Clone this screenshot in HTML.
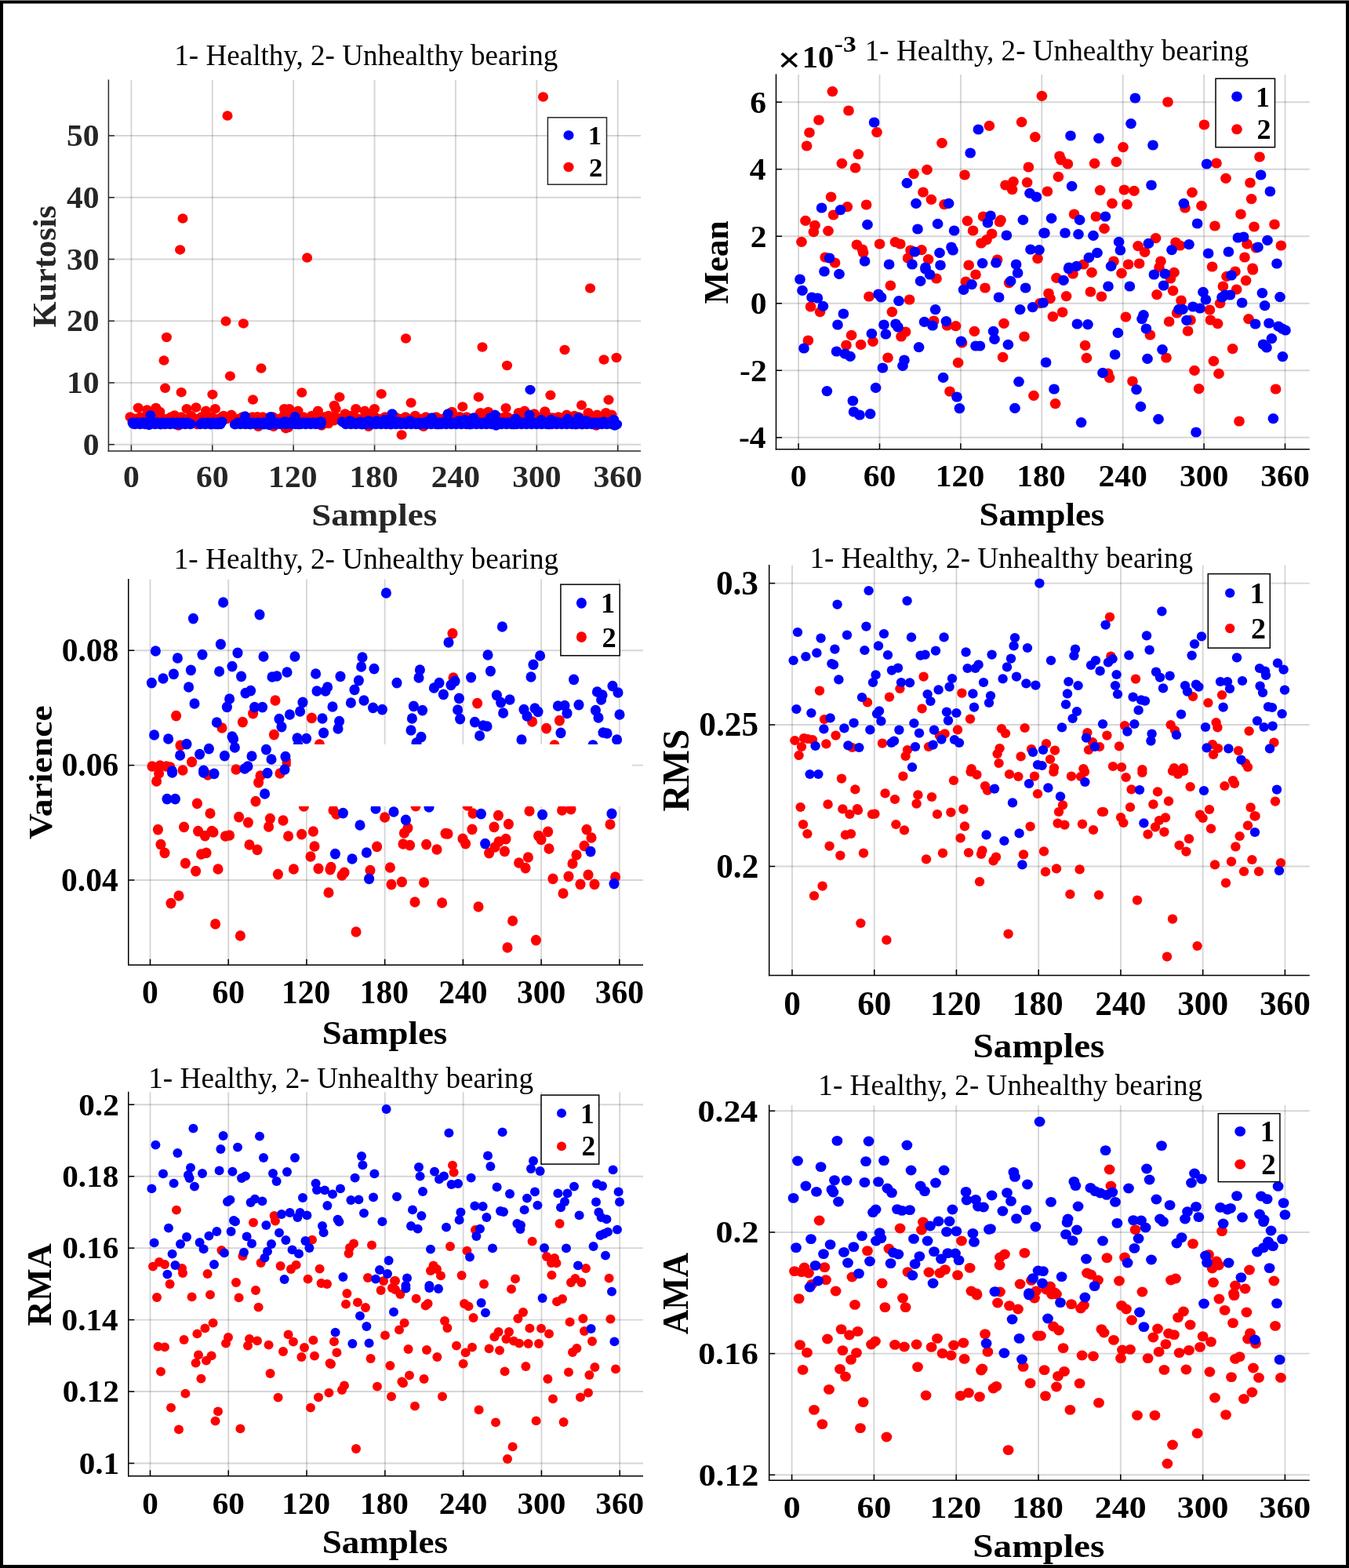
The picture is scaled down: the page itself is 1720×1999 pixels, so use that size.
<!DOCTYPE html>
<html><head><meta charset="utf-8"><title>Bearing features</title>
<style>html,body{margin:0;padding:0;background:#fff}svg{display:block}
text{font-family:"Liberation Serif","Times New Roman",serif}</style></head>
<body><svg width="1720" height="1999" viewBox="0 0 1720 1999">
<rect x="0" y="0" width="1720" height="1999" fill="#fff"/>
<g stroke="#262626" stroke-opacity="0.19" stroke-width="1.9"><line x1="167.4" y1="102" x2="167.4" y2="575"/><line x1="270.78" y1="102" x2="270.78" y2="575"/><line x1="374.17" y1="102" x2="374.17" y2="575"/><line x1="477.55" y1="102" x2="477.55" y2="575"/><line x1="580.93" y1="102" x2="580.93" y2="575"/><line x1="684.32" y1="102" x2="684.32" y2="575"/><line x1="787.7" y1="102" x2="787.7" y2="575"/><line x1="138.4" y1="566.7" x2="817" y2="566.7"/><line x1="138.4" y1="487.96" x2="817" y2="487.96"/><line x1="138.4" y1="409.22" x2="817" y2="409.22"/><line x1="138.4" y1="330.48" x2="817" y2="330.48"/><line x1="138.4" y1="251.74" x2="817" y2="251.74"/><line x1="138.4" y1="173" x2="817" y2="173"/></g>
<g fill="#ff0000"><ellipse cx="290" cy="147.6" rx="6.55" ry="6.25"/><ellipse cx="233" cy="278.6" rx="6.55" ry="6.25"/><ellipse cx="229.6" cy="318.4" rx="6.55" ry="6.25"/><ellipse cx="391.6" cy="328.6" rx="6.55" ry="6.25"/><ellipse cx="288" cy="409.6" rx="6.55" ry="6.25"/><ellipse cx="310.4" cy="412.4" rx="6.55" ry="6.25"/><ellipse cx="212.4" cy="430" rx="6.55" ry="6.25"/><ellipse cx="209" cy="459.6" rx="6.55" ry="6.25"/><ellipse cx="333" cy="469.6" rx="6.55" ry="6.25"/><ellipse cx="293.4" cy="479.4" rx="6.55" ry="6.25"/><ellipse cx="692.5" cy="123.5" rx="6.55" ry="6.25"/><ellipse cx="752.5" cy="367.5" rx="6.55" ry="6.25"/><ellipse cx="517.5" cy="431.5" rx="6.55" ry="6.25"/><ellipse cx="615" cy="442.5" rx="6.55" ry="6.25"/><ellipse cx="720" cy="446" rx="6.55" ry="6.25"/><ellipse cx="770" cy="458.5" rx="6.55" ry="6.25"/><ellipse cx="786" cy="456" rx="6.55" ry="6.25"/><ellipse cx="646.5" cy="466" rx="6.55" ry="6.25"/><ellipse cx="210.6" cy="494.8" rx="6.55" ry="6.25"/><ellipse cx="231.2" cy="500.2" rx="6.55" ry="6.25"/><ellipse cx="270.9" cy="502.9" rx="6.55" ry="6.25"/><ellipse cx="322.5" cy="509.6" rx="6.55" ry="6.25"/><ellipse cx="176.2" cy="520" rx="6.55" ry="6.25"/><ellipse cx="187.5" cy="522.5" rx="6.55" ry="6.25"/><ellipse cx="198.8" cy="520" rx="6.55" ry="6.25"/><ellipse cx="203.8" cy="525" rx="6.55" ry="6.25"/><ellipse cx="222.5" cy="529.4" rx="6.55" ry="6.25"/><ellipse cx="238.1" cy="521.2" rx="6.55" ry="6.25"/><ellipse cx="250" cy="519.4" rx="6.55" ry="6.25"/><ellipse cx="262.5" cy="523.8" rx="6.55" ry="6.25"/><ellipse cx="274.4" cy="521.2" rx="6.55" ry="6.25"/><ellipse cx="243.8" cy="530" rx="6.55" ry="6.25"/><ellipse cx="285" cy="530" rx="6.55" ry="6.25"/><ellipse cx="295" cy="528.8" rx="6.55" ry="6.25"/><ellipse cx="328.1" cy="531.2" rx="6.55" ry="6.25"/><ellipse cx="334.4" cy="532.5" rx="6.55" ry="6.25"/><ellipse cx="362.5" cy="521.2" rx="6.55" ry="6.25"/><ellipse cx="362.5" cy="528.8" rx="6.55" ry="6.25"/><ellipse cx="172.5" cy="533.8" rx="6.55" ry="6.25"/><ellipse cx="181.2" cy="532.5" rx="6.55" ry="6.25"/><ellipse cx="227.5" cy="542.5" rx="6.55" ry="6.25"/><ellipse cx="251.2" cy="541.2" rx="6.55" ry="6.25"/><ellipse cx="329.4" cy="543.8" rx="6.55" ry="6.25"/><ellipse cx="348.8" cy="543.8" rx="6.55" ry="6.25"/><ellipse cx="364.4" cy="546.2" rx="6.55" ry="6.25"/><ellipse cx="384.8" cy="500.6" rx="6.55" ry="6.25"/><ellipse cx="432.9" cy="506.2" rx="6.55" ry="6.25"/><ellipse cx="486.2" cy="502.2" rx="6.55" ry="6.25"/><ellipse cx="524.1" cy="513.5" rx="6.55" ry="6.25"/><ellipse cx="512.1" cy="554.4" rx="6.55" ry="6.25"/><ellipse cx="368.8" cy="521.2" rx="6.55" ry="6.25"/><ellipse cx="380" cy="523.8" rx="6.55" ry="6.25"/><ellipse cx="405.4" cy="523.8" rx="6.55" ry="6.25"/><ellipse cx="426.2" cy="516.9" rx="6.55" ry="6.25"/><ellipse cx="428.1" cy="521.2" rx="6.55" ry="6.25"/><ellipse cx="397.5" cy="530" rx="6.55" ry="6.25"/><ellipse cx="418.8" cy="530" rx="6.55" ry="6.25"/><ellipse cx="430" cy="532.5" rx="6.55" ry="6.25"/><ellipse cx="426.2" cy="536.2" rx="6.55" ry="6.25"/><ellipse cx="440" cy="527.5" rx="6.55" ry="6.25"/><ellipse cx="453.8" cy="521.2" rx="6.55" ry="6.25"/><ellipse cx="465" cy="523.8" rx="6.55" ry="6.25"/><ellipse cx="477.5" cy="521.2" rx="6.55" ry="6.25"/><ellipse cx="447.5" cy="530" rx="6.55" ry="6.25"/><ellipse cx="468.8" cy="527.5" rx="6.55" ry="6.25"/><ellipse cx="490.6" cy="532.5" rx="6.55" ry="6.25"/><ellipse cx="508.8" cy="533.8" rx="6.55" ry="6.25"/><ellipse cx="529.4" cy="530" rx="6.55" ry="6.25"/><ellipse cx="537.5" cy="536.2" rx="6.55" ry="6.25"/><ellipse cx="555" cy="532.5" rx="6.55" ry="6.25"/><ellipse cx="367.5" cy="545" rx="6.55" ry="6.25"/><ellipse cx="410" cy="542.5" rx="6.55" ry="6.25"/><ellipse cx="418.8" cy="540" rx="6.55" ry="6.25"/><ellipse cx="470" cy="543.8" rx="6.55" ry="6.25"/><ellipse cx="540" cy="543.8" rx="6.55" ry="6.25"/><ellipse cx="610.2" cy="506.2" rx="6.55" ry="6.25"/><ellipse cx="589.8" cy="518.4" rx="6.55" ry="6.25"/><ellipse cx="645" cy="520.2" rx="6.55" ry="6.25"/><ellipse cx="701.9" cy="503.8" rx="6.55" ry="6.25"/><ellipse cx="694.8" cy="524.4" rx="6.55" ry="6.25"/><ellipse cx="741.5" cy="516.6" rx="6.55" ry="6.25"/><ellipse cx="776" cy="509.8" rx="6.55" ry="6.25"/><ellipse cx="576.2" cy="525" rx="6.55" ry="6.25"/><ellipse cx="586.2" cy="531.2" rx="6.55" ry="6.25"/><ellipse cx="612.5" cy="526.2" rx="6.55" ry="6.25"/><ellipse cx="622.5" cy="525" rx="6.55" ry="6.25"/><ellipse cx="643.8" cy="531.2" rx="6.55" ry="6.25"/><ellipse cx="661.2" cy="526.2" rx="6.55" ry="6.25"/><ellipse cx="668.8" cy="523.8" rx="6.55" ry="6.25"/><ellipse cx="681.2" cy="527.5" rx="6.55" ry="6.25"/><ellipse cx="705" cy="532.5" rx="6.55" ry="6.25"/><ellipse cx="722.5" cy="528.8" rx="6.55" ry="6.25"/><ellipse cx="732.5" cy="530" rx="6.55" ry="6.25"/><ellipse cx="750" cy="526.2" rx="6.55" ry="6.25"/><ellipse cx="761.2" cy="528.8" rx="6.55" ry="6.25"/><ellipse cx="772.5" cy="526.2" rx="6.55" ry="6.25"/><ellipse cx="780" cy="528.8" rx="6.55" ry="6.25"/><ellipse cx="760" cy="542.5" rx="6.55" ry="6.25"/><ellipse cx="742.5" cy="541.2" rx="6.55" ry="6.25"/><ellipse cx="166" cy="531.5" rx="6.55" ry="6.25"/><ellipse cx="172.5" cy="534" rx="6.55" ry="6.25"/><ellipse cx="179" cy="531.5" rx="6.55" ry="6.25"/><ellipse cx="185.5" cy="534" rx="6.55" ry="6.25"/><ellipse cx="192" cy="531.5" rx="6.55" ry="6.25"/><ellipse cx="198.5" cy="534" rx="6.55" ry="6.25"/><ellipse cx="205" cy="531.5" rx="6.55" ry="6.25"/><ellipse cx="211.5" cy="534" rx="6.55" ry="6.25"/><ellipse cx="218" cy="531.5" rx="6.55" ry="6.25"/><ellipse cx="224.5" cy="534" rx="6.55" ry="6.25"/><ellipse cx="231" cy="531.5" rx="6.55" ry="6.25"/><ellipse cx="237.5" cy="534" rx="6.55" ry="6.25"/><ellipse cx="244" cy="531.5" rx="6.55" ry="6.25"/><ellipse cx="250.5" cy="534" rx="6.55" ry="6.25"/><ellipse cx="257" cy="531.5" rx="6.55" ry="6.25"/><ellipse cx="263.5" cy="534" rx="6.55" ry="6.25"/><ellipse cx="270" cy="531.5" rx="6.55" ry="6.25"/><ellipse cx="276.5" cy="534" rx="6.55" ry="6.25"/><ellipse cx="283" cy="531.5" rx="6.55" ry="6.25"/><ellipse cx="289.5" cy="534" rx="6.55" ry="6.25"/><ellipse cx="296" cy="531.5" rx="6.55" ry="6.25"/><ellipse cx="302.5" cy="534" rx="6.55" ry="6.25"/><ellipse cx="309" cy="531.5" rx="6.55" ry="6.25"/><ellipse cx="315.5" cy="534" rx="6.55" ry="6.25"/><ellipse cx="322" cy="531.5" rx="6.55" ry="6.25"/><ellipse cx="328.5" cy="534" rx="6.55" ry="6.25"/><ellipse cx="335" cy="531.5" rx="6.55" ry="6.25"/><ellipse cx="341.5" cy="534" rx="6.55" ry="6.25"/><ellipse cx="348" cy="531.5" rx="6.55" ry="6.25"/><ellipse cx="354.5" cy="534" rx="6.55" ry="6.25"/><ellipse cx="361" cy="531.5" rx="6.55" ry="6.25"/><ellipse cx="367.5" cy="534" rx="6.55" ry="6.25"/><ellipse cx="374" cy="531.5" rx="6.55" ry="6.25"/><ellipse cx="380.5" cy="534" rx="6.55" ry="6.25"/><ellipse cx="387" cy="531.5" rx="6.55" ry="6.25"/><ellipse cx="393.5" cy="534" rx="6.55" ry="6.25"/><ellipse cx="400" cy="531.5" rx="6.55" ry="6.25"/><ellipse cx="406.5" cy="534" rx="6.55" ry="6.25"/><ellipse cx="413" cy="531.5" rx="6.55" ry="6.25"/><ellipse cx="419.5" cy="534" rx="6.55" ry="6.25"/><ellipse cx="426" cy="531.5" rx="6.55" ry="6.25"/><ellipse cx="432.5" cy="534" rx="6.55" ry="6.25"/><ellipse cx="439" cy="531.5" rx="6.55" ry="6.25"/><ellipse cx="445.5" cy="534" rx="6.55" ry="6.25"/><ellipse cx="452" cy="531.5" rx="6.55" ry="6.25"/><ellipse cx="458.5" cy="534" rx="6.55" ry="6.25"/><ellipse cx="465" cy="531.5" rx="6.55" ry="6.25"/><ellipse cx="471.5" cy="534" rx="6.55" ry="6.25"/><ellipse cx="478" cy="531.5" rx="6.55" ry="6.25"/><ellipse cx="484.5" cy="534" rx="6.55" ry="6.25"/><ellipse cx="491" cy="531.5" rx="6.55" ry="6.25"/><ellipse cx="497.5" cy="534" rx="6.55" ry="6.25"/><ellipse cx="504" cy="531.5" rx="6.55" ry="6.25"/><ellipse cx="510.5" cy="534" rx="6.55" ry="6.25"/><ellipse cx="517" cy="531.5" rx="6.55" ry="6.25"/><ellipse cx="523.5" cy="534" rx="6.55" ry="6.25"/><ellipse cx="530" cy="531.5" rx="6.55" ry="6.25"/><ellipse cx="536.5" cy="534" rx="6.55" ry="6.25"/><ellipse cx="543" cy="531.5" rx="6.55" ry="6.25"/><ellipse cx="549.5" cy="534" rx="6.55" ry="6.25"/><ellipse cx="556" cy="531.5" rx="6.55" ry="6.25"/><ellipse cx="562.5" cy="534" rx="6.55" ry="6.25"/><ellipse cx="569" cy="531.5" rx="6.55" ry="6.25"/><ellipse cx="575.5" cy="534" rx="6.55" ry="6.25"/><ellipse cx="582" cy="531.5" rx="6.55" ry="6.25"/><ellipse cx="588.5" cy="534" rx="6.55" ry="6.25"/><ellipse cx="595" cy="531.5" rx="6.55" ry="6.25"/><ellipse cx="601.5" cy="534" rx="6.55" ry="6.25"/><ellipse cx="608" cy="531.5" rx="6.55" ry="6.25"/><ellipse cx="614.5" cy="534" rx="6.55" ry="6.25"/><ellipse cx="621" cy="531.5" rx="6.55" ry="6.25"/><ellipse cx="627.5" cy="534" rx="6.55" ry="6.25"/><ellipse cx="634" cy="531.5" rx="6.55" ry="6.25"/><ellipse cx="640.5" cy="534" rx="6.55" ry="6.25"/><ellipse cx="647" cy="531.5" rx="6.55" ry="6.25"/><ellipse cx="653.5" cy="534" rx="6.55" ry="6.25"/><ellipse cx="660" cy="531.5" rx="6.55" ry="6.25"/><ellipse cx="666.5" cy="534" rx="6.55" ry="6.25"/><ellipse cx="673" cy="531.5" rx="6.55" ry="6.25"/><ellipse cx="679.5" cy="534" rx="6.55" ry="6.25"/><ellipse cx="686" cy="531.5" rx="6.55" ry="6.25"/><ellipse cx="692.5" cy="534" rx="6.55" ry="6.25"/><ellipse cx="699" cy="531.5" rx="6.55" ry="6.25"/><ellipse cx="705.5" cy="534" rx="6.55" ry="6.25"/><ellipse cx="712" cy="531.5" rx="6.55" ry="6.25"/><ellipse cx="718.5" cy="534" rx="6.55" ry="6.25"/><ellipse cx="725" cy="531.5" rx="6.55" ry="6.25"/><ellipse cx="731.5" cy="534" rx="6.55" ry="6.25"/><ellipse cx="738" cy="531.5" rx="6.55" ry="6.25"/><ellipse cx="744.5" cy="534" rx="6.55" ry="6.25"/><ellipse cx="751" cy="531.5" rx="6.55" ry="6.25"/><ellipse cx="757.5" cy="534" rx="6.55" ry="6.25"/><ellipse cx="764" cy="531.5" rx="6.55" ry="6.25"/><ellipse cx="770.5" cy="534" rx="6.55" ry="6.25"/><ellipse cx="777" cy="531.5" rx="6.55" ry="6.25"/></g>
<g fill="#0000ff"><ellipse cx="170" cy="540.6" rx="6.55" ry="6.25"/><ellipse cx="176.9" cy="540" rx="6.55" ry="6.25"/><ellipse cx="182.5" cy="538.8" rx="6.55" ry="6.25"/><ellipse cx="190" cy="541.9" rx="6.55" ry="6.25"/><ellipse cx="191.9" cy="529.4" rx="6.55" ry="6.25"/><ellipse cx="197.5" cy="538.8" rx="6.55" ry="6.25"/><ellipse cx="205" cy="541.2" rx="6.55" ry="6.25"/><ellipse cx="215" cy="540" rx="6.55" ry="6.25"/><ellipse cx="225" cy="540.6" rx="6.55" ry="6.25"/><ellipse cx="236.2" cy="539.4" rx="6.55" ry="6.25"/><ellipse cx="243.1" cy="540.6" rx="6.55" ry="6.25"/><ellipse cx="257.5" cy="539.4" rx="6.55" ry="6.25"/><ellipse cx="269.4" cy="541.2" rx="6.55" ry="6.25"/><ellipse cx="277.5" cy="541.2" rx="6.55" ry="6.25"/><ellipse cx="283.1" cy="537.5" rx="6.55" ry="6.25"/><ellipse cx="299.4" cy="541.2" rx="6.55" ry="6.25"/><ellipse cx="308.8" cy="540" rx="6.55" ry="6.25"/><ellipse cx="312.5" cy="530.6" rx="6.55" ry="6.25"/><ellipse cx="318.8" cy="541.2" rx="6.55" ry="6.25"/><ellipse cx="325" cy="540" rx="6.55" ry="6.25"/><ellipse cx="336.2" cy="541.2" rx="6.55" ry="6.25"/><ellipse cx="343.1" cy="541.9" rx="6.55" ry="6.25"/><ellipse cx="345" cy="531.2" rx="6.55" ry="6.25"/><ellipse cx="353.8" cy="540" rx="6.55" ry="6.25"/><ellipse cx="362.5" cy="537.5" rx="6.55" ry="6.25"/><ellipse cx="365" cy="537.5" rx="6.55" ry="6.25"/><ellipse cx="376.2" cy="531.2" rx="6.55" ry="6.25"/><ellipse cx="380.6" cy="541.2" rx="6.55" ry="6.25"/><ellipse cx="388.1" cy="538.8" rx="6.55" ry="6.25"/><ellipse cx="397.5" cy="540" rx="6.55" ry="6.25"/><ellipse cx="409.4" cy="537.5" rx="6.55" ry="6.25"/><ellipse cx="436.2" cy="537.5" rx="6.55" ry="6.25"/><ellipse cx="446.2" cy="536.2" rx="6.55" ry="6.25"/><ellipse cx="460" cy="537.5" rx="6.55" ry="6.25"/><ellipse cx="461.9" cy="541.2" rx="6.55" ry="6.25"/><ellipse cx="470" cy="536.2" rx="6.55" ry="6.25"/><ellipse cx="476.2" cy="540" rx="6.55" ry="6.25"/><ellipse cx="480" cy="536.2" rx="6.55" ry="6.25"/><ellipse cx="490.6" cy="535" rx="6.55" ry="6.25"/><ellipse cx="500" cy="527.5" rx="6.55" ry="6.25"/><ellipse cx="498.1" cy="541.2" rx="6.55" ry="6.25"/><ellipse cx="507.5" cy="537.5" rx="6.55" ry="6.25"/><ellipse cx="516.9" cy="538.8" rx="6.55" ry="6.25"/><ellipse cx="522.5" cy="536.2" rx="6.55" ry="6.25"/><ellipse cx="535" cy="541.2" rx="6.55" ry="6.25"/><ellipse cx="543.8" cy="537.5" rx="6.55" ry="6.25"/><ellipse cx="550.6" cy="532.5" rx="6.55" ry="6.25"/><ellipse cx="558.8" cy="541.2" rx="6.55" ry="6.25"/><ellipse cx="566.2" cy="537.5" rx="6.55" ry="6.25"/><ellipse cx="571.2" cy="527.5" rx="6.55" ry="6.25"/><ellipse cx="572.5" cy="537.5" rx="6.55" ry="6.25"/><ellipse cx="676" cy="496.9" rx="6.55" ry="6.25"/><ellipse cx="577.5" cy="540" rx="6.55" ry="6.25"/><ellipse cx="585" cy="536.2" rx="6.55" ry="6.25"/><ellipse cx="592.5" cy="535" rx="6.55" ry="6.25"/><ellipse cx="598.8" cy="541.2" rx="6.55" ry="6.25"/><ellipse cx="603.8" cy="532.5" rx="6.55" ry="6.25"/><ellipse cx="608.8" cy="540" rx="6.55" ry="6.25"/><ellipse cx="617.5" cy="540" rx="6.55" ry="6.25"/><ellipse cx="625" cy="532.5" rx="6.55" ry="6.25"/><ellipse cx="631.2" cy="528.8" rx="6.55" ry="6.25"/><ellipse cx="632.5" cy="542.5" rx="6.55" ry="6.25"/><ellipse cx="640" cy="538.8" rx="6.55" ry="6.25"/><ellipse cx="647.5" cy="538.8" rx="6.55" ry="6.25"/><ellipse cx="655" cy="541.2" rx="6.55" ry="6.25"/><ellipse cx="657.5" cy="533.8" rx="6.55" ry="6.25"/><ellipse cx="665" cy="538.8" rx="6.55" ry="6.25"/><ellipse cx="672.5" cy="538.8" rx="6.55" ry="6.25"/><ellipse cx="675" cy="528.8" rx="6.55" ry="6.25"/><ellipse cx="686.2" cy="540" rx="6.55" ry="6.25"/><ellipse cx="690" cy="535" rx="6.55" ry="6.25"/><ellipse cx="700" cy="541.2" rx="6.55" ry="6.25"/><ellipse cx="702.5" cy="535" rx="6.55" ry="6.25"/><ellipse cx="710" cy="537.5" rx="6.55" ry="6.25"/><ellipse cx="715" cy="540" rx="6.55" ry="6.25"/><ellipse cx="723.8" cy="533.8" rx="6.55" ry="6.25"/><ellipse cx="733.8" cy="541.2" rx="6.55" ry="6.25"/><ellipse cx="737.5" cy="532.5" rx="6.55" ry="6.25"/><ellipse cx="747.5" cy="536.2" rx="6.55" ry="6.25"/><ellipse cx="753.8" cy="538.8" rx="6.55" ry="6.25"/><ellipse cx="762.5" cy="538.8" rx="6.55" ry="6.25"/><ellipse cx="770" cy="537.5" rx="6.55" ry="6.25"/><ellipse cx="775" cy="540" rx="6.55" ry="6.25"/><ellipse cx="782.5" cy="535" rx="6.55" ry="6.25"/><ellipse cx="783.8" cy="542.5" rx="6.55" ry="6.25"/><ellipse cx="169" cy="538.5" rx="6.55" ry="6.25"/><ellipse cx="172.2" cy="541" rx="6.55" ry="6.25"/><ellipse cx="175.4" cy="538.5" rx="6.55" ry="6.25"/><ellipse cx="178.6" cy="541" rx="6.55" ry="6.25"/><ellipse cx="181.8" cy="538.5" rx="6.55" ry="6.25"/><ellipse cx="185" cy="541" rx="6.55" ry="6.25"/><ellipse cx="188.2" cy="538.5" rx="6.55" ry="6.25"/><ellipse cx="191.4" cy="541" rx="6.55" ry="6.25"/><ellipse cx="194.6" cy="538.5" rx="6.55" ry="6.25"/><ellipse cx="197.8" cy="541" rx="6.55" ry="6.25"/><ellipse cx="201" cy="538.5" rx="6.55" ry="6.25"/><ellipse cx="204.2" cy="541" rx="6.55" ry="6.25"/><ellipse cx="207.4" cy="538.5" rx="6.55" ry="6.25"/><ellipse cx="210.6" cy="541" rx="6.55" ry="6.25"/><ellipse cx="213.8" cy="538.5" rx="6.55" ry="6.25"/><ellipse cx="217" cy="541" rx="6.55" ry="6.25"/><ellipse cx="220.2" cy="538.5" rx="6.55" ry="6.25"/><ellipse cx="223.4" cy="541" rx="6.55" ry="6.25"/><ellipse cx="226.6" cy="538.5" rx="6.55" ry="6.25"/><ellipse cx="229.8" cy="541" rx="6.55" ry="6.25"/><ellipse cx="233" cy="538.5" rx="6.55" ry="6.25"/><ellipse cx="236.2" cy="541" rx="6.55" ry="6.25"/><ellipse cx="239.4" cy="538.5" rx="6.55" ry="6.25"/><ellipse cx="242.6" cy="541" rx="6.55" ry="6.25"/><ellipse cx="255.4" cy="541" rx="6.55" ry="6.25"/><ellipse cx="258.6" cy="538.5" rx="6.55" ry="6.25"/><ellipse cx="261.8" cy="541" rx="6.55" ry="6.25"/><ellipse cx="265" cy="538.5" rx="6.55" ry="6.25"/><ellipse cx="268.2" cy="541" rx="6.55" ry="6.25"/><ellipse cx="271.4" cy="538.5" rx="6.55" ry="6.25"/><ellipse cx="274.6" cy="541" rx="6.55" ry="6.25"/><ellipse cx="277.8" cy="538.5" rx="6.55" ry="6.25"/><ellipse cx="281" cy="541" rx="6.55" ry="6.25"/><ellipse cx="300.2" cy="541" rx="6.55" ry="6.25"/><ellipse cx="303.4" cy="538.5" rx="6.55" ry="6.25"/><ellipse cx="306.6" cy="541" rx="6.55" ry="6.25"/><ellipse cx="309.8" cy="538.5" rx="6.55" ry="6.25"/><ellipse cx="313" cy="541" rx="6.55" ry="6.25"/><ellipse cx="316.2" cy="538.5" rx="6.55" ry="6.25"/><ellipse cx="319.4" cy="541" rx="6.55" ry="6.25"/><ellipse cx="322.6" cy="538.5" rx="6.55" ry="6.25"/><ellipse cx="325.8" cy="541" rx="6.55" ry="6.25"/><ellipse cx="329" cy="538.5" rx="6.55" ry="6.25"/><ellipse cx="332.2" cy="541" rx="6.55" ry="6.25"/><ellipse cx="335.4" cy="538.5" rx="6.55" ry="6.25"/><ellipse cx="338.6" cy="541" rx="6.55" ry="6.25"/><ellipse cx="341.8" cy="538.5" rx="6.55" ry="6.25"/><ellipse cx="345" cy="541" rx="6.55" ry="6.25"/><ellipse cx="348.2" cy="538.5" rx="6.55" ry="6.25"/><ellipse cx="351.4" cy="541" rx="6.55" ry="6.25"/><ellipse cx="354.6" cy="538.5" rx="6.55" ry="6.25"/><ellipse cx="357.8" cy="541" rx="6.55" ry="6.25"/><ellipse cx="361" cy="538.5" rx="6.55" ry="6.25"/><ellipse cx="364.2" cy="541" rx="6.55" ry="6.25"/><ellipse cx="367.4" cy="538.5" rx="6.55" ry="6.25"/><ellipse cx="370.6" cy="541" rx="6.55" ry="6.25"/><ellipse cx="373.8" cy="538.5" rx="6.55" ry="6.25"/><ellipse cx="377" cy="541" rx="6.55" ry="6.25"/><ellipse cx="380.2" cy="538.5" rx="6.55" ry="6.25"/><ellipse cx="383.4" cy="541" rx="6.55" ry="6.25"/><ellipse cx="386.6" cy="538.5" rx="6.55" ry="6.25"/><ellipse cx="389.8" cy="541" rx="6.55" ry="6.25"/><ellipse cx="393" cy="538.5" rx="6.55" ry="6.25"/><ellipse cx="396.2" cy="541" rx="6.55" ry="6.25"/><ellipse cx="399.4" cy="538.5" rx="6.55" ry="6.25"/><ellipse cx="402.6" cy="541" rx="6.55" ry="6.25"/><ellipse cx="405.8" cy="538.5" rx="6.55" ry="6.25"/><ellipse cx="409" cy="541" rx="6.55" ry="6.25"/><ellipse cx="437.8" cy="538.5" rx="6.55" ry="6.25"/><ellipse cx="441" cy="541" rx="6.55" ry="6.25"/><ellipse cx="444.2" cy="538.5" rx="6.55" ry="6.25"/><ellipse cx="447.4" cy="541" rx="6.55" ry="6.25"/><ellipse cx="450.6" cy="538.5" rx="6.55" ry="6.25"/><ellipse cx="453.8" cy="541" rx="6.55" ry="6.25"/><ellipse cx="457" cy="538.5" rx="6.55" ry="6.25"/><ellipse cx="460.2" cy="541" rx="6.55" ry="6.25"/><ellipse cx="463.4" cy="538.5" rx="6.55" ry="6.25"/><ellipse cx="466.6" cy="541" rx="6.55" ry="6.25"/><ellipse cx="469.8" cy="538.5" rx="6.55" ry="6.25"/><ellipse cx="473" cy="541" rx="6.55" ry="6.25"/><ellipse cx="476.2" cy="538.5" rx="6.55" ry="6.25"/><ellipse cx="479.4" cy="541" rx="6.55" ry="6.25"/><ellipse cx="482.6" cy="538.5" rx="6.55" ry="6.25"/><ellipse cx="485.8" cy="541" rx="6.55" ry="6.25"/><ellipse cx="489" cy="538.5" rx="6.55" ry="6.25"/><ellipse cx="492.2" cy="541" rx="6.55" ry="6.25"/><ellipse cx="495.4" cy="538.5" rx="6.55" ry="6.25"/><ellipse cx="498.6" cy="541" rx="6.55" ry="6.25"/><ellipse cx="501.8" cy="538.5" rx="6.55" ry="6.25"/><ellipse cx="505" cy="541" rx="6.55" ry="6.25"/><ellipse cx="508.2" cy="538.5" rx="6.55" ry="6.25"/><ellipse cx="511.4" cy="541" rx="6.55" ry="6.25"/><ellipse cx="514.6" cy="538.5" rx="6.55" ry="6.25"/><ellipse cx="517.8" cy="541" rx="6.55" ry="6.25"/><ellipse cx="521" cy="538.5" rx="6.55" ry="6.25"/><ellipse cx="524.2" cy="541" rx="6.55" ry="6.25"/><ellipse cx="527.4" cy="538.5" rx="6.55" ry="6.25"/><ellipse cx="530.6" cy="541" rx="6.55" ry="6.25"/><ellipse cx="533.8" cy="538.5" rx="6.55" ry="6.25"/><ellipse cx="537" cy="541" rx="6.55" ry="6.25"/><ellipse cx="540.2" cy="538.5" rx="6.55" ry="6.25"/><ellipse cx="543.4" cy="541" rx="6.55" ry="6.25"/><ellipse cx="546.6" cy="538.5" rx="6.55" ry="6.25"/><ellipse cx="549.8" cy="541" rx="6.55" ry="6.25"/><ellipse cx="553" cy="538.5" rx="6.55" ry="6.25"/><ellipse cx="556.2" cy="541" rx="6.55" ry="6.25"/><ellipse cx="559.4" cy="538.5" rx="6.55" ry="6.25"/><ellipse cx="562.6" cy="541" rx="6.55" ry="6.25"/><ellipse cx="565.8" cy="538.5" rx="6.55" ry="6.25"/><ellipse cx="569" cy="541" rx="6.55" ry="6.25"/><ellipse cx="572.2" cy="538.5" rx="6.55" ry="6.25"/><ellipse cx="575.4" cy="541" rx="6.55" ry="6.25"/><ellipse cx="578.6" cy="538.5" rx="6.55" ry="6.25"/><ellipse cx="581.8" cy="541" rx="6.55" ry="6.25"/><ellipse cx="585" cy="538.5" rx="6.55" ry="6.25"/><ellipse cx="588.2" cy="541" rx="6.55" ry="6.25"/><ellipse cx="591.4" cy="538.5" rx="6.55" ry="6.25"/><ellipse cx="594.6" cy="541" rx="6.55" ry="6.25"/><ellipse cx="597.8" cy="538.5" rx="6.55" ry="6.25"/><ellipse cx="601" cy="541" rx="6.55" ry="6.25"/><ellipse cx="604.2" cy="538.5" rx="6.55" ry="6.25"/><ellipse cx="607.4" cy="541" rx="6.55" ry="6.25"/><ellipse cx="610.6" cy="538.5" rx="6.55" ry="6.25"/><ellipse cx="613.8" cy="541" rx="6.55" ry="6.25"/><ellipse cx="617" cy="538.5" rx="6.55" ry="6.25"/><ellipse cx="620.2" cy="541" rx="6.55" ry="6.25"/><ellipse cx="623.4" cy="538.5" rx="6.55" ry="6.25"/><ellipse cx="626.6" cy="541" rx="6.55" ry="6.25"/><ellipse cx="629.8" cy="538.5" rx="6.55" ry="6.25"/><ellipse cx="633" cy="541" rx="6.55" ry="6.25"/><ellipse cx="636.2" cy="538.5" rx="6.55" ry="6.25"/><ellipse cx="639.4" cy="541" rx="6.55" ry="6.25"/><ellipse cx="642.6" cy="538.5" rx="6.55" ry="6.25"/><ellipse cx="645.8" cy="541" rx="6.55" ry="6.25"/><ellipse cx="649" cy="538.5" rx="6.55" ry="6.25"/><ellipse cx="652.2" cy="541" rx="6.55" ry="6.25"/><ellipse cx="655.4" cy="538.5" rx="6.55" ry="6.25"/><ellipse cx="658.6" cy="541" rx="6.55" ry="6.25"/><ellipse cx="661.8" cy="538.5" rx="6.55" ry="6.25"/><ellipse cx="665" cy="541" rx="6.55" ry="6.25"/><ellipse cx="668.2" cy="538.5" rx="6.55" ry="6.25"/><ellipse cx="671.4" cy="541" rx="6.55" ry="6.25"/><ellipse cx="674.6" cy="538.5" rx="6.55" ry="6.25"/><ellipse cx="677.8" cy="541" rx="6.55" ry="6.25"/><ellipse cx="681" cy="538.5" rx="6.55" ry="6.25"/><ellipse cx="684.2" cy="541" rx="6.55" ry="6.25"/><ellipse cx="687.4" cy="538.5" rx="6.55" ry="6.25"/><ellipse cx="690.6" cy="541" rx="6.55" ry="6.25"/><ellipse cx="693.8" cy="538.5" rx="6.55" ry="6.25"/><ellipse cx="697" cy="541" rx="6.55" ry="6.25"/><ellipse cx="700.2" cy="538.5" rx="6.55" ry="6.25"/><ellipse cx="703.4" cy="541" rx="6.55" ry="6.25"/><ellipse cx="706.6" cy="538.5" rx="6.55" ry="6.25"/><ellipse cx="709.8" cy="541" rx="6.55" ry="6.25"/><ellipse cx="713" cy="538.5" rx="6.55" ry="6.25"/><ellipse cx="716.2" cy="541" rx="6.55" ry="6.25"/><ellipse cx="719.4" cy="538.5" rx="6.55" ry="6.25"/><ellipse cx="722.6" cy="541" rx="6.55" ry="6.25"/><ellipse cx="725.8" cy="538.5" rx="6.55" ry="6.25"/><ellipse cx="729" cy="541" rx="6.55" ry="6.25"/><ellipse cx="732.2" cy="538.5" rx="6.55" ry="6.25"/><ellipse cx="735.4" cy="541" rx="6.55" ry="6.25"/><ellipse cx="738.6" cy="538.5" rx="6.55" ry="6.25"/><ellipse cx="741.8" cy="541" rx="6.55" ry="6.25"/><ellipse cx="745" cy="538.5" rx="6.55" ry="6.25"/><ellipse cx="748.2" cy="541" rx="6.55" ry="6.25"/><ellipse cx="751.4" cy="538.5" rx="6.55" ry="6.25"/><ellipse cx="754.6" cy="541" rx="6.55" ry="6.25"/><ellipse cx="757.8" cy="538.5" rx="6.55" ry="6.25"/><ellipse cx="761" cy="541" rx="6.55" ry="6.25"/><ellipse cx="764.2" cy="538.5" rx="6.55" ry="6.25"/><ellipse cx="767.4" cy="541" rx="6.55" ry="6.25"/><ellipse cx="770.6" cy="538.5" rx="6.55" ry="6.25"/><ellipse cx="773.8" cy="541" rx="6.55" ry="6.25"/><ellipse cx="777" cy="538.5" rx="6.55" ry="6.25"/><ellipse cx="780.2" cy="541" rx="6.55" ry="6.25"/><ellipse cx="783.4" cy="538.5" rx="6.55" ry="6.25"/><ellipse cx="786.6" cy="541" rx="6.55" ry="6.25"/></g>
<line x1="138.4" y1="101.5" x2="138.4" y2="575.75" stroke="#262626" stroke-width="1.5"/>
<line x1="137.65" y1="575" x2="817" y2="575" stroke="#262626" stroke-width="1.5"/>
<line x1="167.4" y1="575" x2="167.4" y2="567.5" stroke="#262626" stroke-width="1.5"/>
<line x1="270.78" y1="575" x2="270.78" y2="567.5" stroke="#262626" stroke-width="1.5"/>
<line x1="374.17" y1="575" x2="374.17" y2="567.5" stroke="#262626" stroke-width="1.5"/>
<line x1="477.55" y1="575" x2="477.55" y2="567.5" stroke="#262626" stroke-width="1.5"/>
<line x1="580.93" y1="575" x2="580.93" y2="567.5" stroke="#262626" stroke-width="1.5"/>
<line x1="684.32" y1="575" x2="684.32" y2="567.5" stroke="#262626" stroke-width="1.5"/>
<line x1="787.7" y1="575" x2="787.7" y2="567.5" stroke="#262626" stroke-width="1.5"/>
<line x1="138.4" y1="566.7" x2="145.9" y2="566.7" stroke="#262626" stroke-width="1.5"/>
<line x1="138.4" y1="487.96" x2="145.9" y2="487.96" stroke="#262626" stroke-width="1.5"/>
<line x1="138.4" y1="409.22" x2="145.9" y2="409.22" stroke="#262626" stroke-width="1.5"/>
<line x1="138.4" y1="330.48" x2="145.9" y2="330.48" stroke="#262626" stroke-width="1.5"/>
<line x1="138.4" y1="251.74" x2="145.9" y2="251.74" stroke="#262626" stroke-width="1.5"/>
<line x1="138.4" y1="173" x2="145.9" y2="173" stroke="#262626" stroke-width="1.5"/>
<text transform="translate(157.01,621) scale(1.0550,1)" font-size="39.4" font-weight="bold" fill="#262626">0</text>
<text transform="translate(250.05,621) scale(1.0550,1)" font-size="39.4" font-weight="bold" fill="#262626">60</text>
<text transform="translate(342.11,621) scale(1.0550,1)" font-size="39.4" font-weight="bold" fill="#262626">120</text>
<text transform="translate(445.49,621) scale(1.0550,1)" font-size="39.4" font-weight="bold" fill="#262626">180</text>
<text transform="translate(549.65,621) scale(1.0550,1)" font-size="39.4" font-weight="bold" fill="#262626">240</text>
<text transform="translate(653.14,621) scale(1.0550,1)" font-size="39.4" font-weight="bold" fill="#262626">300</text>
<text transform="translate(756.52,621) scale(1.0550,1)" font-size="39.4" font-weight="bold" fill="#262626">360</text>
<text transform="translate(105.68,579.8) scale(1.0550,1)" font-size="39.4" font-weight="bold" fill="#262626">0</text>
<text transform="translate(84.89,501.06) scale(1.0550,1)" font-size="39.4" font-weight="bold" fill="#262626">10</text>
<text transform="translate(84.89,422.32) scale(1.0550,1)" font-size="39.4" font-weight="bold" fill="#262626">20</text>
<text transform="translate(84.89,343.58) scale(1.0550,1)" font-size="39.4" font-weight="bold" fill="#262626">30</text>
<text transform="translate(84.89,264.84) scale(1.0550,1)" font-size="39.4" font-weight="bold" fill="#262626">40</text>
<text transform="translate(84.89,186.1) scale(1.0550,1)" font-size="39.4" font-weight="bold" fill="#262626">50</text>
<text transform="translate(397.14,670.14) scale(1.1044,1)" font-size="40.77" font-weight="bold" fill="#262626">Samples</text>
<text transform="translate(71.46,417.44) rotate(-90) scale(0.9835,1)" font-size="43.11" font-weight="bold" fill="#262626">Kurtosis</text>
<text transform="translate(222.25,83.1) scale(0.9920,1)" font-size="37.4" font-weight="normal" fill="#000">1- Healthy, 2- Unhealthy bearing</text>
<rect x="698.4" y="149.8" width="75.1" height="85.4" fill="#fff" stroke="#262626" stroke-width="1.5"/>
<ellipse cx="725" cy="172.4" rx="6.55" ry="6.25" fill="#0000ff"/>
<ellipse cx="725" cy="213" rx="6.55" ry="6.25" fill="#ff0000"/>
<text transform="translate(749.74,184.4) scale(1.0000,1)" font-size="34.5" font-weight="bold" fill="#000">1</text>
<text transform="translate(751.03,225) scale(1.0000,1)" font-size="34.5" font-weight="bold" fill="#000">2</text>
<g stroke="#262626" stroke-opacity="0.19" stroke-width="1.9"><line x1="1018.1" y1="95.1" x2="1018.1" y2="572.8"/><line x1="1121.5" y1="95.1" x2="1121.5" y2="572.8"/><line x1="1224.9" y1="95.1" x2="1224.9" y2="572.8"/><line x1="1328.3" y1="95.1" x2="1328.3" y2="572.8"/><line x1="1431.7" y1="95.1" x2="1431.7" y2="572.8"/><line x1="1535.1" y1="95.1" x2="1535.1" y2="572.8"/><line x1="1638.5" y1="95.1" x2="1638.5" y2="572.8"/><line x1="989.5" y1="557.8" x2="1669.8" y2="557.8"/><line x1="989.5" y1="472.28" x2="1669.8" y2="472.28"/><line x1="989.5" y1="386.76" x2="1669.8" y2="386.76"/><line x1="989.5" y1="301.24" x2="1669.8" y2="301.24"/><line x1="989.5" y1="215.72" x2="1669.8" y2="215.72"/><line x1="989.5" y1="130.2" x2="1669.8" y2="130.2"/></g>
<g fill="#ff0000"><ellipse cx="1061.4" cy="116.6" rx="6.85" ry="6.55"/><ellipse cx="1082" cy="141" rx="6.85" ry="6.55"/><ellipse cx="1044" cy="153" rx="6.85" ry="6.55"/><ellipse cx="1032" cy="169" rx="6.85" ry="6.55"/><ellipse cx="1028.6" cy="186" rx="6.85" ry="6.55"/><ellipse cx="1118" cy="168.6" rx="6.85" ry="6.55"/><ellipse cx="1094.4" cy="196.6" rx="6.85" ry="6.55"/><ellipse cx="1073.4" cy="208.4" rx="6.85" ry="6.55"/><ellipse cx="1090.6" cy="214" rx="6.85" ry="6.55"/><ellipse cx="1165" cy="221.6" rx="6.85" ry="6.55"/><ellipse cx="1182" cy="216.4" rx="6.85" ry="6.55"/><ellipse cx="1177" cy="245" rx="6.85" ry="6.55"/><ellipse cx="1187.4" cy="254.4" rx="6.85" ry="6.55"/><ellipse cx="1201" cy="182.4" rx="6.85" ry="6.55"/><ellipse cx="1204" cy="260.6" rx="6.85" ry="6.55"/><ellipse cx="1230" cy="223" rx="6.85" ry="6.55"/><ellipse cx="1261.4" cy="160.4" rx="6.85" ry="6.55"/><ellipse cx="1302.6" cy="155.6" rx="6.85" ry="6.55"/><ellipse cx="1319.8" cy="174.6" rx="6.85" ry="6.55"/><ellipse cx="1311.4" cy="213" rx="6.85" ry="6.55"/><ellipse cx="1282" cy="236" rx="6.85" ry="6.55"/><ellipse cx="1292" cy="231.6" rx="6.85" ry="6.55"/><ellipse cx="1290.6" cy="241.6" rx="6.85" ry="6.55"/><ellipse cx="1309.6" cy="232.6" rx="6.85" ry="6.55"/><ellipse cx="1328.4" cy="122.4" rx="6.85" ry="6.55"/><ellipse cx="1059.6" cy="251" rx="6.85" ry="6.55"/><ellipse cx="1080.4" cy="263.6" rx="6.85" ry="6.55"/><ellipse cx="1104.6" cy="261" rx="6.85" ry="6.55"/><ellipse cx="1062.6" cy="274" rx="6.85" ry="6.55"/><ellipse cx="1027" cy="281.4" rx="6.85" ry="6.55"/><ellipse cx="1039" cy="287.4" rx="6.85" ry="6.55"/><ellipse cx="1037.4" cy="295.6" rx="6.85" ry="6.55"/><ellipse cx="1056" cy="294.4" rx="6.85" ry="6.55"/><ellipse cx="1022" cy="308.4" rx="6.85" ry="6.55"/><ellipse cx="1092.4" cy="312" rx="6.85" ry="6.55"/><ellipse cx="1099.6" cy="318" rx="6.85" ry="6.55"/><ellipse cx="1100.6" cy="322" rx="6.85" ry="6.55"/><ellipse cx="1121.6" cy="311" rx="6.85" ry="6.55"/><ellipse cx="1141.4" cy="308.6" rx="6.85" ry="6.55"/><ellipse cx="1147.8" cy="311" rx="6.85" ry="6.55"/><ellipse cx="1161" cy="319" rx="6.85" ry="6.55"/><ellipse cx="1175" cy="318.6" rx="6.85" ry="6.55"/><ellipse cx="1157.6" cy="329" rx="6.85" ry="6.55"/><ellipse cx="1183.6" cy="330.6" rx="6.85" ry="6.55"/><ellipse cx="1052.2" cy="328" rx="6.85" ry="6.55"/><ellipse cx="1064.6" cy="335" rx="6.85" ry="6.55"/><ellipse cx="1233.4" cy="281.6" rx="6.85" ry="6.55"/><ellipse cx="1240.6" cy="294" rx="6.85" ry="6.55"/><ellipse cx="1253.6" cy="276" rx="6.85" ry="6.55"/><ellipse cx="1276" cy="280.6" rx="6.85" ry="6.55"/><ellipse cx="1274.6" cy="283" rx="6.85" ry="6.55"/><ellipse cx="1264.6" cy="298" rx="6.85" ry="6.55"/><ellipse cx="1258" cy="305.6" rx="6.85" ry="6.55"/><ellipse cx="1251" cy="310" rx="6.85" ry="6.55"/><ellipse cx="1271.6" cy="331" rx="6.85" ry="6.55"/><ellipse cx="1323" cy="329.6" rx="6.85" ry="6.55"/><ellipse cx="1235.2" cy="338" rx="6.85" ry="6.55"/><ellipse cx="1489" cy="130" rx="6.85" ry="6.55"/><ellipse cx="1535.4" cy="159" rx="6.85" ry="6.55"/><ellipse cx="1432" cy="187.6" rx="6.85" ry="6.55"/><ellipse cx="1351" cy="199" rx="6.85" ry="6.55"/><ellipse cx="1353" cy="204" rx="6.85" ry="6.55"/><ellipse cx="1361.4" cy="209" rx="6.85" ry="6.55"/><ellipse cx="1395.6" cy="208.4" rx="6.85" ry="6.55"/><ellipse cx="1423.4" cy="206.4" rx="6.85" ry="6.55"/><ellipse cx="1551" cy="208" rx="6.85" ry="6.55"/><ellipse cx="1606" cy="200" rx="6.85" ry="6.55"/><ellipse cx="1349.4" cy="225.4" rx="6.85" ry="6.55"/><ellipse cx="1335.4" cy="244" rx="6.85" ry="6.55"/><ellipse cx="1402.6" cy="242.6" rx="6.85" ry="6.55"/><ellipse cx="1433.4" cy="242" rx="6.85" ry="6.55"/><ellipse cx="1446" cy="243.4" rx="6.85" ry="6.55"/><ellipse cx="1520" cy="245.4" rx="6.85" ry="6.55"/><ellipse cx="1563" cy="227.4" rx="6.85" ry="6.55"/><ellipse cx="1594" cy="233" rx="6.85" ry="6.55"/><ellipse cx="1595.6" cy="253.6" rx="6.85" ry="6.55"/><ellipse cx="1418" cy="259.4" rx="6.85" ry="6.55"/><ellipse cx="1437" cy="260.6" rx="6.85" ry="6.55"/><ellipse cx="1511" cy="265" rx="6.85" ry="6.55"/><ellipse cx="1532" cy="262.4" rx="6.85" ry="6.55"/><ellipse cx="1369.6" cy="273" rx="6.85" ry="6.55"/><ellipse cx="1397.4" cy="276" rx="6.85" ry="6.55"/><ellipse cx="1408" cy="291.4" rx="6.85" ry="6.55"/><ellipse cx="1582" cy="273" rx="6.85" ry="6.55"/><ellipse cx="1549" cy="288" rx="6.85" ry="6.55"/><ellipse cx="1599" cy="289" rx="6.85" ry="6.55"/><ellipse cx="1625" cy="286" rx="6.85" ry="6.55"/><ellipse cx="1473.6" cy="303.6" rx="6.85" ry="6.55"/><ellipse cx="1451" cy="313.6" rx="6.85" ry="6.55"/><ellipse cx="1459.6" cy="321.4" rx="6.85" ry="6.55"/><ellipse cx="1499" cy="309" rx="6.85" ry="6.55"/><ellipse cx="1504.6" cy="313" rx="6.85" ry="6.55"/><ellipse cx="1590" cy="311" rx="6.85" ry="6.55"/><ellipse cx="1601.6" cy="316" rx="6.85" ry="6.55"/><ellipse cx="1633.4" cy="313" rx="6.85" ry="6.55"/><ellipse cx="1587" cy="328" rx="6.85" ry="6.55"/><ellipse cx="1420" cy="333" rx="6.85" ry="6.55"/><ellipse cx="1381.6" cy="337" rx="6.85" ry="6.55"/><ellipse cx="1438.6" cy="337" rx="6.85" ry="6.55"/><ellipse cx="1452.6" cy="336" rx="6.85" ry="6.55"/><ellipse cx="1480" cy="333" rx="6.85" ry="6.55"/><ellipse cx="1478" cy="341" rx="6.85" ry="6.55"/><ellipse cx="1545.6" cy="340" rx="6.85" ry="6.55"/><ellipse cx="1597" cy="342" rx="6.85" ry="6.55"/><ellipse cx="1135.4" cy="364" rx="6.85" ry="6.55"/><ellipse cx="1108" cy="378" rx="6.85" ry="6.55"/><ellipse cx="1159.6" cy="382" rx="6.85" ry="6.55"/><ellipse cx="1033.6" cy="391" rx="6.85" ry="6.55"/><ellipse cx="1045.6" cy="397.6" rx="6.85" ry="6.55"/><ellipse cx="1137.4" cy="397.6" rx="6.85" ry="6.55"/><ellipse cx="1190.6" cy="409" rx="6.85" ry="6.55"/><ellipse cx="1207.6" cy="415" rx="6.85" ry="6.55"/><ellipse cx="1218.6" cy="415.6" rx="6.85" ry="6.55"/><ellipse cx="1085.6" cy="427.4" rx="6.85" ry="6.55"/><ellipse cx="1079" cy="440" rx="6.85" ry="6.55"/><ellipse cx="1097.6" cy="439.4" rx="6.85" ry="6.55"/><ellipse cx="1113" cy="435.4" rx="6.85" ry="6.55"/><ellipse cx="1154.6" cy="423" rx="6.85" ry="6.55"/><ellipse cx="1149" cy="429" rx="6.85" ry="6.55"/><ellipse cx="1030.4" cy="434" rx="6.85" ry="6.55"/><ellipse cx="1226.6" cy="437" rx="6.85" ry="6.55"/><ellipse cx="1242.4" cy="422.4" rx="6.85" ry="6.55"/><ellipse cx="1280" cy="412.4" rx="6.85" ry="6.55"/><ellipse cx="1306" cy="429" rx="6.85" ry="6.55"/><ellipse cx="1132" cy="456" rx="6.85" ry="6.55"/><ellipse cx="1221.6" cy="462.4" rx="6.85" ry="6.55"/><ellipse cx="1278.6" cy="455.4" rx="6.85" ry="6.55"/><ellipse cx="1211" cy="499" rx="6.85" ry="6.55"/><ellipse cx="1318" cy="504.4" rx="6.85" ry="6.55"/><ellipse cx="1194" cy="355" rx="6.85" ry="6.55"/><ellipse cx="1244" cy="350" rx="6.85" ry="6.55"/><ellipse cx="1231.4" cy="359" rx="6.85" ry="6.55"/><ellipse cx="1256" cy="367" rx="6.85" ry="6.55"/><ellipse cx="1286.6" cy="360.6" rx="6.85" ry="6.55"/><ellipse cx="1326" cy="386.6" rx="6.85" ry="6.55"/><ellipse cx="1347" cy="354.4" rx="6.85" ry="6.55"/><ellipse cx="1368" cy="349" rx="6.85" ry="6.55"/><ellipse cx="1392" cy="347.4" rx="6.85" ry="6.55"/><ellipse cx="1430" cy="348.4" rx="6.85" ry="6.55"/><ellipse cx="1337" cy="374" rx="6.85" ry="6.55"/><ellipse cx="1339" cy="380.6" rx="6.85" ry="6.55"/><ellipse cx="1359.6" cy="377.6" rx="6.85" ry="6.55"/><ellipse cx="1390.4" cy="372" rx="6.85" ry="6.55"/><ellipse cx="1404.4" cy="378" rx="6.85" ry="6.55"/><ellipse cx="1354.6" cy="398" rx="6.85" ry="6.55"/><ellipse cx="1342.4" cy="403.6" rx="6.85" ry="6.55"/><ellipse cx="1435.4" cy="404" rx="6.85" ry="6.55"/><ellipse cx="1475" cy="375.6" rx="6.85" ry="6.55"/><ellipse cx="1492.4" cy="355" rx="6.85" ry="6.55"/><ellipse cx="1497" cy="347.4" rx="6.85" ry="6.55"/><ellipse cx="1495.6" cy="370.6" rx="6.85" ry="6.55"/><ellipse cx="1506" cy="383" rx="6.85" ry="6.55"/><ellipse cx="1500.6" cy="399" rx="6.85" ry="6.55"/><ellipse cx="1518" cy="408" rx="6.85" ry="6.55"/><ellipse cx="1490.6" cy="410" rx="6.85" ry="6.55"/><ellipse cx="1514.6" cy="422" rx="6.85" ry="6.55"/><ellipse cx="1466.4" cy="427" rx="6.85" ry="6.55"/><ellipse cx="1564" cy="352.4" rx="6.85" ry="6.55"/><ellipse cx="1575" cy="346" rx="6.85" ry="6.55"/><ellipse cx="1597.4" cy="344" rx="6.85" ry="6.55"/><ellipse cx="1588.6" cy="357.6" rx="6.85" ry="6.55"/><ellipse cx="1559.4" cy="365" rx="6.85" ry="6.55"/><ellipse cx="1576.6" cy="369" rx="6.85" ry="6.55"/><ellipse cx="1555.6" cy="386.6" rx="6.85" ry="6.55"/><ellipse cx="1542.4" cy="395" rx="6.85" ry="6.55"/><ellipse cx="1543.4" cy="408" rx="6.85" ry="6.55"/><ellipse cx="1552.6" cy="412.6" rx="6.85" ry="6.55"/><ellipse cx="1592" cy="406.6" rx="6.85" ry="6.55"/><ellipse cx="1383.6" cy="440.4" rx="6.85" ry="6.55"/><ellipse cx="1385.4" cy="456.4" rx="6.85" ry="6.55"/><ellipse cx="1487" cy="456" rx="6.85" ry="6.55"/><ellipse cx="1571.6" cy="444.6" rx="6.85" ry="6.55"/><ellipse cx="1547.4" cy="460.4" rx="6.85" ry="6.55"/><ellipse cx="1523" cy="472.4" rx="6.85" ry="6.55"/><ellipse cx="1554" cy="476.4" rx="6.85" ry="6.55"/><ellipse cx="1412.6" cy="476" rx="6.85" ry="6.55"/><ellipse cx="1414.6" cy="481.6" rx="6.85" ry="6.55"/><ellipse cx="1444" cy="486" rx="6.85" ry="6.55"/><ellipse cx="1528.6" cy="495.6" rx="6.85" ry="6.55"/><ellipse cx="1626.6" cy="496" rx="6.85" ry="6.55"/><ellipse cx="1345.6" cy="514.6" rx="6.85" ry="6.55"/><ellipse cx="1580" cy="537" rx="6.85" ry="6.55"/></g>
<g fill="#0000ff"><ellipse cx="1114.6" cy="156" rx="6.85" ry="6.55"/><ellipse cx="1247.4" cy="165" rx="6.85" ry="6.55"/><ellipse cx="1237.2" cy="195" rx="6.85" ry="6.55"/><ellipse cx="1156.4" cy="233.4" rx="6.85" ry="6.55"/><ellipse cx="1168" cy="259.4" rx="6.85" ry="6.55"/><ellipse cx="1209.6" cy="259.4" rx="6.85" ry="6.55"/><ellipse cx="1047.6" cy="265" rx="6.85" ry="6.55"/><ellipse cx="1071.6" cy="267.6" rx="6.85" ry="6.55"/><ellipse cx="1106" cy="286.4" rx="6.85" ry="6.55"/><ellipse cx="1170" cy="292" rx="6.85" ry="6.55"/><ellipse cx="1195.6" cy="285.4" rx="6.85" ry="6.55"/><ellipse cx="1216.6" cy="294" rx="6.85" ry="6.55"/><ellipse cx="1263" cy="275" rx="6.85" ry="6.55"/><ellipse cx="1259.4" cy="284" rx="6.85" ry="6.55"/><ellipse cx="1304.4" cy="280.4" rx="6.85" ry="6.55"/><ellipse cx="1283.4" cy="300" rx="6.85" ry="6.55"/><ellipse cx="1313" cy="246.4" rx="6.85" ry="6.55"/><ellipse cx="1321.4" cy="251" rx="6.85" ry="6.55"/><ellipse cx="1331" cy="297" rx="6.85" ry="6.55"/><ellipse cx="1213" cy="315" rx="6.85" ry="6.55"/><ellipse cx="1215" cy="319" rx="6.85" ry="6.55"/><ellipse cx="1198" cy="322.4" rx="6.85" ry="6.55"/><ellipse cx="1166.4" cy="321" rx="6.85" ry="6.55"/><ellipse cx="1057.6" cy="329" rx="6.85" ry="6.55"/><ellipse cx="1102.6" cy="333" rx="6.85" ry="6.55"/><ellipse cx="1133.6" cy="337" rx="6.85" ry="6.55"/><ellipse cx="1163" cy="337" rx="6.85" ry="6.55"/><ellipse cx="1180" cy="341" rx="6.85" ry="6.55"/><ellipse cx="1199" cy="338" rx="6.85" ry="6.55"/><ellipse cx="1252.6" cy="335.6" rx="6.85" ry="6.55"/><ellipse cx="1270" cy="335" rx="6.85" ry="6.55"/><ellipse cx="1295.6" cy="337" rx="6.85" ry="6.55"/><ellipse cx="1314" cy="318" rx="6.85" ry="6.55"/><ellipse cx="1325" cy="318.6" rx="6.85" ry="6.55"/><ellipse cx="1447.4" cy="125" rx="6.85" ry="6.55"/><ellipse cx="1442" cy="157.6" rx="6.85" ry="6.55"/><ellipse cx="1365" cy="173" rx="6.85" ry="6.55"/><ellipse cx="1401" cy="176.4" rx="6.85" ry="6.55"/><ellipse cx="1470" cy="185" rx="6.85" ry="6.55"/><ellipse cx="1538.6" cy="209" rx="6.85" ry="6.55"/><ellipse cx="1607.6" cy="223" rx="6.85" ry="6.55"/><ellipse cx="1619.4" cy="244" rx="6.85" ry="6.55"/><ellipse cx="1366.6" cy="237.4" rx="6.85" ry="6.55"/><ellipse cx="1468" cy="236" rx="6.85" ry="6.55"/><ellipse cx="1509.4" cy="259.4" rx="6.85" ry="6.55"/><ellipse cx="1340.6" cy="278.4" rx="6.85" ry="6.55"/><ellipse cx="1376.6" cy="280.4" rx="6.85" ry="6.55"/><ellipse cx="1409.4" cy="276" rx="6.85" ry="6.55"/><ellipse cx="1526.6" cy="285" rx="6.85" ry="6.55"/><ellipse cx="1332" cy="297" rx="6.85" ry="6.55"/><ellipse cx="1358" cy="297" rx="6.85" ry="6.55"/><ellipse cx="1375" cy="298.6" rx="6.85" ry="6.55"/><ellipse cx="1394" cy="300.4" rx="6.85" ry="6.55"/><ellipse cx="1426.6" cy="308.4" rx="6.85" ry="6.55"/><ellipse cx="1428.4" cy="319" rx="6.85" ry="6.55"/><ellipse cx="1464.4" cy="310.4" rx="6.85" ry="6.55"/><ellipse cx="1494" cy="318.6" rx="6.85" ry="6.55"/><ellipse cx="1516" cy="311.6" rx="6.85" ry="6.55"/><ellipse cx="1540.6" cy="323" rx="6.85" ry="6.55"/><ellipse cx="1566.4" cy="321" rx="6.85" ry="6.55"/><ellipse cx="1578.4" cy="303" rx="6.85" ry="6.55"/><ellipse cx="1585.6" cy="302" rx="6.85" ry="6.55"/><ellipse cx="1604" cy="315" rx="6.85" ry="6.55"/><ellipse cx="1616" cy="306.4" rx="6.85" ry="6.55"/><ellipse cx="1628" cy="336" rx="6.85" ry="6.55"/><ellipse cx="1399" cy="322.4" rx="6.85" ry="6.55"/><ellipse cx="1388.4" cy="328.4" rx="6.85" ry="6.55"/><ellipse cx="1363" cy="341" rx="6.85" ry="6.55"/><ellipse cx="1372.6" cy="339.4" rx="6.85" ry="6.55"/><ellipse cx="1416.6" cy="339.4" rx="6.85" ry="6.55"/><ellipse cx="1020" cy="356" rx="6.85" ry="6.55"/><ellipse cx="1023" cy="370.4" rx="6.85" ry="6.55"/><ellipse cx="1051" cy="346" rx="6.85" ry="6.55"/><ellipse cx="1070" cy="349.4" rx="6.85" ry="6.55"/><ellipse cx="1035" cy="379" rx="6.85" ry="6.55"/><ellipse cx="1042.4" cy="380" rx="6.85" ry="6.55"/><ellipse cx="1049.4" cy="390.4" rx="6.85" ry="6.55"/><ellipse cx="1075.4" cy="400" rx="6.85" ry="6.55"/><ellipse cx="1068" cy="414" rx="6.85" ry="6.55"/><ellipse cx="1111.4" cy="425.4" rx="6.85" ry="6.55"/><ellipse cx="1127" cy="414" rx="6.85" ry="6.55"/><ellipse cx="1129.4" cy="426" rx="6.85" ry="6.55"/><ellipse cx="1142" cy="413" rx="6.85" ry="6.55"/><ellipse cx="1145" cy="417" rx="6.85" ry="6.55"/><ellipse cx="1120" cy="375" rx="6.85" ry="6.55"/><ellipse cx="1123.6" cy="379" rx="6.85" ry="6.55"/><ellipse cx="1146" cy="383.6" rx="6.85" ry="6.55"/><ellipse cx="1173.6" cy="358.4" rx="6.85" ry="6.55"/><ellipse cx="1180" cy="343" rx="6.85" ry="6.55"/><ellipse cx="1185.6" cy="350" rx="6.85" ry="6.55"/><ellipse cx="1297.6" cy="348" rx="6.85" ry="6.55"/><ellipse cx="1192.6" cy="394.6" rx="6.85" ry="6.55"/><ellipse cx="1178.6" cy="410.4" rx="6.85" ry="6.55"/><ellipse cx="1189" cy="415" rx="6.85" ry="6.55"/><ellipse cx="1206.4" cy="409.6" rx="6.85" ry="6.55"/><ellipse cx="1225.4" cy="435" rx="6.85" ry="6.55"/><ellipse cx="1228.6" cy="369.4" rx="6.85" ry="6.55"/><ellipse cx="1239" cy="362.6" rx="6.85" ry="6.55"/><ellipse cx="1273.6" cy="379" rx="6.85" ry="6.55"/><ellipse cx="1288.6" cy="358.4" rx="6.85" ry="6.55"/><ellipse cx="1307.6" cy="367" rx="6.85" ry="6.55"/><ellipse cx="1300.6" cy="394.6" rx="6.85" ry="6.55"/><ellipse cx="1316.6" cy="391.6" rx="6.85" ry="6.55"/><ellipse cx="1330" cy="386" rx="6.85" ry="6.55"/><ellipse cx="1266.6" cy="422.4" rx="6.85" ry="6.55"/><ellipse cx="1268" cy="432.4" rx="6.85" ry="6.55"/><ellipse cx="1244" cy="441" rx="6.85" ry="6.55"/><ellipse cx="1249.4" cy="441" rx="6.85" ry="6.55"/><ellipse cx="1285.4" cy="439.4" rx="6.85" ry="6.55"/><ellipse cx="1171.6" cy="442.6" rx="6.85" ry="6.55"/><ellipse cx="1025" cy="444" rx="6.85" ry="6.55"/><ellipse cx="1066.6" cy="448" rx="6.85" ry="6.55"/><ellipse cx="1077.4" cy="451" rx="6.85" ry="6.55"/><ellipse cx="1084" cy="454.4" rx="6.85" ry="6.55"/><ellipse cx="1153" cy="459" rx="6.85" ry="6.55"/><ellipse cx="1151" cy="466.4" rx="6.85" ry="6.55"/><ellipse cx="1125.4" cy="469" rx="6.85" ry="6.55"/><ellipse cx="1202.6" cy="481.4" rx="6.85" ry="6.55"/><ellipse cx="1299" cy="486.6" rx="6.85" ry="6.55"/><ellipse cx="1054.4" cy="498.6" rx="6.85" ry="6.55"/><ellipse cx="1116.6" cy="494.4" rx="6.85" ry="6.55"/><ellipse cx="1087.4" cy="511" rx="6.85" ry="6.55"/><ellipse cx="1088.6" cy="525" rx="6.85" ry="6.55"/><ellipse cx="1096" cy="529" rx="6.85" ry="6.55"/><ellipse cx="1109.6" cy="527.6" rx="6.85" ry="6.55"/><ellipse cx="1220" cy="506" rx="6.85" ry="6.55"/><ellipse cx="1223.4" cy="520.6" rx="6.85" ry="6.55"/><ellipse cx="1294" cy="520.4" rx="6.85" ry="6.55"/><ellipse cx="1356" cy="357.4" rx="6.85" ry="6.55"/><ellipse cx="1362.6" cy="342.6" rx="6.85" ry="6.55"/><ellipse cx="1413" cy="365" rx="6.85" ry="6.55"/><ellipse cx="1440.4" cy="365" rx="6.85" ry="6.55"/><ellipse cx="1471.4" cy="350" rx="6.85" ry="6.55"/><ellipse cx="1485.4" cy="349" rx="6.85" ry="6.55"/><ellipse cx="1483.6" cy="364" rx="6.85" ry="6.55"/><ellipse cx="1373.4" cy="413" rx="6.85" ry="6.55"/><ellipse cx="1387" cy="413.6" rx="6.85" ry="6.55"/><ellipse cx="1425.4" cy="424.4" rx="6.85" ry="6.55"/><ellipse cx="1458" cy="401.6" rx="6.85" ry="6.55"/><ellipse cx="1456" cy="406.6" rx="6.85" ry="6.55"/><ellipse cx="1461.4" cy="419" rx="6.85" ry="6.55"/><ellipse cx="1503" cy="394.4" rx="6.85" ry="6.55"/><ellipse cx="1508" cy="394.4" rx="6.85" ry="6.55"/><ellipse cx="1513" cy="408.4" rx="6.85" ry="6.55"/><ellipse cx="1521" cy="391" rx="6.85" ry="6.55"/><ellipse cx="1530" cy="393" rx="6.85" ry="6.55"/><ellipse cx="1534" cy="372.4" rx="6.85" ry="6.55"/><ellipse cx="1537.4" cy="382" rx="6.85" ry="6.55"/><ellipse cx="1558" cy="379" rx="6.85" ry="6.55"/><ellipse cx="1562" cy="376" rx="6.85" ry="6.55"/><ellipse cx="1568.4" cy="376" rx="6.85" ry="6.55"/><ellipse cx="1570" cy="351" rx="6.85" ry="6.55"/><ellipse cx="1583.6" cy="386" rx="6.85" ry="6.55"/><ellipse cx="1609.4" cy="373.6" rx="6.85" ry="6.55"/><ellipse cx="1612.6" cy="389.6" rx="6.85" ry="6.55"/><ellipse cx="1632" cy="378.6" rx="6.85" ry="6.55"/><ellipse cx="1600.6" cy="413" rx="6.85" ry="6.55"/><ellipse cx="1618" cy="412" rx="6.85" ry="6.55"/><ellipse cx="1630" cy="416" rx="6.85" ry="6.55"/><ellipse cx="1635" cy="419" rx="6.85" ry="6.55"/><ellipse cx="1639" cy="421" rx="6.85" ry="6.55"/><ellipse cx="1621.4" cy="431.6" rx="6.85" ry="6.55"/><ellipse cx="1610.6" cy="439" rx="6.85" ry="6.55"/><ellipse cx="1615" cy="443" rx="6.85" ry="6.55"/><ellipse cx="1635.4" cy="454.6" rx="6.85" ry="6.55"/><ellipse cx="1482" cy="445.6" rx="6.85" ry="6.55"/><ellipse cx="1463" cy="457.4" rx="6.85" ry="6.55"/><ellipse cx="1421.6" cy="452" rx="6.85" ry="6.55"/><ellipse cx="1333.6" cy="462" rx="6.85" ry="6.55"/><ellipse cx="1406" cy="475.4" rx="6.85" ry="6.55"/><ellipse cx="1344" cy="496" rx="6.85" ry="6.55"/><ellipse cx="1449" cy="496.6" rx="6.85" ry="6.55"/><ellipse cx="1454.4" cy="518.4" rx="6.85" ry="6.55"/><ellipse cx="1477" cy="534.4" rx="6.85" ry="6.55"/><ellipse cx="1378.6" cy="538.6" rx="6.85" ry="6.55"/><ellipse cx="1525" cy="551" rx="6.85" ry="6.55"/><ellipse cx="1623.4" cy="533.6" rx="6.85" ry="6.55"/></g>
<line x1="989.5" y1="94.6" x2="989.5" y2="573.55" stroke="#000" stroke-width="1.5"/>
<line x1="988.75" y1="572.8" x2="1669.8" y2="572.8" stroke="#000" stroke-width="1.5"/>
<line x1="1018.1" y1="572.8" x2="1018.1" y2="565.3" stroke="#000" stroke-width="1.5"/>
<line x1="1121.5" y1="572.8" x2="1121.5" y2="565.3" stroke="#000" stroke-width="1.5"/>
<line x1="1224.9" y1="572.8" x2="1224.9" y2="565.3" stroke="#000" stroke-width="1.5"/>
<line x1="1328.3" y1="572.8" x2="1328.3" y2="565.3" stroke="#000" stroke-width="1.5"/>
<line x1="1431.7" y1="572.8" x2="1431.7" y2="565.3" stroke="#000" stroke-width="1.5"/>
<line x1="1535.1" y1="572.8" x2="1535.1" y2="565.3" stroke="#000" stroke-width="1.5"/>
<line x1="1638.5" y1="572.8" x2="1638.5" y2="565.3" stroke="#000" stroke-width="1.5"/>
<line x1="989.5" y1="557.8" x2="997" y2="557.8" stroke="#000" stroke-width="1.5"/>
<line x1="989.5" y1="472.28" x2="997" y2="472.28" stroke="#000" stroke-width="1.5"/>
<line x1="989.5" y1="386.76" x2="997" y2="386.76" stroke="#000" stroke-width="1.5"/>
<line x1="989.5" y1="301.24" x2="997" y2="301.24" stroke="#000" stroke-width="1.5"/>
<line x1="989.5" y1="215.72" x2="997" y2="215.72" stroke="#000" stroke-width="1.5"/>
<line x1="989.5" y1="130.2" x2="997" y2="130.2" stroke="#000" stroke-width="1.5"/>
<text transform="translate(1007.7,620) scale(1.0270,1)" font-size="40.5" font-weight="bold" fill="#000">0</text>
<text transform="translate(1100.76,620) scale(1.0270,1)" font-size="40.5" font-weight="bold" fill="#000">60</text>
<text transform="translate(1192.82,620) scale(1.0270,1)" font-size="40.5" font-weight="bold" fill="#000">120</text>
<text transform="translate(1296.22,620) scale(1.0270,1)" font-size="40.5" font-weight="bold" fill="#000">180</text>
<text transform="translate(1400.4,620) scale(1.0270,1)" font-size="40.5" font-weight="bold" fill="#000">240</text>
<text transform="translate(1503.9,620) scale(1.0270,1)" font-size="40.5" font-weight="bold" fill="#000">300</text>
<text transform="translate(1607.3,620) scale(1.0270,1)" font-size="40.5" font-weight="bold" fill="#000">360</text>
<text transform="translate(942,571.27) scale(1.0270,1)" font-size="40.5" font-weight="bold" fill="#000">-4</text>
<text transform="translate(943.04,485.75) scale(1.0270,1)" font-size="40.5" font-weight="bold" fill="#000">-2</text>
<text transform="translate(956.66,400.23) scale(1.0270,1)" font-size="40.5" font-weight="bold" fill="#000">0</text>
<text transform="translate(956.87,314.71) scale(1.0270,1)" font-size="40.5" font-weight="bold" fill="#000">2</text>
<text transform="translate(955.83,229.19) scale(1.0270,1)" font-size="40.5" font-weight="bold" fill="#000">4</text>
<text transform="translate(956.35,143.67) scale(1.0270,1)" font-size="40.5" font-weight="bold" fill="#000">6</text>
<text transform="translate(1248.54,669.72) scale(1.0876,1)" font-size="41.32" font-weight="bold" fill="#000">Samples</text>
<text transform="translate(928.36,387.56) rotate(-90) scale(0.9827,1)" font-size="44.21" font-weight="bold" fill="#000">Mean</text>
<text transform="translate(1102.75,77.4) scale(0.9930,1)" font-size="37.4" font-weight="normal" fill="#000">1- Healthy, 2- Unhealthy bearing</text>
<rect x="1550" y="100.2" width="75.5" height="87.5" fill="#fff" stroke="#000" stroke-width="1.5"/>
<ellipse cx="1577" cy="123" rx="6.85" ry="6.55" fill="#0000ff"/>
<ellipse cx="1577" cy="164.8" rx="6.85" ry="6.55" fill="#ff0000"/>
<text transform="translate(1601.12,135.5) scale(1.0000,1)" font-size="36" font-weight="bold" fill="#000">1</text>
<text transform="translate(1602.47,177) scale(1.0000,1)" font-size="36" font-weight="bold" fill="#000">2</text>
<text transform="translate(991.48,92.23) scale(1.1015,1)" font-size="47.47" font-weight="bold" fill="#000">×</text>
<text transform="translate(1022.76,85.7) scale(1.0000,1)" font-size="40.5" font-weight="bold" fill="#000">10</text>
<text transform="translate(1063.74,66.31) scale(1.1396,1)" font-size="29.44" font-weight="bold" fill="#000">-3</text>
<g stroke="#262626" stroke-opacity="0.19" stroke-width="1.9"><line x1="191.5" y1="738.5" x2="191.5" y2="1230.25"/><line x1="291.22" y1="738.5" x2="291.22" y2="1230.25"/><line x1="390.93" y1="738.5" x2="390.93" y2="1230.25"/><line x1="490.65" y1="738.5" x2="490.65" y2="1230.25"/><line x1="590.37" y1="738.5" x2="590.37" y2="1230.25"/><line x1="690.08" y1="738.5" x2="690.08" y2="1230.25"/><line x1="789.8" y1="738.5" x2="789.8" y2="1230.25"/><line x1="163.75" y1="1122" x2="820" y2="1122"/><line x1="163.75" y1="975.62" x2="820" y2="975.62"/><line x1="163.75" y1="829.25" x2="820" y2="829.25"/></g>
<g fill="#ff0000"><ellipse cx="351" cy="893" rx="6.55" ry="6.85"/><ellipse cx="224.6" cy="912.6" rx="6.55" ry="6.85"/><ellipse cx="322.6" cy="909.6" rx="6.55" ry="6.85"/><ellipse cx="309.4" cy="920.6" rx="6.55" ry="6.85"/><ellipse cx="283" cy="928" rx="6.55" ry="6.85"/><ellipse cx="397.4" cy="915.4" rx="6.55" ry="6.85"/><ellipse cx="349.4" cy="936.6" rx="6.55" ry="6.85"/><ellipse cx="230" cy="950.4" rx="6.55" ry="6.85"/><ellipse cx="244.6" cy="971.4" rx="6.55" ry="6.85"/><ellipse cx="407.4" cy="949" rx="6.55" ry="6.85"/><ellipse cx="194" cy="977" rx="6.55" ry="6.85"/><ellipse cx="204" cy="976" rx="6.55" ry="6.85"/><ellipse cx="212" cy="977" rx="6.55" ry="6.85"/><ellipse cx="217" cy="978" rx="6.55" ry="6.85"/><ellipse cx="233" cy="982" rx="6.55" ry="6.85"/><ellipse cx="301" cy="981" rx="6.55" ry="6.85"/><ellipse cx="366" cy="972" rx="6.55" ry="6.85"/><ellipse cx="577" cy="807.6" rx="6.55" ry="6.85"/><ellipse cx="578" cy="864" rx="6.55" ry="6.85"/><ellipse cx="608.6" cy="896.6" rx="6.55" ry="6.85"/><ellipse cx="678.6" cy="920" rx="6.55" ry="6.85"/><ellipse cx="696.6" cy="928.6" rx="6.55" ry="6.85"/><ellipse cx="713.4" cy="918.6" rx="6.55" ry="6.85"/><ellipse cx="707" cy="950" rx="6.55" ry="6.85"/><ellipse cx="202.6" cy="986" rx="6.55" ry="6.85"/><ellipse cx="199.6" cy="996" rx="6.55" ry="6.85"/><ellipse cx="265" cy="988" rx="6.55" ry="6.85"/><ellipse cx="329.6" cy="997.6" rx="6.55" ry="6.85"/><ellipse cx="332" cy="989" rx="6.55" ry="6.85"/><ellipse cx="326" cy="1021.6" rx="6.55" ry="6.85"/><ellipse cx="357" cy="986" rx="6.55" ry="6.85"/><ellipse cx="251.4" cy="1024.4" rx="6.55" ry="6.85"/><ellipse cx="268" cy="1037" rx="6.55" ry="6.85"/><ellipse cx="304.6" cy="1041.6" rx="6.55" ry="6.85"/><ellipse cx="316.4" cy="1048.6" rx="6.55" ry="6.85"/><ellipse cx="344.4" cy="1043.6" rx="6.55" ry="6.85"/><ellipse cx="342.6" cy="1054" rx="6.55" ry="6.85"/><ellipse cx="361" cy="1046" rx="6.55" ry="6.85"/><ellipse cx="201.4" cy="1057.6" rx="6.55" ry="6.85"/><ellipse cx="234.6" cy="1054.4" rx="6.55" ry="6.85"/><ellipse cx="252.6" cy="1059.6" rx="6.55" ry="6.85"/><ellipse cx="261.4" cy="1065.6" rx="6.55" ry="6.85"/><ellipse cx="270" cy="1059.6" rx="6.55" ry="6.85"/><ellipse cx="272" cy="1061" rx="6.55" ry="6.85"/><ellipse cx="287.4" cy="1066" rx="6.55" ry="6.85"/><ellipse cx="292.6" cy="1065" rx="6.55" ry="6.85"/><ellipse cx="318" cy="1077" rx="6.55" ry="6.85"/><ellipse cx="328" cy="1083.4" rx="6.55" ry="6.85"/><ellipse cx="367.6" cy="1066" rx="6.55" ry="6.85"/><ellipse cx="384.6" cy="1063.6" rx="6.55" ry="6.85"/><ellipse cx="399.4" cy="1060" rx="6.55" ry="6.85"/><ellipse cx="401" cy="1079" rx="6.55" ry="6.85"/><ellipse cx="396" cy="1092" rx="6.55" ry="6.85"/><ellipse cx="205" cy="1076.6" rx="6.55" ry="6.85"/><ellipse cx="210" cy="1087.4" rx="6.55" ry="6.85"/><ellipse cx="256.6" cy="1089" rx="6.55" ry="6.85"/><ellipse cx="263" cy="1087.4" rx="6.55" ry="6.85"/><ellipse cx="236.4" cy="1100.6" rx="6.55" ry="6.85"/><ellipse cx="249.6" cy="1110.6" rx="6.55" ry="6.85"/><ellipse cx="278" cy="1108" rx="6.55" ry="6.85"/><ellipse cx="354.4" cy="1114.6" rx="6.55" ry="6.85"/><ellipse cx="374.4" cy="1108" rx="6.55" ry="6.85"/><ellipse cx="406" cy="1107.4" rx="6.55" ry="6.85"/><ellipse cx="421" cy="1108.6" rx="6.55" ry="6.85"/><ellipse cx="422" cy="1105.6" rx="6.55" ry="6.85"/><ellipse cx="436" cy="1116" rx="6.55" ry="6.85"/><ellipse cx="439" cy="1112.4" rx="6.55" ry="6.85"/><ellipse cx="429" cy="1038" rx="6.55" ry="6.85"/><ellipse cx="425" cy="1033" rx="6.55" ry="6.85"/><ellipse cx="387.4" cy="1028" rx="6.55" ry="6.85"/><ellipse cx="490.6" cy="1042" rx="6.55" ry="6.85"/><ellipse cx="480.6" cy="1079.4" rx="6.55" ry="6.85"/><ellipse cx="472" cy="1109.6" rx="6.55" ry="6.85"/><ellipse cx="497.4" cy="1106" rx="6.55" ry="6.85"/><ellipse cx="499" cy="1127.6" rx="6.55" ry="6.85"/><ellipse cx="419" cy="1138" rx="6.55" ry="6.85"/><ellipse cx="228" cy="1142" rx="6.55" ry="6.85"/><ellipse cx="218" cy="1151.6" rx="6.55" ry="6.85"/><ellipse cx="274.6" cy="1178" rx="6.55" ry="6.85"/><ellipse cx="306.4" cy="1193" rx="6.55" ry="6.85"/><ellipse cx="454" cy="1188" rx="6.55" ry="6.85"/><ellipse cx="520" cy="1055.6" rx="6.55" ry="6.85"/><ellipse cx="515.4" cy="1062" rx="6.55" ry="6.85"/><ellipse cx="514" cy="1076" rx="6.55" ry="6.85"/><ellipse cx="522.6" cy="1077.6" rx="6.55" ry="6.85"/><ellipse cx="543.6" cy="1076.6" rx="6.55" ry="6.85"/><ellipse cx="557" cy="1083" rx="6.55" ry="6.85"/><ellipse cx="568" cy="1062.6" rx="6.55" ry="6.85"/><ellipse cx="571" cy="1063" rx="6.55" ry="6.85"/><ellipse cx="590" cy="1069.4" rx="6.55" ry="6.85"/><ellipse cx="593.6" cy="1075.6" rx="6.55" ry="6.85"/><ellipse cx="602" cy="1057.4" rx="6.55" ry="6.85"/><ellipse cx="603" cy="1037" rx="6.55" ry="6.85"/><ellipse cx="630" cy="1054.4" rx="6.55" ry="6.85"/><ellipse cx="635.4" cy="1039.6" rx="6.55" ry="6.85"/><ellipse cx="648.4" cy="1050.6" rx="6.55" ry="6.85"/><ellipse cx="645" cy="1069.6" rx="6.55" ry="6.85"/><ellipse cx="636" cy="1073" rx="6.55" ry="6.85"/><ellipse cx="631" cy="1080" rx="6.55" ry="6.85"/><ellipse cx="623.6" cy="1087.6" rx="6.55" ry="6.85"/><ellipse cx="643.4" cy="1085.4" rx="6.55" ry="6.85"/><ellipse cx="675" cy="1034" rx="6.55" ry="6.85"/><ellipse cx="686.6" cy="1065.6" rx="6.55" ry="6.85"/><ellipse cx="690" cy="1070.4" rx="6.55" ry="6.85"/><ellipse cx="698.6" cy="1060.4" rx="6.55" ry="6.85"/><ellipse cx="700" cy="1082" rx="6.55" ry="6.85"/><ellipse cx="673.4" cy="1093" rx="6.55" ry="6.85"/><ellipse cx="661.6" cy="1100" rx="6.55" ry="6.85"/><ellipse cx="670" cy="1106.6" rx="6.55" ry="6.85"/><ellipse cx="716.6" cy="1033" rx="6.55" ry="6.85"/><ellipse cx="728" cy="1031.6" rx="6.55" ry="6.85"/><ellipse cx="748" cy="1057.6" rx="6.55" ry="6.85"/><ellipse cx="754" cy="1068" rx="6.55" ry="6.85"/><ellipse cx="745" cy="1078.4" rx="6.55" ry="6.85"/><ellipse cx="735" cy="1090" rx="6.55" ry="6.85"/><ellipse cx="730" cy="1101" rx="6.55" ry="6.85"/><ellipse cx="778" cy="1051" rx="6.55" ry="6.85"/><ellipse cx="705" cy="1120.4" rx="6.55" ry="6.85"/><ellipse cx="725" cy="1117.4" rx="6.55" ry="6.85"/><ellipse cx="750" cy="1115.4" rx="6.55" ry="6.85"/><ellipse cx="740" cy="1127.4" rx="6.55" ry="6.85"/><ellipse cx="758" cy="1127.4" rx="6.55" ry="6.85"/><ellipse cx="784.6" cy="1118" rx="6.55" ry="6.85"/><ellipse cx="718" cy="1139" rx="6.55" ry="6.85"/><ellipse cx="512.4" cy="1124.4" rx="6.55" ry="6.85"/><ellipse cx="540.6" cy="1125" rx="6.55" ry="6.85"/><ellipse cx="529" cy="1150" rx="6.55" ry="6.85"/><ellipse cx="563.6" cy="1151" rx="6.55" ry="6.85"/><ellipse cx="610" cy="1156" rx="6.55" ry="6.85"/><ellipse cx="653.6" cy="1174" rx="6.55" ry="6.85"/><ellipse cx="683.4" cy="1198.6" rx="6.55" ry="6.85"/><ellipse cx="647" cy="1208" rx="6.55" ry="6.85"/><ellipse cx="596" cy="1027" rx="6.55" ry="6.85"/><ellipse cx="530" cy="1027.6" rx="6.55" ry="6.85"/></g>
<g fill="#0000ff"><ellipse cx="492.4" cy="756" rx="6.55" ry="6.85"/><ellipse cx="284.6" cy="768" rx="6.55" ry="6.85"/><ellipse cx="246.4" cy="788.6" rx="6.55" ry="6.85"/><ellipse cx="331" cy="783.6" rx="6.55" ry="6.85"/><ellipse cx="281.4" cy="821.4" rx="6.55" ry="6.85"/><ellipse cx="198.4" cy="830" rx="6.55" ry="6.85"/><ellipse cx="226.4" cy="839" rx="6.55" ry="6.85"/><ellipse cx="258" cy="834.6" rx="6.55" ry="6.85"/><ellipse cx="303" cy="832.4" rx="6.55" ry="6.85"/><ellipse cx="336" cy="837" rx="6.55" ry="6.85"/><ellipse cx="376" cy="837" rx="6.55" ry="6.85"/><ellipse cx="462" cy="838" rx="6.55" ry="6.85"/><ellipse cx="460.6" cy="850" rx="6.55" ry="6.85"/><ellipse cx="477" cy="852.6" rx="6.55" ry="6.85"/><ellipse cx="296" cy="849.6" rx="6.55" ry="6.85"/><ellipse cx="279.6" cy="856" rx="6.55" ry="6.85"/><ellipse cx="243.4" cy="854.4" rx="6.55" ry="6.85"/><ellipse cx="221.4" cy="859.4" rx="6.55" ry="6.85"/><ellipse cx="208" cy="865" rx="6.55" ry="6.85"/><ellipse cx="193.4" cy="870.6" rx="6.55" ry="6.85"/><ellipse cx="307.6" cy="862.4" rx="6.55" ry="6.85"/><ellipse cx="347" cy="863" rx="6.55" ry="6.85"/><ellipse cx="353" cy="862" rx="6.55" ry="6.85"/><ellipse cx="366" cy="857" rx="6.55" ry="6.85"/><ellipse cx="402.6" cy="859" rx="6.55" ry="6.85"/><ellipse cx="434" cy="862.4" rx="6.55" ry="6.85"/><ellipse cx="457.4" cy="867.6" rx="6.55" ry="6.85"/><ellipse cx="452" cy="879.4" rx="6.55" ry="6.85"/><ellipse cx="240.6" cy="876" rx="6.55" ry="6.85"/><ellipse cx="313" cy="883.6" rx="6.55" ry="6.85"/><ellipse cx="319.6" cy="880.6" rx="6.55" ry="6.85"/><ellipse cx="404" cy="881" rx="6.55" ry="6.85"/><ellipse cx="415" cy="881" rx="6.55" ry="6.85"/><ellipse cx="417.6" cy="876" rx="6.55" ry="6.85"/><ellipse cx="248" cy="897" rx="6.55" ry="6.85"/><ellipse cx="292.6" cy="891" rx="6.55" ry="6.85"/><ellipse cx="289.4" cy="901.4" rx="6.55" ry="6.85"/><ellipse cx="324.6" cy="901.6" rx="6.55" ry="6.85"/><ellipse cx="334.6" cy="901.6" rx="6.55" ry="6.85"/><ellipse cx="386" cy="895.4" rx="6.55" ry="6.85"/><ellipse cx="382.6" cy="907" rx="6.55" ry="6.85"/><ellipse cx="369.4" cy="911" rx="6.55" ry="6.85"/><ellipse cx="356" cy="916.6" rx="6.55" ry="6.85"/><ellipse cx="359" cy="926.6" rx="6.55" ry="6.85"/><ellipse cx="424" cy="901" rx="6.55" ry="6.85"/><ellipse cx="447.4" cy="896" rx="6.55" ry="6.85"/><ellipse cx="464" cy="893" rx="6.55" ry="6.85"/><ellipse cx="475.6" cy="902.4" rx="6.55" ry="6.85"/><ellipse cx="487.4" cy="904.6" rx="6.55" ry="6.85"/><ellipse cx="411" cy="916" rx="6.55" ry="6.85"/><ellipse cx="432.6" cy="919.6" rx="6.55" ry="6.85"/><ellipse cx="431" cy="929" rx="6.55" ry="6.85"/><ellipse cx="412.6" cy="934.4" rx="6.55" ry="6.85"/><ellipse cx="276.4" cy="921" rx="6.55" ry="6.85"/><ellipse cx="196.6" cy="937" rx="6.55" ry="6.85"/><ellipse cx="214.6" cy="942" rx="6.55" ry="6.85"/><ellipse cx="238" cy="948.6" rx="6.55" ry="6.85"/><ellipse cx="296" cy="939" rx="6.55" ry="6.85"/><ellipse cx="297.6" cy="942" rx="6.55" ry="6.85"/><ellipse cx="299.4" cy="953" rx="6.55" ry="6.85"/><ellipse cx="266.4" cy="954.6" rx="6.55" ry="6.85"/><ellipse cx="254.6" cy="961.6" rx="6.55" ry="6.85"/><ellipse cx="229.6" cy="963" rx="6.55" ry="6.85"/><ellipse cx="286.4" cy="963.6" rx="6.55" ry="6.85"/><ellipse cx="321" cy="964" rx="6.55" ry="6.85"/><ellipse cx="339.4" cy="955.6" rx="6.55" ry="6.85"/><ellipse cx="346" cy="968" rx="6.55" ry="6.85"/><ellipse cx="364" cy="964.6" rx="6.55" ry="6.85"/><ellipse cx="379" cy="941" rx="6.55" ry="6.85"/><ellipse cx="390.6" cy="941.6" rx="6.55" ry="6.85"/><ellipse cx="380" cy="950" rx="6.55" ry="6.85"/><ellipse cx="219.4" cy="983" rx="6.55" ry="6.85"/><ellipse cx="259.6" cy="982.4" rx="6.55" ry="6.85"/><ellipse cx="312" cy="980" rx="6.55" ry="6.85"/><ellipse cx="316" cy="977" rx="6.55" ry="6.85"/><ellipse cx="363" cy="981" rx="6.55" ry="6.85"/><ellipse cx="572" cy="819" rx="6.55" ry="6.85"/><ellipse cx="640.4" cy="799" rx="6.55" ry="6.85"/><ellipse cx="622" cy="835" rx="6.55" ry="6.85"/><ellipse cx="688.6" cy="836" rx="6.55" ry="6.85"/><ellipse cx="680" cy="847.4" rx="6.55" ry="6.85"/><ellipse cx="625.4" cy="855.6" rx="6.55" ry="6.85"/><ellipse cx="677" cy="863" rx="6.55" ry="6.85"/><ellipse cx="731.6" cy="866.4" rx="6.55" ry="6.85"/><ellipse cx="600.6" cy="863.6" rx="6.55" ry="6.85"/><ellipse cx="535.4" cy="854" rx="6.55" ry="6.85"/><ellipse cx="534" cy="864" rx="6.55" ry="6.85"/><ellipse cx="506" cy="870.6" rx="6.55" ry="6.85"/><ellipse cx="560" cy="870.6" rx="6.55" ry="6.85"/><ellipse cx="553.4" cy="877" rx="6.55" ry="6.85"/><ellipse cx="575" cy="873.4" rx="6.55" ry="6.85"/><ellipse cx="580" cy="868.4" rx="6.55" ry="6.85"/><ellipse cx="565.4" cy="885.4" rx="6.55" ry="6.85"/><ellipse cx="585.4" cy="890.4" rx="6.55" ry="6.85"/><ellipse cx="527.4" cy="900.4" rx="6.55" ry="6.85"/><ellipse cx="538.6" cy="905.6" rx="6.55" ry="6.85"/><ellipse cx="583.6" cy="905" rx="6.55" ry="6.85"/><ellipse cx="586.6" cy="916.6" rx="6.55" ry="6.85"/><ellipse cx="525.4" cy="916" rx="6.55" ry="6.85"/><ellipse cx="524" cy="931" rx="6.55" ry="6.85"/><ellipse cx="537" cy="939.6" rx="6.55" ry="6.85"/><ellipse cx="531" cy="947" rx="6.55" ry="6.85"/><ellipse cx="605.4" cy="920.6" rx="6.55" ry="6.85"/><ellipse cx="616" cy="925" rx="6.55" ry="6.85"/><ellipse cx="621" cy="926" rx="6.55" ry="6.85"/><ellipse cx="611.6" cy="938" rx="6.55" ry="6.85"/><ellipse cx="633.4" cy="886.4" rx="6.55" ry="6.85"/><ellipse cx="638.6" cy="895.6" rx="6.55" ry="6.85"/><ellipse cx="650" cy="892" rx="6.55" ry="6.85"/><ellipse cx="641.6" cy="909" rx="6.55" ry="6.85"/><ellipse cx="668" cy="904.6" rx="6.55" ry="6.85"/><ellipse cx="672" cy="913" rx="6.55" ry="6.85"/><ellipse cx="682" cy="903" rx="6.55" ry="6.85"/><ellipse cx="686" cy="907.4" rx="6.55" ry="6.85"/><ellipse cx="711.4" cy="900" rx="6.55" ry="6.85"/><ellipse cx="720" cy="899.6" rx="6.55" ry="6.85"/><ellipse cx="723" cy="909.4" rx="6.55" ry="6.85"/><ellipse cx="738" cy="898.6" rx="6.55" ry="6.85"/><ellipse cx="715" cy="934.4" rx="6.55" ry="6.85"/><ellipse cx="665" cy="943" rx="6.55" ry="6.85"/><ellipse cx="761.4" cy="882" rx="6.55" ry="6.85"/><ellipse cx="768" cy="886" rx="6.55" ry="6.85"/><ellipse cx="766.6" cy="892" rx="6.55" ry="6.85"/><ellipse cx="781" cy="874.6" rx="6.55" ry="6.85"/><ellipse cx="788" cy="883" rx="6.55" ry="6.85"/><ellipse cx="759.4" cy="905.6" rx="6.55" ry="6.85"/><ellipse cx="763" cy="915" rx="6.55" ry="6.85"/><ellipse cx="790" cy="911" rx="6.55" ry="6.85"/><ellipse cx="769" cy="934" rx="6.55" ry="6.85"/><ellipse cx="774" cy="935" rx="6.55" ry="6.85"/><ellipse cx="786.6" cy="943" rx="6.55" ry="6.85"/><ellipse cx="756" cy="950" rx="6.55" ry="6.85"/><ellipse cx="219.6" cy="985" rx="6.55" ry="6.85"/><ellipse cx="259.6" cy="985" rx="6.55" ry="6.85"/><ellipse cx="273" cy="986.4" rx="6.55" ry="6.85"/><ellipse cx="341" cy="985.6" rx="6.55" ry="6.85"/><ellipse cx="337.6" cy="1012" rx="6.55" ry="6.85"/><ellipse cx="213" cy="1018.6" rx="6.55" ry="6.85"/><ellipse cx="223.4" cy="1018.6" rx="6.55" ry="6.85"/><ellipse cx="437.4" cy="1036.6" rx="6.55" ry="6.85"/><ellipse cx="479" cy="1031" rx="6.55" ry="6.85"/><ellipse cx="502" cy="1035" rx="6.55" ry="6.85"/><ellipse cx="459" cy="1052" rx="6.55" ry="6.85"/><ellipse cx="427.4" cy="1088.6" rx="6.55" ry="6.85"/><ellipse cx="449" cy="1095" rx="6.55" ry="6.85"/><ellipse cx="467.4" cy="1087" rx="6.55" ry="6.85"/><ellipse cx="470.6" cy="1120.4" rx="6.55" ry="6.85"/><ellipse cx="517.4" cy="1045.4" rx="6.55" ry="6.85"/><ellipse cx="547" cy="1029" rx="6.55" ry="6.85"/><ellipse cx="613.4" cy="1037.6" rx="6.55" ry="6.85"/><ellipse cx="691.6" cy="1038.6" rx="6.55" ry="6.85"/><ellipse cx="618.6" cy="1075.6" rx="6.55" ry="6.85"/><ellipse cx="753" cy="1085.6" rx="6.55" ry="6.85"/><ellipse cx="780" cy="1037.4" rx="6.55" ry="6.85"/><ellipse cx="783" cy="1126.6" rx="6.55" ry="6.85"/></g>
<line x1="163.75" y1="738" x2="163.75" y2="1231" stroke="#000" stroke-width="1.5"/>
<line x1="163" y1="1230.25" x2="820" y2="1230.25" stroke="#000" stroke-width="1.5"/>
<line x1="191.5" y1="1230.25" x2="191.5" y2="1222.75" stroke="#000" stroke-width="1.5"/>
<line x1="291.22" y1="1230.25" x2="291.22" y2="1222.75" stroke="#000" stroke-width="1.5"/>
<line x1="390.93" y1="1230.25" x2="390.93" y2="1222.75" stroke="#000" stroke-width="1.5"/>
<line x1="490.65" y1="1230.25" x2="490.65" y2="1222.75" stroke="#000" stroke-width="1.5"/>
<line x1="590.37" y1="1230.25" x2="590.37" y2="1222.75" stroke="#000" stroke-width="1.5"/>
<line x1="690.08" y1="1230.25" x2="690.08" y2="1222.75" stroke="#000" stroke-width="1.5"/>
<line x1="789.8" y1="1230.25" x2="789.8" y2="1222.75" stroke="#000" stroke-width="1.5"/>
<line x1="163.75" y1="1122" x2="171.25" y2="1122" stroke="#000" stroke-width="1.5"/>
<line x1="163.75" y1="975.62" x2="171.25" y2="975.62" stroke="#000" stroke-width="1.5"/>
<line x1="163.75" y1="829.25" x2="171.25" y2="829.25" stroke="#000" stroke-width="1.5"/>
<text transform="translate(181.12,1279) scale(1.0000,1)" font-size="41.5" font-weight="bold" fill="#000">0</text>
<text transform="translate(270.52,1279) scale(1.0000,1)" font-size="41.5" font-weight="bold" fill="#000">60</text>
<text transform="translate(358.93,1279) scale(1.0000,1)" font-size="41.5" font-weight="bold" fill="#000">120</text>
<text transform="translate(458.64,1279) scale(1.0000,1)" font-size="41.5" font-weight="bold" fill="#000">180</text>
<text transform="translate(559.14,1279) scale(1.0000,1)" font-size="41.5" font-weight="bold" fill="#000">240</text>
<text transform="translate(658.96,1279) scale(1.0000,1)" font-size="41.5" font-weight="bold" fill="#000">300</text>
<text transform="translate(758.67,1279) scale(1.0000,1)" font-size="41.5" font-weight="bold" fill="#000">360</text>
<text transform="translate(78.1,1135.8) scale(1.0000,1)" font-size="41.5" font-weight="bold" fill="#000">0.04</text>
<text transform="translate(78.62,989.42) scale(1.0000,1)" font-size="41.5" font-weight="bold" fill="#000">0.06</text>
<text transform="translate(78.72,843.05) scale(1.0000,1)" font-size="41.5" font-weight="bold" fill="#000">0.08</text>
<text transform="translate(410.64,1331.34) scale(1.0424,1)" font-size="43.09" font-weight="bold" fill="#000">Samples</text>
<text transform="translate(65.56,1070.06) rotate(-90) scale(1.0667,1)" font-size="42.82" font-weight="bold" fill="#000">Varience</text>
<text transform="translate(221.74,724.6) scale(0.9949,1)" font-size="37.4" font-weight="normal" fill="#000">1- Healthy, 2- Unhealthy bearing</text>
<rect x="714.9" y="745.1" width="75.3" height="90.7" fill="#fff" stroke="#000" stroke-width="1.5"/>
<ellipse cx="741.4" cy="768.8" rx="6.55" ry="6.85" fill="#0000ff"/>
<ellipse cx="741.4" cy="812.1" rx="6.55" ry="6.85" fill="#ff0000"/>
<text transform="translate(766.08,781.4) scale(1.0000,1)" font-size="36.5" font-weight="bold" fill="#000">1</text>
<text transform="translate(767.45,825) scale(1.0000,1)" font-size="36.5" font-weight="bold" fill="#000">2</text>
<rect x="370.8" y="949" width="435.2" height="79" fill="#fff" stroke="none" stroke-width="0"/>
<g stroke="#262626" stroke-opacity="0.19" stroke-width="1.9"><line x1="1010" y1="720.5" x2="1010" y2="1243.5"/><line x1="1114.73" y1="720.5" x2="1114.73" y2="1243.5"/><line x1="1219.47" y1="720.5" x2="1219.47" y2="1243.5"/><line x1="1324.2" y1="720.5" x2="1324.2" y2="1243.5"/><line x1="1428.93" y1="720.5" x2="1428.93" y2="1243.5"/><line x1="1533.67" y1="720.5" x2="1533.67" y2="1243.5"/><line x1="1638.4" y1="720.5" x2="1638.4" y2="1243.5"/><line x1="980.7" y1="1104.5" x2="1669.8" y2="1104.5"/><line x1="980.7" y1="924.05" x2="1669.8" y2="924.05"/><line x1="980.7" y1="743.6" x2="1669.8" y2="743.6"/></g>
<g fill="#ff0000"><ellipse cx="1177.6" cy="862.6" rx="6.2" ry="6.05"/><ellipse cx="1045" cy="880.6" rx="6.2" ry="6.05"/><ellipse cx="1147.4" cy="878" rx="6.2" ry="6.05"/><ellipse cx="1134" cy="888.6" rx="6.2" ry="6.05"/><ellipse cx="1106" cy="895.4" rx="6.2" ry="6.05"/><ellipse cx="1175.6" cy="903.4" rx="6.2" ry="6.05"/><ellipse cx="1226.4" cy="883.6" rx="6.2" ry="6.05"/><ellipse cx="1237" cy="916.6" rx="6.2" ry="6.05"/><ellipse cx="1051" cy="917" rx="6.2" ry="6.05"/><ellipse cx="1221" cy="930.4" rx="6.2" ry="6.05"/><ellipse cx="1204.6" cy="935.4" rx="6.2" ry="6.05"/><ellipse cx="1198" cy="938" rx="6.2" ry="6.05"/><ellipse cx="1277" cy="929" rx="6.2" ry="6.05"/><ellipse cx="1282" cy="935" rx="6.2" ry="6.05"/><ellipse cx="1306.6" cy="928" rx="6.2" ry="6.05"/><ellipse cx="1065.6" cy="937.6" rx="6.2" ry="6.05"/><ellipse cx="1013.4" cy="944" rx="6.2" ry="6.05"/><ellipse cx="1025" cy="941" rx="6.2" ry="6.05"/><ellipse cx="1030" cy="942" rx="6.2" ry="6.05"/><ellipse cx="1036" cy="943" rx="6.2" ry="6.05"/><ellipse cx="1022" cy="952" rx="6.2" ry="6.05"/><ellipse cx="1018.6" cy="963" rx="6.2" ry="6.05"/><ellipse cx="1053.4" cy="948.4" rx="6.2" ry="6.05"/><ellipse cx="1125" cy="947.6" rx="6.2" ry="6.05"/><ellipse cx="1086.6" cy="953" rx="6.2" ry="6.05"/><ellipse cx="1184" cy="952" rx="6.2" ry="6.05"/><ellipse cx="1157" cy="956" rx="6.2" ry="6.05"/><ellipse cx="1154.6" cy="964" rx="6.2" ry="6.05"/><ellipse cx="1274.6" cy="954" rx="6.2" ry="6.05"/><ellipse cx="1271.6" cy="961" rx="6.2" ry="6.05"/><ellipse cx="1273.6" cy="973" rx="6.2" ry="6.05"/><ellipse cx="1301.6" cy="964.4" rx="6.2" ry="6.05"/><ellipse cx="1315" cy="955" rx="6.2" ry="6.05"/><ellipse cx="1238.6" cy="980" rx="6.2" ry="6.05"/><ellipse cx="1415" cy="786.6" rx="6.2" ry="6.05"/><ellipse cx="1416.4" cy="836.6" rx="6.2" ry="6.05"/><ellipse cx="1448" cy="865.6" rx="6.2" ry="6.05"/><ellipse cx="1521" cy="888" rx="6.2" ry="6.05"/><ellipse cx="1540.4" cy="896" rx="6.2" ry="6.05"/><ellipse cx="1558" cy="886" rx="6.2" ry="6.05"/><ellipse cx="1492.6" cy="924" rx="6.2" ry="6.05"/><ellipse cx="1498" cy="931" rx="6.2" ry="6.05"/><ellipse cx="1434" cy="925" rx="6.2" ry="6.05"/><ellipse cx="1550.6" cy="921" rx="6.2" ry="6.05"/><ellipse cx="1552.4" cy="927.4" rx="6.2" ry="6.05"/><ellipse cx="1592.6" cy="932" rx="6.2" ry="6.05"/><ellipse cx="1386.4" cy="934" rx="6.2" ry="6.05"/><ellipse cx="1411.4" cy="937.6" rx="6.2" ry="6.05"/><ellipse cx="1393" cy="946" rx="6.2" ry="6.05"/><ellipse cx="1402" cy="952" rx="6.2" ry="6.05"/><ellipse cx="1388" cy="956" rx="6.2" ry="6.05"/><ellipse cx="1427" cy="951.4" rx="6.2" ry="6.05"/><ellipse cx="1334" cy="948" rx="6.2" ry="6.05"/><ellipse cx="1345" cy="956.6" rx="6.2" ry="6.05"/><ellipse cx="1339" cy="968" rx="6.2" ry="6.05"/><ellipse cx="1344" cy="979" rx="6.2" ry="6.05"/><ellipse cx="1546" cy="949" rx="6.2" ry="6.05"/><ellipse cx="1553" cy="954" rx="6.2" ry="6.05"/><ellipse cx="1547" cy="962" rx="6.2" ry="6.05"/><ellipse cx="1579" cy="957" rx="6.2" ry="6.05"/><ellipse cx="1588" cy="973" rx="6.2" ry="6.05"/><ellipse cx="1591" cy="978" rx="6.2" ry="6.05"/><ellipse cx="1624.4" cy="946.6" rx="6.2" ry="6.05"/><ellipse cx="1419" cy="977" rx="6.2" ry="6.05"/><ellipse cx="1430" cy="978" rx="6.2" ry="6.05"/><ellipse cx="1381.4" cy="980" rx="6.2" ry="6.05"/><ellipse cx="1456.4" cy="981" rx="6.2" ry="6.05"/><ellipse cx="1497" cy="979" rx="6.2" ry="6.05"/><ellipse cx="1508.6" cy="979" rx="6.2" ry="6.05"/><ellipse cx="1073" cy="992.6" rx="6.2" ry="6.05"/><ellipse cx="1090.4" cy="1006.4" rx="6.2" ry="6.05"/><ellipse cx="1151.4" cy="989.6" rx="6.2" ry="6.05"/><ellipse cx="1128.6" cy="1011.4" rx="6.2" ry="6.05"/><ellipse cx="1141" cy="1019" rx="6.2" ry="6.05"/><ellipse cx="1170.4" cy="1013.4" rx="6.2" ry="6.05"/><ellipse cx="1168.6" cy="1024.6" rx="6.2" ry="6.05"/><ellipse cx="1188" cy="1016" rx="6.2" ry="6.05"/><ellipse cx="1216" cy="995" rx="6.2" ry="6.05"/><ellipse cx="1237.6" cy="984" rx="6.2" ry="6.05"/><ellipse cx="1245.4" cy="987.6" rx="6.2" ry="6.05"/><ellipse cx="1287" cy="987" rx="6.2" ry="6.05"/><ellipse cx="1298.4" cy="990" rx="6.2" ry="6.05"/><ellipse cx="1319" cy="989.6" rx="6.2" ry="6.05"/><ellipse cx="1256" cy="1002" rx="6.2" ry="6.05"/><ellipse cx="1259" cy="1007.6" rx="6.2" ry="6.05"/><ellipse cx="1323" cy="1012" rx="6.2" ry="6.05"/><ellipse cx="1020.6" cy="1029" rx="6.2" ry="6.05"/><ellipse cx="1055.6" cy="1025.4" rx="6.2" ry="6.05"/><ellipse cx="1074.4" cy="1031.4" rx="6.2" ry="6.05"/><ellipse cx="1083.4" cy="1038" rx="6.2" ry="6.05"/><ellipse cx="1093" cy="1031" rx="6.2" ry="6.05"/><ellipse cx="1094" cy="1033" rx="6.2" ry="6.05"/><ellipse cx="1112" cy="1038" rx="6.2" ry="6.05"/><ellipse cx="1115.4" cy="1037.6" rx="6.2" ry="6.05"/><ellipse cx="1195" cy="1038" rx="6.2" ry="6.05"/><ellipse cx="1212.4" cy="1035.6" rx="6.2" ry="6.05"/><ellipse cx="1228.4" cy="1031.6" rx="6.2" ry="6.05"/><ellipse cx="1230" cy="1053.4" rx="6.2" ry="6.05"/><ellipse cx="1224.6" cy="1068.4" rx="6.2" ry="6.05"/><ellipse cx="1024" cy="1051" rx="6.2" ry="6.05"/><ellipse cx="1029.4" cy="1063" rx="6.2" ry="6.05"/><ellipse cx="1078" cy="1064.4" rx="6.2" ry="6.05"/><ellipse cx="1085" cy="1063" rx="6.2" ry="6.05"/><ellipse cx="1142.4" cy="1051" rx="6.2" ry="6.05"/><ellipse cx="1153" cy="1058.4" rx="6.2" ry="6.05"/><ellipse cx="1313.6" cy="1053.6" rx="6.2" ry="6.05"/><ellipse cx="1057.6" cy="1078.6" rx="6.2" ry="6.05"/><ellipse cx="1071.4" cy="1090.6" rx="6.2" ry="6.05"/><ellipse cx="1101" cy="1087.6" rx="6.2" ry="6.05"/><ellipse cx="1181" cy="1095.4" rx="6.2" ry="6.05"/><ellipse cx="1202" cy="1087.6" rx="6.2" ry="6.05"/><ellipse cx="1235" cy="1087" rx="6.2" ry="6.05"/><ellipse cx="1252.4" cy="1084.4" rx="6.2" ry="6.05"/><ellipse cx="1251" cy="1089" rx="6.2" ry="6.05"/><ellipse cx="1266.6" cy="1097.4" rx="6.2" ry="6.05"/><ellipse cx="1270" cy="1092.6" rx="6.2" ry="6.05"/><ellipse cx="1305" cy="1089.4" rx="6.2" ry="6.05"/><ellipse cx="1048.6" cy="1129.6" rx="6.2" ry="6.05"/><ellipse cx="1038" cy="1142" rx="6.2" ry="6.05"/><ellipse cx="1249" cy="1124" rx="6.2" ry="6.05"/><ellipse cx="1097.4" cy="1177" rx="6.2" ry="6.05"/><ellipse cx="1130.4" cy="1198.4" rx="6.2" ry="6.05"/><ellipse cx="1285.6" cy="1190.6" rx="6.2" ry="6.05"/><ellipse cx="1343.4" cy="984" rx="6.2" ry="6.05"/><ellipse cx="1366" cy="989.6" rx="6.2" ry="6.05"/><ellipse cx="1378" cy="990" rx="6.2" ry="6.05"/><ellipse cx="1383" cy="984" rx="6.2" ry="6.05"/><ellipse cx="1435.6" cy="991" rx="6.2" ry="6.05"/><ellipse cx="1456.4" cy="985" rx="6.2" ry="6.05"/><ellipse cx="1495" cy="983" rx="6.2" ry="6.05"/><ellipse cx="1502" cy="987" rx="6.2" ry="6.05"/><ellipse cx="1509" cy="983" rx="6.2" ry="6.05"/><ellipse cx="1517.6" cy="1003" rx="6.2" ry="6.05"/><ellipse cx="1561.4" cy="1002" rx="6.2" ry="6.05"/><ellipse cx="1572" cy="995" rx="6.2" ry="6.05"/><ellipse cx="1574" cy="999" rx="6.2" ry="6.05"/><ellipse cx="1442.6" cy="1006.4" rx="6.2" ry="6.05"/><ellipse cx="1476" cy="1009.4" rx="6.2" ry="6.05"/><ellipse cx="1490" cy="1021.4" rx="6.2" ry="6.05"/><ellipse cx="1470.4" cy="1025.4" rx="6.2" ry="6.05"/><ellipse cx="1441" cy="1029" rx="6.2" ry="6.05"/><ellipse cx="1542" cy="1032" rx="6.2" ry="6.05"/><ellipse cx="1530" cy="1038.6" rx="6.2" ry="6.05"/><ellipse cx="1533.6" cy="1043" rx="6.2" ry="6.05"/><ellipse cx="1544" cy="1056.4" rx="6.2" ry="6.05"/><ellipse cx="1594.6" cy="1029.4" rx="6.2" ry="6.05"/><ellipse cx="1599.6" cy="1040.4" rx="6.2" ry="6.05"/><ellipse cx="1600.6" cy="1040.4" rx="6.2" ry="6.05"/><ellipse cx="1591" cy="1052.4" rx="6.2" ry="6.05"/><ellipse cx="1580.6" cy="1066" rx="6.2" ry="6.05"/><ellipse cx="1575.4" cy="1079.4" rx="6.2" ry="6.05"/><ellipse cx="1626" cy="1021.6" rx="6.2" ry="6.05"/><ellipse cx="1355" cy="1026.4" rx="6.2" ry="6.05"/><ellipse cx="1350" cy="1035" rx="6.2" ry="6.05"/><ellipse cx="1405" cy="1035" rx="6.2" ry="6.05"/><ellipse cx="1407" cy="1035" rx="6.2" ry="6.05"/><ellipse cx="1348.6" cy="1049.6" rx="6.2" ry="6.05"/><ellipse cx="1357.4" cy="1051.6" rx="6.2" ry="6.05"/><ellipse cx="1380" cy="1050.6" rx="6.2" ry="6.05"/><ellipse cx="1394" cy="1058" rx="6.2" ry="6.05"/><ellipse cx="1429" cy="1042" rx="6.2" ry="6.05"/><ellipse cx="1432.4" cy="1049" rx="6.2" ry="6.05"/><ellipse cx="1478" cy="1046" rx="6.2" ry="6.05"/><ellipse cx="1486" cy="1042.4" rx="6.2" ry="6.05"/><ellipse cx="1473" cy="1054.4" rx="6.2" ry="6.05"/><ellipse cx="1484.4" cy="1060.6" rx="6.2" ry="6.05"/><ellipse cx="1463.6" cy="1063.6" rx="6.2" ry="6.05"/><ellipse cx="1516" cy="1069.4" rx="6.2" ry="6.05"/><ellipse cx="1503.6" cy="1077.6" rx="6.2" ry="6.05"/><ellipse cx="1512.4" cy="1085.6" rx="6.2" ry="6.05"/><ellipse cx="1331" cy="1085.4" rx="6.2" ry="6.05"/><ellipse cx="1333" cy="1111.4" rx="6.2" ry="6.05"/><ellipse cx="1347" cy="1107.4" rx="6.2" ry="6.05"/><ellipse cx="1376.6" cy="1108.4" rx="6.2" ry="6.05"/><ellipse cx="1549" cy="1102.4" rx="6.2" ry="6.05"/><ellipse cx="1570" cy="1098.4" rx="6.2" ry="6.05"/><ellipse cx="1596.4" cy="1096" rx="6.2" ry="6.05"/><ellipse cx="1586" cy="1111" rx="6.2" ry="6.05"/><ellipse cx="1605" cy="1111" rx="6.2" ry="6.05"/><ellipse cx="1633" cy="1100" rx="6.2" ry="6.05"/><ellipse cx="1563" cy="1125.6" rx="6.2" ry="6.05"/><ellipse cx="1364.4" cy="1140" rx="6.2" ry="6.05"/><ellipse cx="1401" cy="1141" rx="6.2" ry="6.05"/><ellipse cx="1450" cy="1147.6" rx="6.2" ry="6.05"/><ellipse cx="1495" cy="1171.6" rx="6.2" ry="6.05"/><ellipse cx="1526.6" cy="1206" rx="6.2" ry="6.05"/><ellipse cx="1488" cy="1219.6" rx="6.2" ry="6.05"/></g>
<g fill="#0000ff"><ellipse cx="1107.6" cy="753" rx="6.2" ry="6.05"/><ellipse cx="1067.6" cy="770.6" rx="6.2" ry="6.05"/><ellipse cx="1156.6" cy="766" rx="6.2" ry="6.05"/><ellipse cx="1104.4" cy="798.6" rx="6.2" ry="6.05"/><ellipse cx="1017" cy="806" rx="6.2" ry="6.05"/><ellipse cx="1046.6" cy="813.6" rx="6.2" ry="6.05"/><ellipse cx="1080" cy="809.6" rx="6.2" ry="6.05"/><ellipse cx="1127" cy="808" rx="6.2" ry="6.05"/><ellipse cx="1162" cy="812.4" rx="6.2" ry="6.05"/><ellipse cx="1203.6" cy="812.4" rx="6.2" ry="6.05"/><ellipse cx="1294" cy="813" rx="6.2" ry="6.05"/><ellipse cx="1292.6" cy="823.4" rx="6.2" ry="6.05"/><ellipse cx="1310" cy="826" rx="6.2" ry="6.05"/><ellipse cx="1064.4" cy="827.6" rx="6.2" ry="6.05"/><ellipse cx="1102.4" cy="829" rx="6.2" ry="6.05"/><ellipse cx="1120" cy="823.4" rx="6.2" ry="6.05"/><ellipse cx="1132" cy="835" rx="6.2" ry="6.05"/><ellipse cx="1173.6" cy="835.6" rx="6.2" ry="6.05"/><ellipse cx="1179.6" cy="834.6" rx="6.2" ry="6.05"/><ellipse cx="1193" cy="829.6" rx="6.2" ry="6.05"/><ellipse cx="1231.6" cy="831.4" rx="6.2" ry="6.05"/><ellipse cx="1264.6" cy="834.6" rx="6.2" ry="6.05"/><ellipse cx="1011.6" cy="842" rx="6.2" ry="6.05"/><ellipse cx="1027.4" cy="837" rx="6.2" ry="6.05"/><ellipse cx="1041.4" cy="832.4" rx="6.2" ry="6.05"/><ellipse cx="1060.4" cy="846" rx="6.2" ry="6.05"/><ellipse cx="1063" cy="847.4" rx="6.2" ry="6.05"/><ellipse cx="1137" cy="854.6" rx="6.2" ry="6.05"/><ellipse cx="1145" cy="851.6" rx="6.2" ry="6.05"/><ellipse cx="1233.6" cy="852" rx="6.2" ry="6.05"/><ellipse cx="1243.6" cy="852" rx="6.2" ry="6.05"/><ellipse cx="1247.6" cy="847.4" rx="6.2" ry="6.05"/><ellipse cx="1289" cy="839.6" rx="6.2" ry="6.05"/><ellipse cx="1284" cy="850.4" rx="6.2" ry="6.05"/><ellipse cx="1116.6" cy="860.4" rx="6.2" ry="6.05"/><ellipse cx="1113" cy="870" rx="6.2" ry="6.05"/><ellipse cx="1069.4" cy="866.4" rx="6.2" ry="6.05"/><ellipse cx="1149" cy="870" rx="6.2" ry="6.05"/><ellipse cx="1160" cy="870.4" rx="6.2" ry="6.05"/><ellipse cx="1214" cy="865" rx="6.2" ry="6.05"/><ellipse cx="1210.6" cy="875.6" rx="6.2" ry="6.05"/><ellipse cx="1196.6" cy="879.4" rx="6.2" ry="6.05"/><ellipse cx="1182.6" cy="885" rx="6.2" ry="6.05"/><ellipse cx="1186.4" cy="894" rx="6.2" ry="6.05"/><ellipse cx="1254" cy="870" rx="6.2" ry="6.05"/><ellipse cx="1278.6" cy="865.4" rx="6.2" ry="6.05"/><ellipse cx="1296" cy="862.6" rx="6.2" ry="6.05"/><ellipse cx="1308.4" cy="871.4" rx="6.2" ry="6.05"/><ellipse cx="1320.4" cy="873.6" rx="6.2" ry="6.05"/><ellipse cx="1240.4" cy="884.4" rx="6.2" ry="6.05"/><ellipse cx="1263" cy="887" rx="6.2" ry="6.05"/><ellipse cx="1261" cy="896" rx="6.2" ry="6.05"/><ellipse cx="1242" cy="901.6" rx="6.2" ry="6.05"/><ellipse cx="1099" cy="889" rx="6.2" ry="6.05"/><ellipse cx="1015.4" cy="904" rx="6.2" ry="6.05"/><ellipse cx="1034.4" cy="909" rx="6.2" ry="6.05"/><ellipse cx="1058.6" cy="915.4" rx="6.2" ry="6.05"/><ellipse cx="1121" cy="906.4" rx="6.2" ry="6.05"/><ellipse cx="1118" cy="910" rx="6.2" ry="6.05"/><ellipse cx="1123.4" cy="919.4" rx="6.2" ry="6.05"/><ellipse cx="1165.4" cy="922" rx="6.2" ry="6.05"/><ellipse cx="1207" cy="907.6" rx="6.2" ry="6.05"/><ellipse cx="1219.4" cy="909" rx="6.2" ry="6.05"/><ellipse cx="1209" cy="918.6" rx="6.2" ry="6.05"/><ellipse cx="1050.4" cy="929.4" rx="6.2" ry="6.05"/><ellipse cx="1076.4" cy="928.4" rx="6.2" ry="6.05"/><ellipse cx="1088.6" cy="921.6" rx="6.2" ry="6.05"/><ellipse cx="1109.4" cy="930.4" rx="6.2" ry="6.05"/><ellipse cx="1146.4" cy="930.6" rx="6.2" ry="6.05"/><ellipse cx="1172" cy="934.6" rx="6.2" ry="6.05"/><ellipse cx="1191" cy="930.6" rx="6.2" ry="6.05"/><ellipse cx="1200.4" cy="942.6" rx="6.2" ry="6.05"/><ellipse cx="1217" cy="943" rx="6.2" ry="6.05"/><ellipse cx="1223" cy="947" rx="6.2" ry="6.05"/><ellipse cx="1039.6" cy="951" rx="6.2" ry="6.05"/><ellipse cx="1081.4" cy="950.4" rx="6.2" ry="6.05"/><ellipse cx="1095.4" cy="953" rx="6.2" ry="6.05"/><ellipse cx="1136.6" cy="947" rx="6.2" ry="6.05"/><ellipse cx="1140" cy="944.6" rx="6.2" ry="6.05"/><ellipse cx="1167" cy="952" rx="6.2" ry="6.05"/><ellipse cx="1189.6" cy="949.6" rx="6.2" ry="6.05"/><ellipse cx="1317" cy="959" rx="6.2" ry="6.05"/><ellipse cx="1163" cy="978" rx="6.2" ry="6.05"/><ellipse cx="1323" cy="975" rx="6.2" ry="6.05"/><ellipse cx="1325.4" cy="743.6" rx="6.2" ry="6.05"/><ellipse cx="1481.4" cy="779.4" rx="6.2" ry="6.05"/><ellipse cx="1409.6" cy="796.6" rx="6.2" ry="6.05"/><ellipse cx="1462" cy="810.4" rx="6.2" ry="6.05"/><ellipse cx="1465.6" cy="828.6" rx="6.2" ry="6.05"/><ellipse cx="1532" cy="811.4" rx="6.2" ry="6.05"/><ellipse cx="1523" cy="821" rx="6.2" ry="6.05"/><ellipse cx="1519.6" cy="835.6" rx="6.2" ry="6.05"/><ellipse cx="1577" cy="838.4" rx="6.2" ry="6.05"/><ellipse cx="1371" cy="827.6" rx="6.2" ry="6.05"/><ellipse cx="1369.4" cy="836" rx="6.2" ry="6.05"/><ellipse cx="1340" cy="842" rx="6.2" ry="6.05"/><ellipse cx="1439.4" cy="835.4" rx="6.2" ry="6.05"/><ellipse cx="1391" cy="848" rx="6.2" ry="6.05"/><ellipse cx="1397" cy="842" rx="6.2" ry="6.05"/><ellipse cx="1413" cy="844.4" rx="6.2" ry="6.05"/><ellipse cx="1418.6" cy="840" rx="6.2" ry="6.05"/><ellipse cx="1402.6" cy="855.4" rx="6.2" ry="6.05"/><ellipse cx="1423.6" cy="860" rx="6.2" ry="6.05"/><ellipse cx="1474" cy="856.6" rx="6.2" ry="6.05"/><ellipse cx="1479" cy="863.6" rx="6.2" ry="6.05"/><ellipse cx="1491.6" cy="861.6" rx="6.2" ry="6.05"/><ellipse cx="1362.4" cy="869" rx="6.2" ry="6.05"/><ellipse cx="1374.6" cy="874" rx="6.2" ry="6.05"/><ellipse cx="1422" cy="874" rx="6.2" ry="6.05"/><ellipse cx="1425" cy="885" rx="6.2" ry="6.05"/><ellipse cx="1361" cy="884.4" rx="6.2" ry="6.05"/><ellipse cx="1483" cy="877.4" rx="6.2" ry="6.05"/><ellipse cx="1511" cy="874" rx="6.2" ry="6.05"/><ellipse cx="1514" cy="881.6" rx="6.2" ry="6.05"/><ellipse cx="1525" cy="872.6" rx="6.2" ry="6.05"/><ellipse cx="1528.4" cy="875.6" rx="6.2" ry="6.05"/><ellipse cx="1556" cy="869" rx="6.2" ry="6.05"/><ellipse cx="1565" cy="869" rx="6.2" ry="6.05"/><ellipse cx="1568" cy="878" rx="6.2" ry="6.05"/><ellipse cx="1584" cy="868" rx="6.2" ry="6.05"/><ellipse cx="1606" cy="852" rx="6.2" ry="6.05"/><ellipse cx="1613" cy="855.6" rx="6.2" ry="6.05"/><ellipse cx="1614" cy="861" rx="6.2" ry="6.05"/><ellipse cx="1629" cy="845.4" rx="6.2" ry="6.05"/><ellipse cx="1636.6" cy="853.6" rx="6.2" ry="6.05"/><ellipse cx="1606.6" cy="874.6" rx="6.2" ry="6.05"/><ellipse cx="1610" cy="883" rx="6.2" ry="6.05"/><ellipse cx="1638" cy="879.6" rx="6.2" ry="6.05"/><ellipse cx="1359" cy="898" rx="6.2" ry="6.05"/><ellipse cx="1373" cy="907" rx="6.2" ry="6.05"/><ellipse cx="1367.6" cy="916" rx="6.2" ry="6.05"/><ellipse cx="1444.6" cy="888.6" rx="6.2" ry="6.05"/><ellipse cx="1455" cy="892.4" rx="6.2" ry="6.05"/><ellipse cx="1460" cy="893.6" rx="6.2" ry="6.05"/><ellipse cx="1451.6" cy="905.4" rx="6.2" ry="6.05"/><ellipse cx="1506" cy="910.6" rx="6.2" ry="6.05"/><ellipse cx="1559.6" cy="901.6" rx="6.2" ry="6.05"/><ellipse cx="1617" cy="901" rx="6.2" ry="6.05"/><ellipse cx="1622" cy="902" rx="6.2" ry="6.05"/><ellipse cx="1634.6" cy="910" rx="6.2" ry="6.05"/><ellipse cx="1354" cy="927.4" rx="6.2" ry="6.05"/><ellipse cx="1406" cy="923" rx="6.2" ry="6.05"/><ellipse cx="1446.4" cy="923" rx="6.2" ry="6.05"/><ellipse cx="1437.4" cy="932.6" rx="6.2" ry="6.05"/><ellipse cx="1468.6" cy="935.6" rx="6.2" ry="6.05"/><ellipse cx="1467.4" cy="944.6" rx="6.2" ry="6.05"/><ellipse cx="1500" cy="937" rx="6.2" ry="6.05"/><ellipse cx="1537" cy="927" rx="6.2" ry="6.05"/><ellipse cx="1603" cy="919" rx="6.2" ry="6.05"/><ellipse cx="1611.6" cy="927" rx="6.2" ry="6.05"/><ellipse cx="1622.6" cy="925.6" rx="6.2" ry="6.05"/><ellipse cx="1385" cy="940.6" rx="6.2" ry="6.05"/><ellipse cx="1396" cy="952" rx="6.2" ry="6.05"/><ellipse cx="1330" cy="956" rx="6.2" ry="6.05"/><ellipse cx="1328.6" cy="976" rx="6.2" ry="6.05"/><ellipse cx="1538.6" cy="953.4" rx="6.2" ry="6.05"/><ellipse cx="1566.4" cy="954.4" rx="6.2" ry="6.05"/><ellipse cx="1582.4" cy="968.6" rx="6.2" ry="6.05"/><ellipse cx="1619" cy="954.4" rx="6.2" ry="6.05"/><ellipse cx="1032.6" cy="987" rx="6.2" ry="6.05"/><ellipse cx="1043.4" cy="987" rx="6.2" ry="6.05"/><ellipse cx="1268" cy="1005.6" rx="6.2" ry="6.05"/><ellipse cx="1312" cy="999" rx="6.2" ry="6.05"/><ellipse cx="1291" cy="1023.4" rx="6.2" ry="6.05"/><ellipse cx="1257.6" cy="1064.4" rx="6.2" ry="6.05"/><ellipse cx="1280.4" cy="1072" rx="6.2" ry="6.05"/><ellipse cx="1299.6" cy="1062.4" rx="6.2" ry="6.05"/><ellipse cx="1303.4" cy="1102.4" rx="6.2" ry="6.05"/><ellipse cx="1336.4" cy="1004.4" rx="6.2" ry="6.05"/><ellipse cx="1352" cy="1015.4" rx="6.2" ry="6.05"/><ellipse cx="1383.4" cy="997" rx="6.2" ry="6.05"/><ellipse cx="1453" cy="1007" rx="6.2" ry="6.05"/><ellipse cx="1535" cy="1008" rx="6.2" ry="6.05"/><ellipse cx="1628" cy="1006.6" rx="6.2" ry="6.05"/><ellipse cx="1458.4" cy="1049.4" rx="6.2" ry="6.05"/><ellipse cx="1600" cy="1061" rx="6.2" ry="6.05"/><ellipse cx="1631" cy="1110" rx="6.2" ry="6.05"/></g>
<line x1="980.7" y1="720" x2="980.7" y2="1244.25" stroke="#000" stroke-width="1.5"/>
<line x1="979.95" y1="1243.5" x2="1669.8" y2="1243.5" stroke="#000" stroke-width="1.5"/>
<line x1="1010" y1="1243.5" x2="1010" y2="1236" stroke="#000" stroke-width="1.5"/>
<line x1="1114.73" y1="1243.5" x2="1114.73" y2="1236" stroke="#000" stroke-width="1.5"/>
<line x1="1219.47" y1="1243.5" x2="1219.47" y2="1236" stroke="#000" stroke-width="1.5"/>
<line x1="1324.2" y1="1243.5" x2="1324.2" y2="1236" stroke="#000" stroke-width="1.5"/>
<line x1="1428.93" y1="1243.5" x2="1428.93" y2="1236" stroke="#000" stroke-width="1.5"/>
<line x1="1533.67" y1="1243.5" x2="1533.67" y2="1236" stroke="#000" stroke-width="1.5"/>
<line x1="1638.4" y1="1243.5" x2="1638.4" y2="1236" stroke="#000" stroke-width="1.5"/>
<line x1="980.7" y1="1104.5" x2="988.2" y2="1104.5" stroke="#000" stroke-width="1.5"/>
<line x1="980.7" y1="924.05" x2="988.2" y2="924.05" stroke="#000" stroke-width="1.5"/>
<line x1="980.7" y1="743.6" x2="988.2" y2="743.6" stroke="#000" stroke-width="1.5"/>
<text transform="translate(999.17,1293.8) scale(1.0000,1)" font-size="43.3" font-weight="bold" fill="#000">0</text>
<text transform="translate(1093.14,1293.8) scale(1.0000,1)" font-size="43.3" font-weight="bold" fill="#000">60</text>
<text transform="translate(1186.07,1293.8) scale(1.0000,1)" font-size="43.3" font-weight="bold" fill="#000">120</text>
<text transform="translate(1290.8,1293.8) scale(1.0000,1)" font-size="43.3" font-weight="bold" fill="#000">180</text>
<text transform="translate(1396.35,1293.8) scale(1.0000,1)" font-size="43.3" font-weight="bold" fill="#000">240</text>
<text transform="translate(1501.19,1293.8) scale(1.0000,1)" font-size="43.3" font-weight="bold" fill="#000">300</text>
<text transform="translate(1605.93,1293.8) scale(1.0000,1)" font-size="43.3" font-weight="bold" fill="#000">360</text>
<text transform="translate(913.22,1118.9) scale(1.0000,1)" font-size="43.3" font-weight="bold" fill="#000">0.2</text>
<text transform="translate(891.35,938.45) scale(1.0000,1)" font-size="43.3" font-weight="bold" fill="#000">0.25</text>
<text transform="translate(912.89,758) scale(1.0000,1)" font-size="43.3" font-weight="bold" fill="#000">0.3</text>
<text transform="translate(1240.52,1347.9) scale(1.0456,1)" font-size="45.18" font-weight="bold" fill="#000">Samples</text>
<text transform="translate(878.02,1034.52) rotate(-90) scale(0.9864,1)" font-size="47.73" font-weight="bold" fill="#000">RMS</text>
<text transform="translate(1032.46,723.6) scale(0.9916,1)" font-size="37.4" font-weight="normal" fill="#000">1- Healthy, 2- Unhealthy bearing</text>
<rect x="1540.3" y="731.6" width="79" height="94.5" fill="#fff" stroke="#000" stroke-width="1.5"/>
<ellipse cx="1568.2" cy="756" rx="6.2" ry="6.05" fill="#0000ff"/>
<ellipse cx="1568.2" cy="801.1" rx="6.2" ry="6.05" fill="#ff0000"/>
<text transform="translate(1593.46,769.3) scale(1.0000,1)" font-size="38" font-weight="bold" fill="#000">1</text>
<text transform="translate(1594.88,814) scale(1.0000,1)" font-size="38" font-weight="bold" fill="#000">2</text>
<g stroke="#262626" stroke-opacity="0.19" stroke-width="1.9"><line x1="191.5" y1="1392.3" x2="191.5" y2="1881.75"/><line x1="291.28" y1="1392.3" x2="291.28" y2="1881.75"/><line x1="391.07" y1="1392.3" x2="391.07" y2="1881.75"/><line x1="490.85" y1="1392.3" x2="490.85" y2="1881.75"/><line x1="590.63" y1="1392.3" x2="590.63" y2="1881.75"/><line x1="690.42" y1="1392.3" x2="690.42" y2="1881.75"/><line x1="790.2" y1="1392.3" x2="790.2" y2="1881.75"/><line x1="163.75" y1="1865.5" x2="820" y2="1865.5"/><line x1="163.75" y1="1774.05" x2="820" y2="1774.05"/><line x1="163.75" y1="1682.6" x2="820" y2="1682.6"/><line x1="163.75" y1="1591.15" x2="820" y2="1591.15"/><line x1="163.75" y1="1499.7" x2="820" y2="1499.7"/><line x1="163.75" y1="1408.25" x2="820" y2="1408.25"/></g>
<g fill="#ff0000"><ellipse cx="225" cy="1542.6" rx="6.0" ry="5.9"/><ellipse cx="323" cy="1558.6" rx="6.0" ry="5.9"/><ellipse cx="349.6" cy="1550" rx="6.0" ry="5.9"/><ellipse cx="351" cy="1556.6" rx="6.0" ry="5.9"/><ellipse cx="398" cy="1580.6" rx="6.0" ry="5.9"/><ellipse cx="451" cy="1585.4" rx="6.0" ry="5.9"/><ellipse cx="446" cy="1590.6" rx="6.0" ry="5.9"/><ellipse cx="444.6" cy="1598" rx="6.0" ry="5.9"/><ellipse cx="474" cy="1587.4" rx="6.0" ry="5.9"/><ellipse cx="282.4" cy="1594" rx="6.0" ry="5.9"/><ellipse cx="309.4" cy="1601.4" rx="6.0" ry="5.9"/><ellipse cx="332.6" cy="1610" rx="6.0" ry="5.9"/><ellipse cx="357.6" cy="1614" rx="6.0" ry="5.9"/><ellipse cx="371" cy="1618" rx="6.0" ry="5.9"/><ellipse cx="377.6" cy="1612.6" rx="6.0" ry="5.9"/><ellipse cx="407.6" cy="1617.6" rx="6.0" ry="5.9"/><ellipse cx="392.6" cy="1630.6" rx="6.0" ry="5.9"/><ellipse cx="409.6" cy="1636" rx="6.0" ry="5.9"/><ellipse cx="417" cy="1637" rx="6.0" ry="5.9"/><ellipse cx="469" cy="1629" rx="6.0" ry="5.9"/><ellipse cx="489" cy="1633" rx="6.0" ry="5.9"/><ellipse cx="503" cy="1633" rx="6.0" ry="5.9"/><ellipse cx="195" cy="1614.6" rx="6.0" ry="5.9"/><ellipse cx="203" cy="1609" rx="6.0" ry="5.9"/><ellipse cx="210" cy="1612" rx="6.0" ry="5.9"/><ellipse cx="232" cy="1617" rx="6.0" ry="5.9"/><ellipse cx="233" cy="1623" rx="6.0" ry="5.9"/><ellipse cx="264.6" cy="1624" rx="6.0" ry="5.9"/><ellipse cx="216.6" cy="1637" rx="6.0" ry="5.9"/><ellipse cx="301" cy="1635" rx="6.0" ry="5.9"/><ellipse cx="577" cy="1485.6" rx="6.0" ry="5.9"/><ellipse cx="578.6" cy="1494.6" rx="6.0" ry="5.9"/><ellipse cx="713.6" cy="1560" rx="6.0" ry="5.9"/><ellipse cx="678.6" cy="1582.6" rx="6.0" ry="5.9"/><ellipse cx="574" cy="1589" rx="6.0" ry="5.9"/><ellipse cx="595.4" cy="1594.6" rx="6.0" ry="5.9"/><ellipse cx="606" cy="1568" rx="6.0" ry="5.9"/><ellipse cx="697" cy="1602" rx="6.0" ry="5.9"/><ellipse cx="707" cy="1604" rx="6.0" ry="5.9"/><ellipse cx="703" cy="1610" rx="6.0" ry="5.9"/><ellipse cx="709.4" cy="1610.4" rx="6.0" ry="5.9"/><ellipse cx="747" cy="1617" rx="6.0" ry="5.9"/><ellipse cx="703.4" cy="1625.6" rx="6.0" ry="5.9"/><ellipse cx="776.6" cy="1629.6" rx="6.0" ry="5.9"/><ellipse cx="733.4" cy="1630" rx="6.0" ry="5.9"/><ellipse cx="728" cy="1635" rx="6.0" ry="5.9"/><ellipse cx="741.4" cy="1635" rx="6.0" ry="5.9"/><ellipse cx="657" cy="1630.4" rx="6.0" ry="5.9"/><ellipse cx="617" cy="1637" rx="6.0" ry="5.9"/><ellipse cx="588.6" cy="1626" rx="6.0" ry="5.9"/><ellipse cx="552.6" cy="1613.4" rx="6.0" ry="5.9"/><ellipse cx="557" cy="1618" rx="6.0" ry="5.9"/><ellipse cx="549" cy="1620" rx="6.0" ry="5.9"/><ellipse cx="562" cy="1626.4" rx="6.0" ry="5.9"/><ellipse cx="504" cy="1633" rx="6.0" ry="5.9"/><ellipse cx="200" cy="1654" rx="6.0" ry="5.9"/><ellipse cx="244.6" cy="1653.4" rx="6.0" ry="5.9"/><ellipse cx="268" cy="1650.6" rx="6.0" ry="5.9"/><ellipse cx="304.6" cy="1654.4" rx="6.0" ry="5.9"/><ellipse cx="326" cy="1645" rx="6.0" ry="5.9"/><ellipse cx="329.6" cy="1666.6" rx="6.0" ry="5.9"/><ellipse cx="442.4" cy="1649" rx="6.0" ry="5.9"/><ellipse cx="441" cy="1662.6" rx="6.0" ry="5.9"/><ellipse cx="456" cy="1660.4" rx="6.0" ry="5.9"/><ellipse cx="466" cy="1667" rx="6.0" ry="5.9"/><ellipse cx="485.6" cy="1645" rx="6.0" ry="5.9"/><ellipse cx="500" cy="1642" rx="6.0" ry="5.9"/><ellipse cx="271.6" cy="1686.6" rx="6.0" ry="5.9"/><ellipse cx="261.4" cy="1693.4" rx="6.0" ry="5.9"/><ellipse cx="251.4" cy="1700.4" rx="6.0" ry="5.9"/><ellipse cx="234.6" cy="1708" rx="6.0" ry="5.9"/><ellipse cx="291" cy="1705" rx="6.0" ry="5.9"/><ellipse cx="288" cy="1712.6" rx="6.0" ry="5.9"/><ellipse cx="318" cy="1707" rx="6.0" ry="5.9"/><ellipse cx="316" cy="1715.6" rx="6.0" ry="5.9"/><ellipse cx="328" cy="1709.4" rx="6.0" ry="5.9"/><ellipse cx="342.6" cy="1714.6" rx="6.0" ry="5.9"/><ellipse cx="367.6" cy="1701.4" rx="6.0" ry="5.9"/><ellipse cx="374" cy="1710.6" rx="6.0" ry="5.9"/><ellipse cx="361" cy="1723" rx="6.0" ry="5.9"/><ellipse cx="388" cy="1718" rx="6.0" ry="5.9"/><ellipse cx="384.4" cy="1730" rx="6.0" ry="5.9"/><ellipse cx="399.4" cy="1708.6" rx="6.0" ry="5.9"/><ellipse cx="401" cy="1728.6" rx="6.0" ry="5.9"/><ellipse cx="426" cy="1710.4" rx="6.0" ry="5.9"/><ellipse cx="429.4" cy="1724.4" rx="6.0" ry="5.9"/><ellipse cx="422" cy="1739" rx="6.0" ry="5.9"/><ellipse cx="420.6" cy="1738" rx="6.0" ry="5.9"/><ellipse cx="491" cy="1702.4" rx="6.0" ry="5.9"/><ellipse cx="472.6" cy="1732" rx="6.0" ry="5.9"/><ellipse cx="497.4" cy="1741" rx="6.0" ry="5.9"/><ellipse cx="201.6" cy="1716.6" rx="6.0" ry="5.9"/><ellipse cx="210" cy="1717.4" rx="6.0" ry="5.9"/><ellipse cx="253" cy="1727.4" rx="6.0" ry="5.9"/><ellipse cx="269.6" cy="1728.4" rx="6.0" ry="5.9"/><ellipse cx="249.6" cy="1737.6" rx="6.0" ry="5.9"/><ellipse cx="263" cy="1734.6" rx="6.0" ry="5.9"/><ellipse cx="205" cy="1748.6" rx="6.0" ry="5.9"/><ellipse cx="256.4" cy="1757.6" rx="6.0" ry="5.9"/><ellipse cx="344.6" cy="1751" rx="6.0" ry="5.9"/><ellipse cx="439" cy="1766.4" rx="6.0" ry="5.9"/><ellipse cx="436" cy="1772" rx="6.0" ry="5.9"/><ellipse cx="419.4" cy="1775.6" rx="6.0" ry="5.9"/><ellipse cx="406" cy="1781.4" rx="6.0" ry="5.9"/><ellipse cx="396" cy="1794.6" rx="6.0" ry="5.9"/><ellipse cx="354.6" cy="1781.6" rx="6.0" ry="5.9"/><ellipse cx="481" cy="1767.6" rx="6.0" ry="5.9"/><ellipse cx="499" cy="1780.4" rx="6.0" ry="5.9"/><ellipse cx="236.4" cy="1776.6" rx="6.0" ry="5.9"/><ellipse cx="218" cy="1794.6" rx="6.0" ry="5.9"/><ellipse cx="278" cy="1799.4" rx="6.0" ry="5.9"/><ellipse cx="274.6" cy="1811.6" rx="6.0" ry="5.9"/><ellipse cx="228" cy="1822.4" rx="6.0" ry="5.9"/><ellipse cx="306.4" cy="1821.4" rx="6.0" ry="5.9"/><ellipse cx="454" cy="1847" rx="6.0" ry="5.9"/><ellipse cx="504" cy="1644" rx="6.0" ry="5.9"/><ellipse cx="510.4" cy="1650" rx="6.0" ry="5.9"/><ellipse cx="530.6" cy="1655.6" rx="6.0" ry="5.9"/><ellipse cx="542.6" cy="1664.6" rx="6.0" ry="5.9"/><ellipse cx="545.6" cy="1662" rx="6.0" ry="5.9"/><ellipse cx="652" cy="1643.4" rx="6.0" ry="5.9"/><ellipse cx="592" cy="1662" rx="6.0" ry="5.9"/><ellipse cx="597.4" cy="1665.4" rx="6.0" ry="5.9"/><ellipse cx="603.6" cy="1680" rx="6.0" ry="5.9"/><ellipse cx="667" cy="1673" rx="6.0" ry="5.9"/><ellipse cx="660.4" cy="1681" rx="6.0" ry="5.9"/><ellipse cx="710" cy="1659.4" rx="6.0" ry="5.9"/><ellipse cx="717" cy="1656" rx="6.0" ry="5.9"/><ellipse cx="726.6" cy="1685.4" rx="6.0" ry="5.9"/><ellipse cx="743.4" cy="1681" rx="6.0" ry="5.9"/><ellipse cx="778.4" cy="1681.6" rx="6.0" ry="5.9"/><ellipse cx="515.6" cy="1686.6" rx="6.0" ry="5.9"/><ellipse cx="509" cy="1695.4" rx="6.0" ry="5.9"/><ellipse cx="567" cy="1684" rx="6.0" ry="5.9"/><ellipse cx="570.4" cy="1693" rx="6.0" ry="5.9"/><ellipse cx="635.6" cy="1698" rx="6.0" ry="5.9"/><ellipse cx="630.4" cy="1704.4" rx="6.0" ry="5.9"/><ellipse cx="649" cy="1698" rx="6.0" ry="5.9"/><ellipse cx="645.4" cy="1707" rx="6.0" ry="5.9"/><ellipse cx="655" cy="1709.6" rx="6.0" ry="5.9"/><ellipse cx="662" cy="1712.6" rx="6.0" ry="5.9"/><ellipse cx="673.6" cy="1713" rx="6.0" ry="5.9"/><ellipse cx="687" cy="1713" rx="6.0" ry="5.9"/><ellipse cx="675.4" cy="1693.4" rx="6.0" ry="5.9"/><ellipse cx="690" cy="1693.6" rx="6.0" ry="5.9"/><ellipse cx="700" cy="1700.4" rx="6.0" ry="5.9"/><ellipse cx="745" cy="1697" rx="6.0" ry="5.9"/><ellipse cx="755" cy="1710" rx="6.0" ry="5.9"/><ellipse cx="735.4" cy="1719" rx="6.0" ry="5.9"/><ellipse cx="730" cy="1724" rx="6.0" ry="5.9"/><ellipse cx="582" cy="1715.6" rx="6.0" ry="5.9"/><ellipse cx="602" cy="1717.6" rx="6.0" ry="5.9"/><ellipse cx="593.6" cy="1724.4" rx="6.0" ry="5.9"/><ellipse cx="623.6" cy="1719.4" rx="6.0" ry="5.9"/><ellipse cx="637" cy="1721.6" rx="6.0" ry="5.9"/><ellipse cx="520.6" cy="1720" rx="6.0" ry="5.9"/><ellipse cx="544" cy="1721" rx="6.0" ry="5.9"/><ellipse cx="557.4" cy="1730" rx="6.0" ry="5.9"/><ellipse cx="590.6" cy="1738.6" rx="6.0" ry="5.9"/><ellipse cx="643.6" cy="1748.4" rx="6.0" ry="5.9"/><ellipse cx="670.4" cy="1742" rx="6.0" ry="5.9"/><ellipse cx="725" cy="1749.4" rx="6.0" ry="5.9"/><ellipse cx="758.4" cy="1743" rx="6.0" ry="5.9"/><ellipse cx="751.4" cy="1753" rx="6.0" ry="5.9"/><ellipse cx="785" cy="1745.4" rx="6.0" ry="5.9"/><ellipse cx="698.4" cy="1758" rx="6.0" ry="5.9"/><ellipse cx="522" cy="1753.4" rx="6.0" ry="5.9"/><ellipse cx="512.4" cy="1761.4" rx="6.0" ry="5.9"/><ellipse cx="514" cy="1763.4" rx="6.0" ry="5.9"/><ellipse cx="540.6" cy="1758" rx="6.0" ry="5.9"/><ellipse cx="564" cy="1780.4" rx="6.0" ry="5.9"/><ellipse cx="529" cy="1792.6" rx="6.0" ry="5.9"/><ellipse cx="705" cy="1783.4" rx="6.0" ry="5.9"/><ellipse cx="740" cy="1781.4" rx="6.0" ry="5.9"/><ellipse cx="750" cy="1775.6" rx="6.0" ry="5.9"/><ellipse cx="610.6" cy="1797.4" rx="6.0" ry="5.9"/><ellipse cx="632" cy="1813.4" rx="6.0" ry="5.9"/><ellipse cx="683.6" cy="1811.4" rx="6.0" ry="5.9"/><ellipse cx="718.6" cy="1813" rx="6.0" ry="5.9"/><ellipse cx="653.6" cy="1844.4" rx="6.0" ry="5.9"/><ellipse cx="647" cy="1860" rx="6.0" ry="5.9"/></g>
<g fill="#0000ff"><ellipse cx="492.6" cy="1414" rx="6.0" ry="5.9"/><ellipse cx="246.4" cy="1438.6" rx="6.0" ry="5.9"/><ellipse cx="284.6" cy="1448" rx="6.0" ry="5.9"/><ellipse cx="331" cy="1448.6" rx="6.0" ry="5.9"/><ellipse cx="198.4" cy="1459.6" rx="6.0" ry="5.9"/><ellipse cx="226.4" cy="1470" rx="6.0" ry="5.9"/><ellipse cx="281.4" cy="1465" rx="6.0" ry="5.9"/><ellipse cx="303" cy="1462.6" rx="6.0" ry="5.9"/><ellipse cx="336" cy="1476" rx="6.0" ry="5.9"/><ellipse cx="376" cy="1476" rx="6.0" ry="5.9"/><ellipse cx="461" cy="1474" rx="6.0" ry="5.9"/><ellipse cx="462.4" cy="1485.4" rx="6.0" ry="5.9"/><ellipse cx="243" cy="1488.6" rx="6.0" ry="5.9"/><ellipse cx="208" cy="1496.4" rx="6.0" ry="5.9"/><ellipse cx="240" cy="1498" rx="6.0" ry="5.9"/><ellipse cx="241.6" cy="1502" rx="6.0" ry="5.9"/><ellipse cx="258" cy="1496" rx="6.0" ry="5.9"/><ellipse cx="279.6" cy="1492.4" rx="6.0" ry="5.9"/><ellipse cx="296.4" cy="1493.6" rx="6.0" ry="5.9"/><ellipse cx="308" cy="1502" rx="6.0" ry="5.9"/><ellipse cx="313" cy="1499.4" rx="6.0" ry="5.9"/><ellipse cx="348" cy="1496" rx="6.0" ry="5.9"/><ellipse cx="352.6" cy="1506" rx="6.0" ry="5.9"/><ellipse cx="366" cy="1494" rx="6.0" ry="5.9"/><ellipse cx="452.6" cy="1501.6" rx="6.0" ry="5.9"/><ellipse cx="477.4" cy="1496.4" rx="6.0" ry="5.9"/><ellipse cx="193.4" cy="1515.4" rx="6.0" ry="5.9"/><ellipse cx="221.6" cy="1508.6" rx="6.0" ry="5.9"/><ellipse cx="248" cy="1512.6" rx="6.0" ry="5.9"/><ellipse cx="402.6" cy="1508.6" rx="6.0" ry="5.9"/><ellipse cx="404" cy="1517" rx="6.0" ry="5.9"/><ellipse cx="414" cy="1517.4" rx="6.0" ry="5.9"/><ellipse cx="424" cy="1522.4" rx="6.0" ry="5.9"/><ellipse cx="434" cy="1515.4" rx="6.0" ry="5.9"/><ellipse cx="386" cy="1527" rx="6.0" ry="5.9"/><ellipse cx="447.4" cy="1530" rx="6.0" ry="5.9"/><ellipse cx="457.4" cy="1529.4" rx="6.0" ry="5.9"/><ellipse cx="476" cy="1526.4" rx="6.0" ry="5.9"/><ellipse cx="290" cy="1532" rx="6.0" ry="5.9"/><ellipse cx="293.4" cy="1529.6" rx="6.0" ry="5.9"/><ellipse cx="319.6" cy="1533" rx="6.0" ry="5.9"/><ellipse cx="325" cy="1528.6" rx="6.0" ry="5.9"/><ellipse cx="334.4" cy="1531.4" rx="6.0" ry="5.9"/><ellipse cx="417.4" cy="1537" rx="6.0" ry="5.9"/><ellipse cx="464" cy="1546.6" rx="6.0" ry="5.9"/><ellipse cx="487.4" cy="1557.4" rx="6.0" ry="5.9"/><ellipse cx="359" cy="1548" rx="6.0" ry="5.9"/><ellipse cx="369.6" cy="1546" rx="6.0" ry="5.9"/><ellipse cx="379.4" cy="1552" rx="6.0" ry="5.9"/><ellipse cx="382.6" cy="1546" rx="6.0" ry="5.9"/><ellipse cx="391.4" cy="1549.4" rx="6.0" ry="5.9"/><ellipse cx="298" cy="1556" rx="6.0" ry="5.9"/><ellipse cx="300" cy="1557.4" rx="6.0" ry="5.9"/><ellipse cx="339.4" cy="1562" rx="6.0" ry="5.9"/><ellipse cx="430.6" cy="1554.6" rx="6.0" ry="5.9"/><ellipse cx="432.4" cy="1557.6" rx="6.0" ry="5.9"/><ellipse cx="411" cy="1563" rx="6.0" ry="5.9"/><ellipse cx="412.6" cy="1571.4" rx="6.0" ry="5.9"/><ellipse cx="215" cy="1565.6" rx="6.0" ry="5.9"/><ellipse cx="276.4" cy="1570" rx="6.0" ry="5.9"/><ellipse cx="266.4" cy="1575.6" rx="6.0" ry="5.9"/><ellipse cx="294.6" cy="1570" rx="6.0" ry="5.9"/><ellipse cx="314.6" cy="1576.4" rx="6.0" ry="5.9"/><ellipse cx="321" cy="1585.4" rx="6.0" ry="5.9"/><ellipse cx="356" cy="1571.6" rx="6.0" ry="5.9"/><ellipse cx="364.4" cy="1581" rx="6.0" ry="5.9"/><ellipse cx="346" cy="1586" rx="6.0" ry="5.9"/><ellipse cx="341" cy="1595.4" rx="6.0" ry="5.9"/><ellipse cx="337.4" cy="1603.6" rx="6.0" ry="5.9"/><ellipse cx="372.6" cy="1593.4" rx="6.0" ry="5.9"/><ellipse cx="381" cy="1598.4" rx="6.0" ry="5.9"/><ellipse cx="389.4" cy="1582" rx="6.0" ry="5.9"/><ellipse cx="394.4" cy="1591" rx="6.0" ry="5.9"/><ellipse cx="196.6" cy="1584.4" rx="6.0" ry="5.9"/><ellipse cx="230" cy="1586" rx="6.0" ry="5.9"/><ellipse cx="238" cy="1577" rx="6.0" ry="5.9"/><ellipse cx="254.6" cy="1584" rx="6.0" ry="5.9"/><ellipse cx="259.6" cy="1592.4" rx="6.0" ry="5.9"/><ellipse cx="219.6" cy="1598.6" rx="6.0" ry="5.9"/><ellipse cx="286" cy="1597.4" rx="6.0" ry="5.9"/><ellipse cx="311" cy="1596.6" rx="6.0" ry="5.9"/><ellipse cx="273" cy="1612" rx="6.0" ry="5.9"/><ellipse cx="223.4" cy="1613" rx="6.0" ry="5.9"/><ellipse cx="213.4" cy="1624.6" rx="6.0" ry="5.9"/><ellipse cx="362.6" cy="1631" rx="6.0" ry="5.9"/><ellipse cx="437.4" cy="1628" rx="6.0" ry="5.9"/><ellipse cx="495.6" cy="1607" rx="6.0" ry="5.9"/><ellipse cx="484" cy="1619" rx="6.0" ry="5.9"/><ellipse cx="494" cy="1624" rx="6.0" ry="5.9"/><ellipse cx="479" cy="1630.6" rx="6.0" ry="5.9"/><ellipse cx="572.4" cy="1444.4" rx="6.0" ry="5.9"/><ellipse cx="640.6" cy="1443.4" rx="6.0" ry="5.9"/><ellipse cx="622" cy="1473.4" rx="6.0" ry="5.9"/><ellipse cx="625.4" cy="1487" rx="6.0" ry="5.9"/><ellipse cx="680" cy="1480" rx="6.0" ry="5.9"/><ellipse cx="677" cy="1490" rx="6.0" ry="5.9"/><ellipse cx="688.6" cy="1493" rx="6.0" ry="5.9"/><ellipse cx="781.6" cy="1491.4" rx="6.0" ry="5.9"/><ellipse cx="534" cy="1488" rx="6.0" ry="5.9"/><ellipse cx="535.6" cy="1499.6" rx="6.0" ry="5.9"/><ellipse cx="554" cy="1493.6" rx="6.0" ry="5.9"/><ellipse cx="560" cy="1503.4" rx="6.0" ry="5.9"/><ellipse cx="566" cy="1499.4" rx="6.0" ry="5.9"/><ellipse cx="575.6" cy="1510" rx="6.0" ry="5.9"/><ellipse cx="584" cy="1509" rx="6.0" ry="5.9"/><ellipse cx="600.6" cy="1501.6" rx="6.0" ry="5.9"/><ellipse cx="633.6" cy="1513.4" rx="6.0" ry="5.9"/><ellipse cx="650" cy="1522" rx="6.0" ry="5.9"/><ellipse cx="672" cy="1527.6" rx="6.0" ry="5.9"/><ellipse cx="682" cy="1519.4" rx="6.0" ry="5.9"/><ellipse cx="685.4" cy="1536.6" rx="6.0" ry="5.9"/><ellipse cx="711.4" cy="1521.4" rx="6.0" ry="5.9"/><ellipse cx="723.4" cy="1521.4" rx="6.0" ry="5.9"/><ellipse cx="732" cy="1512.6" rx="6.0" ry="5.9"/><ellipse cx="720" cy="1532" rx="6.0" ry="5.9"/><ellipse cx="715" cy="1539.4" rx="6.0" ry="5.9"/><ellipse cx="761" cy="1509.4" rx="6.0" ry="5.9"/><ellipse cx="768" cy="1512" rx="6.0" ry="5.9"/><ellipse cx="788.6" cy="1519.4" rx="6.0" ry="5.9"/><ellipse cx="790" cy="1532.4" rx="6.0" ry="5.9"/><ellipse cx="760" cy="1532.4" rx="6.0" ry="5.9"/><ellipse cx="738.6" cy="1549.4" rx="6.0" ry="5.9"/><ellipse cx="506" cy="1525.6" rx="6.0" ry="5.9"/><ellipse cx="539" cy="1519" rx="6.0" ry="5.9"/><ellipse cx="526" cy="1542.4" rx="6.0" ry="5.9"/><ellipse cx="537.4" cy="1550" rx="6.0" ry="5.9"/><ellipse cx="605.4" cy="1537.4" rx="6.0" ry="5.9"/><ellipse cx="615.6" cy="1538" rx="6.0" ry="5.9"/><ellipse cx="638" cy="1544" rx="6.0" ry="5.9"/><ellipse cx="642" cy="1545" rx="6.0" ry="5.9"/><ellipse cx="668.6" cy="1542.4" rx="6.0" ry="5.9"/><ellipse cx="587.4" cy="1545.4" rx="6.0" ry="5.9"/><ellipse cx="585.6" cy="1555.4" rx="6.0" ry="5.9"/><ellipse cx="620.4" cy="1552" rx="6.0" ry="5.9"/><ellipse cx="524" cy="1563" rx="6.0" ry="5.9"/><ellipse cx="532.6" cy="1566.6" rx="6.0" ry="5.9"/><ellipse cx="569" cy="1564.6" rx="6.0" ry="5.9"/><ellipse cx="612" cy="1566.6" rx="6.0" ry="5.9"/><ellipse cx="607.4" cy="1576" rx="6.0" ry="5.9"/><ellipse cx="659.4" cy="1560" rx="6.0" ry="5.9"/><ellipse cx="664" cy="1562" rx="6.0" ry="5.9"/><ellipse cx="663.4" cy="1567" rx="6.0" ry="5.9"/><ellipse cx="763.4" cy="1545.4" rx="6.0" ry="5.9"/><ellipse cx="766.6" cy="1552" rx="6.0" ry="5.9"/><ellipse cx="773.4" cy="1554.4" rx="6.0" ry="5.9"/><ellipse cx="787" cy="1567.6" rx="6.0" ry="5.9"/><ellipse cx="765.4" cy="1575" rx="6.0" ry="5.9"/><ellipse cx="770" cy="1573" rx="6.0" ry="5.9"/><ellipse cx="775" cy="1570.6" rx="6.0" ry="5.9"/><ellipse cx="549" cy="1592.6" rx="6.0" ry="5.9"/><ellipse cx="628" cy="1591.4" rx="6.0" ry="5.9"/><ellipse cx="599" cy="1602.6" rx="6.0" ry="5.9"/><ellipse cx="694" cy="1591" rx="6.0" ry="5.9"/><ellipse cx="722" cy="1591.4" rx="6.0" ry="5.9"/><ellipse cx="756.6" cy="1589" rx="6.0" ry="5.9"/><ellipse cx="772" cy="1600.6" rx="6.0" ry="5.9"/><ellipse cx="737" cy="1613.4" rx="6.0" ry="5.9"/><ellipse cx="519" cy="1629.4" rx="6.0" ry="5.9"/><ellipse cx="517.4" cy="1639" rx="6.0" ry="5.9"/><ellipse cx="547.4" cy="1639" rx="6.0" ry="5.9"/><ellipse cx="459" cy="1677.6" rx="6.0" ry="5.9"/><ellipse cx="467.4" cy="1691" rx="6.0" ry="5.9"/><ellipse cx="427.6" cy="1698.6" rx="6.0" ry="5.9"/><ellipse cx="449.4" cy="1713" rx="6.0" ry="5.9"/><ellipse cx="470.6" cy="1712.4" rx="6.0" ry="5.9"/><ellipse cx="502" cy="1672.6" rx="6.0" ry="5.9"/><ellipse cx="517.4" cy="1642.6" rx="6.0" ry="5.9"/><ellipse cx="547.4" cy="1642" rx="6.0" ry="5.9"/><ellipse cx="559" cy="1643" rx="6.0" ry="5.9"/><ellipse cx="613.6" cy="1661" rx="6.0" ry="5.9"/><ellipse cx="619" cy="1673.6" rx="6.0" ry="5.9"/><ellipse cx="691.6" cy="1655" rx="6.0" ry="5.9"/><ellipse cx="780" cy="1646.6" rx="6.0" ry="5.9"/><ellipse cx="753.6" cy="1694" rx="6.0" ry="5.9"/><ellipse cx="783.4" cy="1710.4" rx="6.0" ry="5.9"/></g>
<line x1="163.75" y1="1391.8" x2="163.75" y2="1882.5" stroke="#000" stroke-width="1.5"/>
<line x1="163" y1="1881.75" x2="820" y2="1881.75" stroke="#000" stroke-width="1.5"/>
<line x1="191.5" y1="1881.75" x2="191.5" y2="1874.25" stroke="#000" stroke-width="1.5"/>
<line x1="291.28" y1="1881.75" x2="291.28" y2="1874.25" stroke="#000" stroke-width="1.5"/>
<line x1="391.07" y1="1881.75" x2="391.07" y2="1874.25" stroke="#000" stroke-width="1.5"/>
<line x1="490.85" y1="1881.75" x2="490.85" y2="1874.25" stroke="#000" stroke-width="1.5"/>
<line x1="590.63" y1="1881.75" x2="590.63" y2="1874.25" stroke="#000" stroke-width="1.5"/>
<line x1="690.42" y1="1881.75" x2="690.42" y2="1874.25" stroke="#000" stroke-width="1.5"/>
<line x1="790.2" y1="1881.75" x2="790.2" y2="1874.25" stroke="#000" stroke-width="1.5"/>
<line x1="163.75" y1="1865.5" x2="171.25" y2="1865.5" stroke="#000" stroke-width="1.5"/>
<line x1="163.75" y1="1774.05" x2="171.25" y2="1774.05" stroke="#000" stroke-width="1.5"/>
<line x1="163.75" y1="1682.6" x2="171.25" y2="1682.6" stroke="#000" stroke-width="1.5"/>
<line x1="163.75" y1="1591.15" x2="171.25" y2="1591.15" stroke="#000" stroke-width="1.5"/>
<line x1="163.75" y1="1499.7" x2="171.25" y2="1499.7" stroke="#000" stroke-width="1.5"/>
<line x1="163.75" y1="1408.25" x2="171.25" y2="1408.25" stroke="#000" stroke-width="1.5"/>
<text transform="translate(181.2,1929.6) scale(1.0300,1)" font-size="40" font-weight="bold" fill="#000">0</text>
<text transform="translate(270.73,1929.6) scale(1.0300,1)" font-size="40" font-weight="bold" fill="#000">60</text>
<text transform="translate(359.29,1929.6) scale(1.0300,1)" font-size="40" font-weight="bold" fill="#000">120</text>
<text transform="translate(459.07,1929.6) scale(1.0300,1)" font-size="40" font-weight="bold" fill="#000">180</text>
<text transform="translate(559.63,1929.6) scale(1.0300,1)" font-size="40" font-weight="bold" fill="#000">240</text>
<text transform="translate(659.52,1929.6) scale(1.0300,1)" font-size="40" font-weight="bold" fill="#000">300</text>
<text transform="translate(759.3,1929.6) scale(1.0300,1)" font-size="40" font-weight="bold" fill="#000">360</text>
<text transform="translate(100.66,1878.8) scale(1.0300,1)" font-size="40" font-weight="bold" fill="#000">0.1</text>
<text transform="translate(79.65,1787.35) scale(1.0300,1)" font-size="40" font-weight="bold" fill="#000">0.12</text>
<text transform="translate(78.62,1695.9) scale(1.0300,1)" font-size="40" font-weight="bold" fill="#000">0.14</text>
<text transform="translate(79.14,1604.45) scale(1.0300,1)" font-size="40" font-weight="bold" fill="#000">0.16</text>
<text transform="translate(79.24,1513) scale(1.0300,1)" font-size="40" font-weight="bold" fill="#000">0.18</text>
<text transform="translate(100.25,1421.55) scale(1.0300,1)" font-size="40" font-weight="bold" fill="#000">0.2</text>
<text transform="translate(410.63,1980.44) scale(1.0579,1)" font-size="42.64" font-weight="bold" fill="#000">Samples</text>
<text transform="translate(65,1690.47) rotate(-90) scale(1.0028,1)" font-size="43.94" font-weight="bold" fill="#000">RMA</text>
<text transform="translate(189.24,1386.6) scale(0.9959,1)" font-size="37.4" font-weight="normal" fill="#000">1- Healthy, 2- Unhealthy bearing</text>
<rect x="690" y="1396.1" width="73.7" height="88" fill="#fff" stroke="#000" stroke-width="1.5"/>
<ellipse cx="716" cy="1419.2" rx="6.0" ry="5.9" fill="#0000ff"/>
<ellipse cx="716" cy="1461.4" rx="6.0" ry="5.9" fill="#ff0000"/>
<text transform="translate(740.06,1431.6) scale(1.0000,1)" font-size="35.5" font-weight="bold" fill="#000">1</text>
<text transform="translate(741.39,1473) scale(1.0000,1)" font-size="35.5" font-weight="bold" fill="#000">2</text>
<g stroke="#262626" stroke-opacity="0.19" stroke-width="1.9"><line x1="1009.6" y1="1409.1" x2="1009.6" y2="1887.3"/><line x1="1114.4" y1="1409.1" x2="1114.4" y2="1887.3"/><line x1="1219.2" y1="1409.1" x2="1219.2" y2="1887.3"/><line x1="1324" y1="1409.1" x2="1324" y2="1887.3"/><line x1="1428.8" y1="1409.1" x2="1428.8" y2="1887.3"/><line x1="1533.6" y1="1409.1" x2="1533.6" y2="1887.3"/><line x1="1638.4" y1="1409.1" x2="1638.4" y2="1887.3"/><line x1="980.7" y1="1880.3" x2="1669.8" y2="1880.3"/><line x1="980.7" y1="1725.63" x2="1669.8" y2="1725.63"/><line x1="980.7" y1="1570.97" x2="1669.8" y2="1570.97"/><line x1="980.7" y1="1416.3" x2="1669.8" y2="1416.3"/></g>
<g fill="#ff0000"><ellipse cx="1044.6" cy="1556" rx="6.9" ry="6.4"/><ellipse cx="1147.6" cy="1566" rx="6.9" ry="6.4"/><ellipse cx="1177" cy="1558" rx="6.9" ry="6.4"/><ellipse cx="1175" cy="1568" rx="6.9" ry="6.4"/><ellipse cx="1226" cy="1582" rx="6.9" ry="6.4"/><ellipse cx="1106" cy="1594.6" rx="6.9" ry="6.4"/><ellipse cx="1133.4" cy="1592" rx="6.9" ry="6.4"/><ellipse cx="1281" cy="1599" rx="6.9" ry="6.4"/><ellipse cx="1275" cy="1603" rx="6.9" ry="6.4"/><ellipse cx="1274.6" cy="1613" rx="6.9" ry="6.4"/><ellipse cx="1306.4" cy="1597.4" rx="6.9" ry="6.4"/><ellipse cx="1236.6" cy="1616.4" rx="6.9" ry="6.4"/><ellipse cx="1184.4" cy="1622" rx="6.9" ry="6.4"/><ellipse cx="1198.4" cy="1623" rx="6.9" ry="6.4"/><ellipse cx="1205" cy="1618.6" rx="6.9" ry="6.4"/><ellipse cx="1221" cy="1625.6" rx="6.9" ry="6.4"/><ellipse cx="1157.4" cy="1621.6" rx="6.9" ry="6.4"/><ellipse cx="1124.6" cy="1636" rx="6.9" ry="6.4"/><ellipse cx="1086.4" cy="1628" rx="6.9" ry="6.4"/><ellipse cx="1051.4" cy="1615.6" rx="6.9" ry="6.4"/><ellipse cx="1053" cy="1631.6" rx="6.9" ry="6.4"/><ellipse cx="1013" cy="1620.6" rx="6.9" ry="6.4"/><ellipse cx="1025.6" cy="1616" rx="6.9" ry="6.4"/><ellipse cx="1022" cy="1621.6" rx="6.9" ry="6.4"/><ellipse cx="1031" cy="1623" rx="6.9" ry="6.4"/><ellipse cx="1035" cy="1637.4" rx="6.9" ry="6.4"/><ellipse cx="1065.6" cy="1646" rx="6.9" ry="6.4"/><ellipse cx="1300.6" cy="1637" rx="6.9" ry="6.4"/><ellipse cx="1315" cy="1632.4" rx="6.9" ry="6.4"/><ellipse cx="1238.4" cy="1646" rx="6.9" ry="6.4"/><ellipse cx="1245" cy="1649" rx="6.9" ry="6.4"/><ellipse cx="1275" cy="1647" rx="6.9" ry="6.4"/><ellipse cx="1321" cy="1646" rx="6.9" ry="6.4"/><ellipse cx="1414.6" cy="1491" rx="6.9" ry="6.4"/><ellipse cx="1416.4" cy="1512" rx="6.9" ry="6.4"/><ellipse cx="1447.6" cy="1567.6" rx="6.9" ry="6.4"/><ellipse cx="1521" cy="1585.6" rx="6.9" ry="6.4"/><ellipse cx="1558" cy="1569.6" rx="6.9" ry="6.4"/><ellipse cx="1411.4" cy="1603.6" rx="6.9" ry="6.4"/><ellipse cx="1434" cy="1603" rx="6.9" ry="6.4"/><ellipse cx="1541" cy="1599.4" rx="6.9" ry="6.4"/><ellipse cx="1551" cy="1608" rx="6.9" ry="6.4"/><ellipse cx="1554" cy="1613" rx="6.9" ry="6.4"/><ellipse cx="1545.6" cy="1617" rx="6.9" ry="6.4"/><ellipse cx="1593" cy="1619" rx="6.9" ry="6.4"/><ellipse cx="1386" cy="1623" rx="6.9" ry="6.4"/><ellipse cx="1391" cy="1625" rx="6.9" ry="6.4"/><ellipse cx="1400" cy="1632" rx="6.9" ry="6.4"/><ellipse cx="1427" cy="1633" rx="6.9" ry="6.4"/><ellipse cx="1493" cy="1632" rx="6.9" ry="6.4"/><ellipse cx="1499" cy="1630" rx="6.9" ry="6.4"/><ellipse cx="1547" cy="1635" rx="6.9" ry="6.4"/><ellipse cx="1575" cy="1639" rx="6.9" ry="6.4"/><ellipse cx="1587.6" cy="1643" rx="6.9" ry="6.4"/><ellipse cx="1624.4" cy="1633" rx="6.9" ry="6.4"/><ellipse cx="1339" cy="1640" rx="6.9" ry="6.4"/><ellipse cx="1345" cy="1648" rx="6.9" ry="6.4"/><ellipse cx="1334" cy="1644" rx="6.9" ry="6.4"/><ellipse cx="1456.4" cy="1647" rx="6.9" ry="6.4"/><ellipse cx="1573" cy="1649" rx="6.9" ry="6.4"/><ellipse cx="1018.6" cy="1655.6" rx="6.9" ry="6.4"/><ellipse cx="1090" cy="1663.4" rx="6.9" ry="6.4"/><ellipse cx="1128.4" cy="1666.6" rx="6.9" ry="6.4"/><ellipse cx="1151" cy="1655" rx="6.9" ry="6.4"/><ellipse cx="1154.6" cy="1666.6" rx="6.9" ry="6.4"/><ellipse cx="1245.4" cy="1651" rx="6.9" ry="6.4"/><ellipse cx="1272" cy="1661" rx="6.9" ry="6.4"/><ellipse cx="1287" cy="1664.6" rx="6.9" ry="6.4"/><ellipse cx="1298" cy="1669" rx="6.9" ry="6.4"/><ellipse cx="1319" cy="1655" rx="6.9" ry="6.4"/><ellipse cx="1072.6" cy="1694.6" rx="6.9" ry="6.4"/><ellipse cx="1083" cy="1702" rx="6.9" ry="6.4"/><ellipse cx="1093.6" cy="1697.4" rx="6.9" ry="6.4"/><ellipse cx="1055" cy="1707" rx="6.9" ry="6.4"/><ellipse cx="1020" cy="1714.6" rx="6.9" ry="6.4"/><ellipse cx="1029" cy="1724.4" rx="6.9" ry="6.4"/><ellipse cx="1074.4" cy="1721.6" rx="6.9" ry="6.4"/><ellipse cx="1092" cy="1724.6" rx="6.9" ry="6.4"/><ellipse cx="1085" cy="1733.4" rx="6.9" ry="6.4"/><ellipse cx="1111" cy="1714" rx="6.9" ry="6.4"/><ellipse cx="1116" cy="1710" rx="6.9" ry="6.4"/><ellipse cx="1141" cy="1714.4" rx="6.9" ry="6.4"/><ellipse cx="1153" cy="1717" rx="6.9" ry="6.4"/><ellipse cx="1168.6" cy="1714" rx="6.9" ry="6.4"/><ellipse cx="1195" cy="1706.4" rx="6.9" ry="6.4"/><ellipse cx="1187.6" cy="1717.4" rx="6.9" ry="6.4"/><ellipse cx="1201.6" cy="1725.4" rx="6.9" ry="6.4"/><ellipse cx="1212.6" cy="1728" rx="6.9" ry="6.4"/><ellipse cx="1216" cy="1715" rx="6.9" ry="6.4"/><ellipse cx="1228.4" cy="1712" rx="6.9" ry="6.4"/><ellipse cx="1229.6" cy="1732.4" rx="6.9" ry="6.4"/><ellipse cx="1256" cy="1700.6" rx="6.9" ry="6.4"/><ellipse cx="1259.4" cy="1723.4" rx="6.9" ry="6.4"/><ellipse cx="1323" cy="1703" rx="6.9" ry="6.4"/><ellipse cx="1023.6" cy="1746.4" rx="6.9" ry="6.4"/><ellipse cx="1071" cy="1745.4" rx="6.9" ry="6.4"/><ellipse cx="1078" cy="1755" rx="6.9" ry="6.4"/><ellipse cx="1170" cy="1742.6" rx="6.9" ry="6.4"/><ellipse cx="1251" cy="1747" rx="6.9" ry="6.4"/><ellipse cx="1252.4" cy="1745" rx="6.9" ry="6.4"/><ellipse cx="1304.6" cy="1742.4" rx="6.9" ry="6.4"/><ellipse cx="1313.6" cy="1763.4" rx="6.9" ry="6.4"/><ellipse cx="1266.6" cy="1770" rx="6.9" ry="6.4"/><ellipse cx="1270.4" cy="1767.4" rx="6.9" ry="6.4"/><ellipse cx="1235" cy="1775.6" rx="6.9" ry="6.4"/><ellipse cx="1224.6" cy="1779.4" rx="6.9" ry="6.4"/><ellipse cx="1249" cy="1780.6" rx="6.9" ry="6.4"/><ellipse cx="1180.6" cy="1779" rx="6.9" ry="6.4"/><ellipse cx="1057" cy="1771.4" rx="6.9" ry="6.4"/><ellipse cx="1100.6" cy="1787.6" rx="6.9" ry="6.4"/><ellipse cx="1038" cy="1797.4" rx="6.9" ry="6.4"/><ellipse cx="1048.4" cy="1815.6" rx="6.9" ry="6.4"/><ellipse cx="1097" cy="1820.6" rx="6.9" ry="6.4"/><ellipse cx="1130.4" cy="1832" rx="6.9" ry="6.4"/><ellipse cx="1285.6" cy="1848.6" rx="6.9" ry="6.4"/><ellipse cx="1341" cy="1650" rx="6.9" ry="6.4"/><ellipse cx="1347" cy="1650" rx="6.9" ry="6.4"/><ellipse cx="1366" cy="1662.6" rx="6.9" ry="6.4"/><ellipse cx="1378" cy="1668" rx="6.9" ry="6.4"/><ellipse cx="1382" cy="1664" rx="6.9" ry="6.4"/><ellipse cx="1430" cy="1664.4" rx="6.9" ry="6.4"/><ellipse cx="1436" cy="1669" rx="6.9" ry="6.4"/><ellipse cx="1443" cy="1683" rx="6.9" ry="6.4"/><ellipse cx="1554.4" cy="1656" rx="6.9" ry="6.4"/><ellipse cx="1573.6" cy="1651.6" rx="6.9" ry="6.4"/><ellipse cx="1561.6" cy="1670.4" rx="6.9" ry="6.4"/><ellipse cx="1589.4" cy="1673" rx="6.9" ry="6.4"/><ellipse cx="1572" cy="1686.6" rx="6.9" ry="6.4"/><ellipse cx="1626" cy="1690.4" rx="6.9" ry="6.4"/><ellipse cx="1502" cy="1679.6" rx="6.9" ry="6.4"/><ellipse cx="1509" cy="1672" rx="6.9" ry="6.4"/><ellipse cx="1517.6" cy="1689" rx="6.9" ry="6.4"/><ellipse cx="1476" cy="1694" rx="6.9" ry="6.4"/><ellipse cx="1470.4" cy="1705" rx="6.9" ry="6.4"/><ellipse cx="1490" cy="1700" rx="6.9" ry="6.4"/><ellipse cx="1497" cy="1701.6" rx="6.9" ry="6.4"/><ellipse cx="1486.4" cy="1713.6" rx="6.9" ry="6.4"/><ellipse cx="1477.6" cy="1723.4" rx="6.9" ry="6.4"/><ellipse cx="1503.6" cy="1724.6" rx="6.9" ry="6.4"/><ellipse cx="1516" cy="1721.4" rx="6.9" ry="6.4"/><ellipse cx="1530" cy="1717.4" rx="6.9" ry="6.4"/><ellipse cx="1533.6" cy="1703.6" rx="6.9" ry="6.4"/><ellipse cx="1544" cy="1710.6" rx="6.9" ry="6.4"/><ellipse cx="1594" cy="1699.6" rx="6.9" ry="6.4"/><ellipse cx="1591" cy="1707" rx="6.9" ry="6.4"/><ellipse cx="1601" cy="1713" rx="6.9" ry="6.4"/><ellipse cx="1343" cy="1691" rx="6.9" ry="6.4"/><ellipse cx="1350" cy="1696" rx="6.9" ry="6.4"/><ellipse cx="1327" cy="1703" rx="6.9" ry="6.4"/><ellipse cx="1404.4" cy="1694.6" rx="6.9" ry="6.4"/><ellipse cx="1407.6" cy="1699" rx="6.9" ry="6.4"/><ellipse cx="1420" cy="1708.4" rx="6.9" ry="6.4"/><ellipse cx="1355.6" cy="1718.6" rx="6.9" ry="6.4"/><ellipse cx="1379.6" cy="1728" rx="6.9" ry="6.4"/><ellipse cx="1394" cy="1729" rx="6.9" ry="6.4"/><ellipse cx="1431" cy="1721" rx="6.9" ry="6.4"/><ellipse cx="1441" cy="1720.4" rx="6.9" ry="6.4"/><ellipse cx="1429" cy="1731.6" rx="6.9" ry="6.4"/><ellipse cx="1463.6" cy="1731.6" rx="6.9" ry="6.4"/><ellipse cx="1575" cy="1732.4" rx="6.9" ry="6.4"/><ellipse cx="1580.6" cy="1729.6" rx="6.9" ry="6.4"/><ellipse cx="1598" cy="1744" rx="6.9" ry="6.4"/><ellipse cx="1605" cy="1756.4" rx="6.9" ry="6.4"/><ellipse cx="1570" cy="1755.6" rx="6.9" ry="6.4"/><ellipse cx="1542.4" cy="1749" rx="6.9" ry="6.4"/><ellipse cx="1512.4" cy="1746" rx="6.9" ry="6.4"/><ellipse cx="1484.4" cy="1746.4" rx="6.9" ry="6.4"/><ellipse cx="1633" cy="1756.4" rx="6.9" ry="6.4"/><ellipse cx="1331.6" cy="1746.6" rx="6.9" ry="6.4"/><ellipse cx="1349" cy="1754.4" rx="6.9" ry="6.4"/><ellipse cx="1357" cy="1748.4" rx="6.9" ry="6.4"/><ellipse cx="1347" cy="1768" rx="6.9" ry="6.4"/><ellipse cx="1376.6" cy="1763.6" rx="6.9" ry="6.4"/><ellipse cx="1333" cy="1779.6" rx="6.9" ry="6.4"/><ellipse cx="1401" cy="1788.4" rx="6.9" ry="6.4"/><ellipse cx="1364.4" cy="1797.4" rx="6.9" ry="6.4"/><ellipse cx="1450" cy="1804.4" rx="6.9" ry="6.4"/><ellipse cx="1472.4" cy="1804.4" rx="6.9" ry="6.4"/><ellipse cx="1549" cy="1782" rx="6.9" ry="6.4"/><ellipse cx="1586" cy="1783.4" rx="6.9" ry="6.4"/><ellipse cx="1596.4" cy="1775" rx="6.9" ry="6.4"/><ellipse cx="1563" cy="1803.6" rx="6.9" ry="6.4"/><ellipse cx="1526.6" cy="1827.4" rx="6.9" ry="6.4"/><ellipse cx="1495" cy="1842" rx="6.9" ry="6.4"/><ellipse cx="1488.4" cy="1866" rx="6.9" ry="6.4"/></g>
<g fill="#0000ff"><ellipse cx="1067.4" cy="1454.4" rx="6.9" ry="6.4"/><ellipse cx="1107.6" cy="1455" rx="6.9" ry="6.4"/><ellipse cx="1156.4" cy="1460" rx="6.9" ry="6.4"/><ellipse cx="1017" cy="1480" rx="6.9" ry="6.4"/><ellipse cx="1046.6" cy="1487.6" rx="6.9" ry="6.4"/><ellipse cx="1104" cy="1480.6" rx="6.9" ry="6.4"/><ellipse cx="1127" cy="1479.6" rx="6.9" ry="6.4"/><ellipse cx="1161.6" cy="1492" rx="6.9" ry="6.4"/><ellipse cx="1203.6" cy="1492" rx="6.9" ry="6.4"/><ellipse cx="1292.4" cy="1494.4" rx="6.9" ry="6.4"/><ellipse cx="1294" cy="1500.4" rx="6.9" ry="6.4"/><ellipse cx="1310" cy="1510" rx="6.9" ry="6.4"/><ellipse cx="1064" cy="1504.6" rx="6.9" ry="6.4"/><ellipse cx="1079.6" cy="1505" rx="6.9" ry="6.4"/><ellipse cx="1102.4" cy="1507.4" rx="6.9" ry="6.4"/><ellipse cx="1120" cy="1506.6" rx="6.9" ry="6.4"/><ellipse cx="1027.4" cy="1512" rx="6.9" ry="6.4"/><ellipse cx="1041" cy="1519.4" rx="6.9" ry="6.4"/><ellipse cx="1060.4" cy="1516.6" rx="6.9" ry="6.4"/><ellipse cx="1062.4" cy="1520" rx="6.9" ry="6.4"/><ellipse cx="1011.6" cy="1527.4" rx="6.9" ry="6.4"/><ellipse cx="1069" cy="1532" rx="6.9" ry="6.4"/><ellipse cx="1131.4" cy="1515" rx="6.9" ry="6.4"/><ellipse cx="1137" cy="1520.6" rx="6.9" ry="6.4"/><ellipse cx="1173.6" cy="1512" rx="6.9" ry="6.4"/><ellipse cx="1179" cy="1518.6" rx="6.9" ry="6.4"/><ellipse cx="1193" cy="1508" rx="6.9" ry="6.4"/><ellipse cx="1231.6" cy="1519.4" rx="6.9" ry="6.4"/><ellipse cx="1232.6" cy="1530" rx="6.9" ry="6.4"/><ellipse cx="1244" cy="1529.4" rx="6.9" ry="6.4"/><ellipse cx="1247" cy="1538" rx="6.9" ry="6.4"/><ellipse cx="1254" cy="1539" rx="6.9" ry="6.4"/><ellipse cx="1264.6" cy="1524" rx="6.9" ry="6.4"/><ellipse cx="1284" cy="1520.6" rx="6.9" ry="6.4"/><ellipse cx="1289" cy="1531.4" rx="6.9" ry="6.4"/><ellipse cx="1278.4" cy="1544" rx="6.9" ry="6.4"/><ellipse cx="1308.4" cy="1542.6" rx="6.9" ry="6.4"/><ellipse cx="1296" cy="1553.6" rx="6.9" ry="6.4"/><ellipse cx="1320.4" cy="1564" rx="6.9" ry="6.4"/><ellipse cx="1113" cy="1545.6" rx="6.9" ry="6.4"/><ellipse cx="1116.6" cy="1542" rx="6.9" ry="6.4"/><ellipse cx="1144" cy="1541.6" rx="6.9" ry="6.4"/><ellipse cx="1150" cy="1543.4" rx="6.9" ry="6.4"/><ellipse cx="1160" cy="1542.6" rx="6.9" ry="6.4"/><ellipse cx="1214.4" cy="1542" rx="6.9" ry="6.4"/><ellipse cx="1186" cy="1563" rx="6.9" ry="6.4"/><ellipse cx="1196.6" cy="1557" rx="6.9" ry="6.4"/><ellipse cx="1210.6" cy="1557" rx="6.9" ry="6.4"/><ellipse cx="1207" cy="1570.4" rx="6.9" ry="6.4"/><ellipse cx="1219.4" cy="1569.6" rx="6.9" ry="6.4"/><ellipse cx="1240.4" cy="1572.4" rx="6.9" ry="6.4"/><ellipse cx="1242" cy="1583.4" rx="6.9" ry="6.4"/><ellipse cx="1261" cy="1567.4" rx="6.9" ry="6.4"/><ellipse cx="1263" cy="1566.6" rx="6.9" ry="6.4"/><ellipse cx="1099" cy="1575.6" rx="6.9" ry="6.4"/><ellipse cx="1121.6" cy="1571.6" rx="6.9" ry="6.4"/><ellipse cx="1123.4" cy="1578.6" rx="6.9" ry="6.4"/><ellipse cx="1117" cy="1582" rx="6.9" ry="6.4"/><ellipse cx="1165" cy="1579.4" rx="6.9" ry="6.4"/><ellipse cx="1182.6" cy="1582" rx="6.9" ry="6.4"/><ellipse cx="1034" cy="1579.6" rx="6.9" ry="6.4"/><ellipse cx="1015" cy="1590.6" rx="6.9" ry="6.4"/><ellipse cx="1058.6" cy="1586.6" rx="6.9" ry="6.4"/><ellipse cx="1050" cy="1598.6" rx="6.9" ry="6.4"/><ellipse cx="1076" cy="1596.4" rx="6.9" ry="6.4"/><ellipse cx="1088.4" cy="1589.6" rx="6.9" ry="6.4"/><ellipse cx="1081" cy="1610" rx="6.9" ry="6.4"/><ellipse cx="1109" cy="1608" rx="6.9" ry="6.4"/><ellipse cx="1135.6" cy="1610.6" rx="6.9" ry="6.4"/><ellipse cx="1139" cy="1597" rx="6.9" ry="6.4"/><ellipse cx="1145.4" cy="1599" rx="6.9" ry="6.4"/><ellipse cx="1172.4" cy="1601.6" rx="6.9" ry="6.4"/><ellipse cx="1166.6" cy="1611.4" rx="6.9" ry="6.4"/><ellipse cx="1191" cy="1595.6" rx="6.9" ry="6.4"/><ellipse cx="1200" cy="1605" rx="6.9" ry="6.4"/><ellipse cx="1208.4" cy="1597.6" rx="6.9" ry="6.4"/><ellipse cx="1218" cy="1598" rx="6.9" ry="6.4"/><ellipse cx="1222.6" cy="1606.6" rx="6.9" ry="6.4"/><ellipse cx="1039.6" cy="1613.4" rx="6.9" ry="6.4"/><ellipse cx="1095" cy="1623.6" rx="6.9" ry="6.4"/><ellipse cx="1163.4" cy="1626" rx="6.9" ry="6.4"/><ellipse cx="1189.6" cy="1636" rx="6.9" ry="6.4"/><ellipse cx="1043" cy="1633" rx="6.9" ry="6.4"/><ellipse cx="1032.6" cy="1641" rx="6.9" ry="6.4"/><ellipse cx="1268.4" cy="1646.6" rx="6.9" ry="6.4"/><ellipse cx="1312" cy="1648.6" rx="6.9" ry="6.4"/><ellipse cx="1317" cy="1629.6" rx="6.9" ry="6.4"/><ellipse cx="1323.6" cy="1620" rx="6.9" ry="6.4"/><ellipse cx="1325.6" cy="1430" rx="6.9" ry="6.4"/><ellipse cx="1409.6" cy="1466.6" rx="6.9" ry="6.4"/><ellipse cx="1481" cy="1460.6" rx="6.9" ry="6.4"/><ellipse cx="1462" cy="1490" rx="6.9" ry="6.4"/><ellipse cx="1465.6" cy="1504" rx="6.9" ry="6.4"/><ellipse cx="1523" cy="1496" rx="6.9" ry="6.4"/><ellipse cx="1532" cy="1503" rx="6.9" ry="6.4"/><ellipse cx="1519" cy="1508" rx="6.9" ry="6.4"/><ellipse cx="1369.4" cy="1506.4" rx="6.9" ry="6.4"/><ellipse cx="1371.4" cy="1511.6" rx="6.9" ry="6.4"/><ellipse cx="1390.4" cy="1514.4" rx="6.9" ry="6.4"/><ellipse cx="1396.4" cy="1518.6" rx="6.9" ry="6.4"/><ellipse cx="1403" cy="1521" rx="6.9" ry="6.4"/><ellipse cx="1411" cy="1523.4" rx="6.9" ry="6.4"/><ellipse cx="1418.4" cy="1520" rx="6.9" ry="6.4"/><ellipse cx="1422" cy="1532.4" rx="6.9" ry="6.4"/><ellipse cx="1439" cy="1515" rx="6.9" ry="6.4"/><ellipse cx="1340" cy="1532.4" rx="6.9" ry="6.4"/><ellipse cx="1374.6" cy="1538" rx="6.9" ry="6.4"/><ellipse cx="1474.4" cy="1529" rx="6.9" ry="6.4"/><ellipse cx="1491.6" cy="1536.4" rx="6.9" ry="6.4"/><ellipse cx="1525" cy="1538.4" rx="6.9" ry="6.4"/><ellipse cx="1514" cy="1544.6" rx="6.9" ry="6.4"/><ellipse cx="1511" cy="1554" rx="6.9" ry="6.4"/><ellipse cx="1528.4" cy="1551.6" rx="6.9" ry="6.4"/><ellipse cx="1556" cy="1539.4" rx="6.9" ry="6.4"/><ellipse cx="1565" cy="1542" rx="6.9" ry="6.4"/><ellipse cx="1569" cy="1540.4" rx="6.9" ry="6.4"/><ellipse cx="1577" cy="1524.6" rx="6.9" ry="6.4"/><ellipse cx="1608" cy="1525" rx="6.9" ry="6.4"/><ellipse cx="1615.6" cy="1528.6" rx="6.9" ry="6.4"/><ellipse cx="1629.6" cy="1512.4" rx="6.9" ry="6.4"/><ellipse cx="1636.6" cy="1533.6" rx="6.9" ry="6.4"/><ellipse cx="1638.4" cy="1548.6" rx="6.9" ry="6.4"/><ellipse cx="1584" cy="1552" rx="6.9" ry="6.4"/><ellipse cx="1606" cy="1548" rx="6.9" ry="6.4"/><ellipse cx="1611.6" cy="1555" rx="6.9" ry="6.4"/><ellipse cx="1611" cy="1557.6" rx="6.9" ry="6.4"/><ellipse cx="1559.6" cy="1560" rx="6.9" ry="6.4"/><ellipse cx="1361.6" cy="1554" rx="6.9" ry="6.4"/><ellipse cx="1360.6" cy="1558.4" rx="6.9" ry="6.4"/><ellipse cx="1373" cy="1568" rx="6.9" ry="6.4"/><ellipse cx="1359" cy="1573.6" rx="6.9" ry="6.4"/><ellipse cx="1367.6" cy="1581.6" rx="6.9" ry="6.4"/><ellipse cx="1406" cy="1582" rx="6.9" ry="6.4"/><ellipse cx="1424.4" cy="1559.4" rx="6.9" ry="6.4"/><ellipse cx="1445" cy="1555.6" rx="6.9" ry="6.4"/><ellipse cx="1455" cy="1556" rx="6.9" ry="6.4"/><ellipse cx="1460.6" cy="1565" rx="6.9" ry="6.4"/><ellipse cx="1479" cy="1554" rx="6.9" ry="6.4"/><ellipse cx="1483" cy="1557.4" rx="6.9" ry="6.4"/><ellipse cx="1451.6" cy="1579" rx="6.9" ry="6.4"/><ellipse cx="1446.4" cy="1591.4" rx="6.9" ry="6.4"/><ellipse cx="1506.6" cy="1577.6" rx="6.9" ry="6.4"/><ellipse cx="1500.4" cy="1585" rx="6.9" ry="6.4"/><ellipse cx="1620.6" cy="1569" rx="6.9" ry="6.4"/><ellipse cx="1635" cy="1579.6" rx="6.9" ry="6.4"/><ellipse cx="1617" cy="1583" rx="6.9" ry="6.4"/><ellipse cx="1623" cy="1588.6" rx="6.9" ry="6.4"/><ellipse cx="1611" cy="1590.6" rx="6.9" ry="6.4"/><ellipse cx="1603" cy="1596" rx="6.9" ry="6.4"/><ellipse cx="1385" cy="1605" rx="6.9" ry="6.4"/><ellipse cx="1437.6" cy="1610" rx="6.9" ry="6.4"/><ellipse cx="1468" cy="1606" rx="6.9" ry="6.4"/><ellipse cx="1537" cy="1601" rx="6.9" ry="6.4"/><ellipse cx="1539" cy="1609.6" rx="6.9" ry="6.4"/><ellipse cx="1566.6" cy="1610" rx="6.9" ry="6.4"/><ellipse cx="1618.6" cy="1616.6" rx="6.9" ry="6.4"/><ellipse cx="1582.4" cy="1628.6" rx="6.9" ry="6.4"/><ellipse cx="1330" cy="1620.6" rx="6.9" ry="6.4"/><ellipse cx="1353.6" cy="1627.6" rx="6.9" ry="6.4"/><ellipse cx="1329" cy="1636" rx="6.9" ry="6.4"/><ellipse cx="1395.6" cy="1639.6" rx="6.9" ry="6.4"/><ellipse cx="1312" cy="1651" rx="6.9" ry="6.4"/><ellipse cx="1290.6" cy="1682" rx="6.9" ry="6.4"/><ellipse cx="1299.6" cy="1706.4" rx="6.9" ry="6.4"/><ellipse cx="1257.6" cy="1712.6" rx="6.9" ry="6.4"/><ellipse cx="1280.4" cy="1725" rx="6.9" ry="6.4"/><ellipse cx="1303" cy="1733" rx="6.9" ry="6.4"/><ellipse cx="1383.4" cy="1654" rx="6.9" ry="6.4"/><ellipse cx="1352" cy="1660.6" rx="6.9" ry="6.4"/><ellipse cx="1336" cy="1681" rx="6.9" ry="6.4"/><ellipse cx="1453" cy="1673" rx="6.9" ry="6.4"/><ellipse cx="1458.4" cy="1691.6" rx="6.9" ry="6.4"/><ellipse cx="1535" cy="1662" rx="6.9" ry="6.4"/><ellipse cx="1628" cy="1661.6" rx="6.9" ry="6.4"/><ellipse cx="1600" cy="1708" rx="6.9" ry="6.4"/><ellipse cx="1631.6" cy="1733.4" rx="6.9" ry="6.4"/></g>
<line x1="980.7" y1="1408.6" x2="980.7" y2="1888.05" stroke="#000" stroke-width="1.5"/>
<line x1="979.95" y1="1887.3" x2="1669.8" y2="1887.3" stroke="#000" stroke-width="1.5"/>
<line x1="1009.6" y1="1887.3" x2="1009.6" y2="1879.8" stroke="#000" stroke-width="1.5"/>
<line x1="1114.4" y1="1887.3" x2="1114.4" y2="1879.8" stroke="#000" stroke-width="1.5"/>
<line x1="1219.2" y1="1887.3" x2="1219.2" y2="1879.8" stroke="#000" stroke-width="1.5"/>
<line x1="1324" y1="1887.3" x2="1324" y2="1879.8" stroke="#000" stroke-width="1.5"/>
<line x1="1428.8" y1="1887.3" x2="1428.8" y2="1879.8" stroke="#000" stroke-width="1.5"/>
<line x1="1533.6" y1="1887.3" x2="1533.6" y2="1879.8" stroke="#000" stroke-width="1.5"/>
<line x1="1638.4" y1="1887.3" x2="1638.4" y2="1879.8" stroke="#000" stroke-width="1.5"/>
<line x1="980.7" y1="1880.3" x2="988.2" y2="1880.3" stroke="#000" stroke-width="1.5"/>
<line x1="980.7" y1="1725.63" x2="988.2" y2="1725.63" stroke="#000" stroke-width="1.5"/>
<line x1="980.7" y1="1570.97" x2="988.2" y2="1570.97" stroke="#000" stroke-width="1.5"/>
<line x1="980.7" y1="1416.3" x2="988.2" y2="1416.3" stroke="#000" stroke-width="1.5"/>
<text transform="translate(998.65,1934.7) scale(1.0900,1)" font-size="40.2" font-weight="bold" fill="#000">0</text>
<text transform="translate(1092.55,1934.7) scale(1.0900,1)" font-size="40.2" font-weight="bold" fill="#000">60</text>
<text transform="translate(1185.41,1934.7) scale(1.0900,1)" font-size="40.2" font-weight="bold" fill="#000">120</text>
<text transform="translate(1290.21,1934.7) scale(1.0900,1)" font-size="40.2" font-weight="bold" fill="#000">180</text>
<text transform="translate(1395.83,1934.7) scale(1.0900,1)" font-size="40.2" font-weight="bold" fill="#000">240</text>
<text transform="translate(1500.74,1934.7) scale(1.0900,1)" font-size="40.2" font-weight="bold" fill="#000">300</text>
<text transform="translate(1605.54,1934.7) scale(1.0900,1)" font-size="40.2" font-weight="bold" fill="#000">360</text>
<text transform="translate(890.68,1893.67) scale(1.0900,1)" font-size="40.2" font-weight="bold" fill="#000">0.12</text>
<text transform="translate(890.13,1739) scale(1.0900,1)" font-size="40.2" font-weight="bold" fill="#000">0.16</text>
<text transform="translate(912.59,1584.33) scale(1.0900,1)" font-size="40.2" font-weight="bold" fill="#000">0.2</text>
<text transform="translate(889.59,1429.67) scale(1.0900,1)" font-size="40.2" font-weight="bold" fill="#000">0.24</text>
<text transform="translate(1240.32,1985.46) scale(1.1120,1)" font-size="42.53" font-weight="bold" fill="#000">Samples</text>
<text transform="translate(877,1701.34) rotate(-90) scale(0.9316,1)" font-size="46.97" font-weight="bold" fill="#000">AMA</text>
<text transform="translate(1043.35,1395.8) scale(0.9940,1)" font-size="37.4" font-weight="normal" fill="#000">1- Healthy, 2- Unhealthy bearing</text>
<rect x="1553.3" y="1419.7" width="78.6" height="86.9" fill="#fff" stroke="#000" stroke-width="1.5"/>
<ellipse cx="1581.2" cy="1442.4" rx="6.9" ry="6.4" fill="#0000ff"/>
<ellipse cx="1581.2" cy="1484.3" rx="6.9" ry="6.4" fill="#ff0000"/>
<text transform="translate(1606.74,1455.2) scale(1.0000,1)" font-size="37" font-weight="bold" fill="#000">1</text>
<text transform="translate(1608.13,1497) scale(1.0000,1)" font-size="37" font-weight="bold" fill="#000">2</text>
<rect x="2" y="2.5" width="1716" height="1994.5" fill="none" stroke="#000" stroke-width="4"/>
</svg></body></html>
